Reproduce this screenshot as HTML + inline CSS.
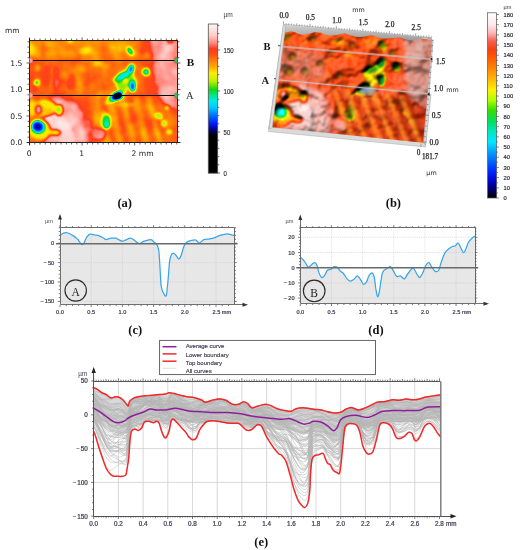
<!DOCTYPE html>
<html><head><meta charset="utf-8"><style>
html,body{margin:0;padding:0;background:#fff;width:520px;height:550px;overflow:hidden;position:relative}
svg{display:block}
</style></head><body>
<svg width="520" height="550" viewBox="0 0 520 550">
<path d="M60,235.4C60.58,235.02 62.15,233.5 63.5,233.1C64.85,232.7 66.57,232.62 68.1,233C69.63,233.38 71.17,234.42 72.7,235.4C74.23,236.38 76.15,237.82 77.3,238.9C78.45,239.98 78.82,240.95 79.6,241.9C80.38,242.85 81.22,244.53 82,244.6C82.78,244.67 83.53,243.52 84.3,242.3C85.07,241.08 85.65,238.65 86.6,237.3C87.55,235.95 88.65,234.58 90,234.2C91.35,233.82 93.15,234.72 94.7,235C96.25,235.28 97.77,235.37 99.3,235.9C100.83,236.43 102.75,237.58 103.9,238.2C105.05,238.82 105.05,239.6 106.2,239.6C107.35,239.6 109.27,238.43 110.8,238.2C112.33,237.97 114.03,237.93 115.4,238.2C116.77,238.47 117.83,239.3 119,239.8C120.17,240.3 121.23,241.2 122.4,241.2C123.57,241.2 124.65,240.3 126,239.8C127.35,239.3 129.07,238.08 130.5,238.2C131.93,238.32 133.15,239.62 134.6,240.5C136.05,241.38 137.65,243.38 139.2,243.5C140.75,243.62 141.97,241.85 143.9,241.2C145.83,240.55 149.08,239.42 150.8,239.6C152.52,239.78 153.13,241.35 154.2,242.3C155.27,243.25 156.42,243.75 157.2,245.3C157.98,246.85 158.43,247.87 158.9,251.6C159.37,255.33 159.62,261.93 160,267.7C160.38,273.47 160.62,281.97 161.2,286.2C161.78,290.43 162.85,291.48 163.5,293.1C164.15,294.72 164.6,295.7 165.1,295.9C165.6,296.1 166,297.07 166.5,294.3C167,291.53 167.57,284.88 168.1,279.3C168.63,273.72 169.12,264.97 169.7,260.8C170.28,256.63 170.9,255.53 171.6,254.3C172.3,253.07 173.13,253.17 173.9,253.4C174.67,253.63 175.35,254.77 176.2,255.7C177.05,256.63 178.15,259.12 179,259C179.85,258.88 180.53,257 181.3,255C182.07,253 182.72,249.12 183.6,247C184.48,244.88 185.33,243.38 186.6,242.3C187.87,241.22 189.67,240.88 191.2,240.5C192.73,240.12 194.45,239.58 195.8,240C197.15,240.42 197.95,243.07 199.3,243C200.65,242.93 202.17,240.28 203.9,239.6C205.63,238.92 207.77,239.28 209.7,238.9C211.63,238.52 213.78,237.88 215.5,237.3C217.22,236.72 218.08,235.98 220,235.4C221.92,234.82 225.07,233.88 227,233.8C228.93,233.72 230.27,234.63 231.6,234.9C232.93,235.17 234.43,235.32 235,235.4 L235,304.8 L60,304.8 Z" fill="#e7e7e7"/>
<line x1="91.2" y1="227.4" x2="91.2" y2="304.8" stroke="#c4c4c4" stroke-width="0.6" stroke-dasharray="1,1.2"/>
<line x1="122.4" y1="227.4" x2="122.4" y2="304.8" stroke="#c4c4c4" stroke-width="0.6" stroke-dasharray="1,1.2"/>
<line x1="153.6" y1="227.4" x2="153.6" y2="304.8" stroke="#c4c4c4" stroke-width="0.6" stroke-dasharray="1,1.2"/>
<line x1="184.8" y1="227.4" x2="184.8" y2="304.8" stroke="#c4c4c4" stroke-width="0.6" stroke-dasharray="1,1.2"/>
<line x1="216" y1="227.4" x2="216" y2="304.8" stroke="#c4c4c4" stroke-width="0.6" stroke-dasharray="1,1.2"/>
<line x1="60" y1="262.6" x2="234.6" y2="262.6" stroke="#c4c4c4" stroke-width="0.6" stroke-dasharray="1,1.2"/>
<line x1="60" y1="282" x2="234.6" y2="282" stroke="#c4c4c4" stroke-width="0.6" stroke-dasharray="1,1.2"/>
<line x1="60" y1="301.4" x2="234.6" y2="301.4" stroke="#c4c4c4" stroke-width="0.6" stroke-dasharray="1,1.2"/>
<path d="M60,235.4C60.58,235.02 62.15,233.5 63.5,233.1C64.85,232.7 66.57,232.62 68.1,233C69.63,233.38 71.17,234.42 72.7,235.4C74.23,236.38 76.15,237.82 77.3,238.9C78.45,239.98 78.82,240.95 79.6,241.9C80.38,242.85 81.22,244.53 82,244.6C82.78,244.67 83.53,243.52 84.3,242.3C85.07,241.08 85.65,238.65 86.6,237.3C87.55,235.95 88.65,234.58 90,234.2C91.35,233.82 93.15,234.72 94.7,235C96.25,235.28 97.77,235.37 99.3,235.9C100.83,236.43 102.75,237.58 103.9,238.2C105.05,238.82 105.05,239.6 106.2,239.6C107.35,239.6 109.27,238.43 110.8,238.2C112.33,237.97 114.03,237.93 115.4,238.2C116.77,238.47 117.83,239.3 119,239.8C120.17,240.3 121.23,241.2 122.4,241.2C123.57,241.2 124.65,240.3 126,239.8C127.35,239.3 129.07,238.08 130.5,238.2C131.93,238.32 133.15,239.62 134.6,240.5C136.05,241.38 137.65,243.38 139.2,243.5C140.75,243.62 141.97,241.85 143.9,241.2C145.83,240.55 149.08,239.42 150.8,239.6C152.52,239.78 153.13,241.35 154.2,242.3C155.27,243.25 156.42,243.75 157.2,245.3C157.98,246.85 158.43,247.87 158.9,251.6C159.37,255.33 159.62,261.93 160,267.7C160.38,273.47 160.62,281.97 161.2,286.2C161.78,290.43 162.85,291.48 163.5,293.1C164.15,294.72 164.6,295.7 165.1,295.9C165.6,296.1 166,297.07 166.5,294.3C167,291.53 167.57,284.88 168.1,279.3C168.63,273.72 169.12,264.97 169.7,260.8C170.28,256.63 170.9,255.53 171.6,254.3C172.3,253.07 173.13,253.17 173.9,253.4C174.67,253.63 175.35,254.77 176.2,255.7C177.05,256.63 178.15,259.12 179,259C179.85,258.88 180.53,257 181.3,255C182.07,253 182.72,249.12 183.6,247C184.48,244.88 185.33,243.38 186.6,242.3C187.87,241.22 189.67,240.88 191.2,240.5C192.73,240.12 194.45,239.58 195.8,240C197.15,240.42 197.95,243.07 199.3,243C200.65,242.93 202.17,240.28 203.9,239.6C205.63,238.92 207.77,239.28 209.7,238.9C211.63,238.52 213.78,237.88 215.5,237.3C217.22,236.72 218.08,235.98 220,235.4C221.92,234.82 225.07,233.88 227,233.8C228.93,233.72 230.27,234.63 231.6,234.9C232.93,235.17 234.43,235.32 235,235.4" fill="none" stroke="#35a6ea" stroke-width="1.25" stroke-linejoin="round"/>
<line x1="56" y1="243.7" x2="237.6" y2="243.7" stroke="#6a6a6a" stroke-width="1.4"/>
<line x1="60.5" y1="227.5" x2="234.5" y2="227.5" stroke="#6a6a6a" stroke-width="1"/>
<line x1="234.5" y1="227.5" x2="234.5" y2="304.5" stroke="#6a6a6a" stroke-width="1"/>
<line x1="60.5" y1="217" x2="60.5" y2="304.5" stroke="#707070" stroke-width="1"/>
<line x1="60.5" y1="304.5" x2="245" y2="304.5" stroke="#707070" stroke-width="1"/>
<path d="M60,214 l-2,5.5 l4,0 Z" fill="#333"/>
<path d="M248,304.8 l-5.5,-2 l0,4 Z" fill="#333"/>
<path d="M60,304.8v2.2M60,227.4v-2.2M66.24,304.8v1.3M66.24,227.4v-1.3M72.48,304.8v1.3M72.48,227.4v-1.3M78.72,304.8v1.3M78.72,227.4v-1.3M84.96,304.8v1.3M84.96,227.4v-1.3M91.2,304.8v2.2M91.2,227.4v-2.2M97.44,304.8v1.3M97.44,227.4v-1.3M103.68,304.8v1.3M103.68,227.4v-1.3M109.92,304.8v1.3M109.92,227.4v-1.3M116.16,304.8v1.3M116.16,227.4v-1.3M122.4,304.8v2.2M122.4,227.4v-2.2M128.64,304.8v1.3M128.64,227.4v-1.3M134.88,304.8v1.3M134.88,227.4v-1.3M141.12,304.8v1.3M141.12,227.4v-1.3M147.36,304.8v1.3M147.36,227.4v-1.3M153.6,304.8v2.2M153.6,227.4v-2.2M159.84,304.8v1.3M159.84,227.4v-1.3M166.08,304.8v1.3M166.08,227.4v-1.3M172.32,304.8v1.3M172.32,227.4v-1.3M178.56,304.8v1.3M178.56,227.4v-1.3M184.8,304.8v2.2M184.8,227.4v-2.2M191.04,304.8v1.3M191.04,227.4v-1.3M197.28,304.8v1.3M197.28,227.4v-1.3M203.52,304.8v1.3M203.52,227.4v-1.3M209.76,304.8v1.3M209.76,227.4v-1.3M216,304.8v2.2M216,227.4v-2.2M222.24,304.8v1.3M222.24,227.4v-1.3M228.48,304.8v1.3M228.48,227.4v-1.3M60,227.68h-1.3M234.6,227.68h1.3M60,231.56h-1.3M234.6,231.56h1.3M60,235.44h-1.3M234.6,235.44h1.3M60,239.32h-1.3M234.6,239.32h1.3M60,243.2h-2.2M234.6,243.2h2.2M60,247.08h-1.3M234.6,247.08h1.3M60,250.96h-1.3M234.6,250.96h1.3M60,254.84h-1.3M234.6,254.84h1.3M60,258.72h-1.3M234.6,258.72h1.3M60,262.6h-2.2M234.6,262.6h2.2M60,266.48h-1.3M234.6,266.48h1.3M60,270.36h-1.3M234.6,270.36h1.3M60,274.24h-1.3M234.6,274.24h1.3M60,278.12h-1.3M234.6,278.12h1.3M60,282h-2.2M234.6,282h2.2M60,285.88h-1.3M234.6,285.88h1.3M60,289.76h-1.3M234.6,289.76h1.3M60,293.64h-1.3M234.6,293.64h1.3M60,297.52h-1.3M234.6,297.52h1.3M60,301.4h-2.2M234.6,301.4h2.2" stroke="#555" stroke-width="0.8" fill="none"/>
<text x="54.2" y="245.2" style="font-family:'Liberation Sans','DejaVu Sans',sans-serif;font-size:5.6px;stroke:#3c3c50;stroke-width:0.22" fill="#3c3c50" text-anchor="end">0</text>
<text x="54.2" y="264.6" style="font-family:'Liberation Sans','DejaVu Sans',sans-serif;font-size:5.6px;stroke:#3c3c50;stroke-width:0.22" fill="#3c3c50" text-anchor="end">50</text>
<line x1="43.57" y1="262.5" x2="46.77" y2="262.5" stroke="#7a7a88" stroke-width="0.75"/>
<text x="54.2" y="284" style="font-family:'Liberation Sans','DejaVu Sans',sans-serif;font-size:5.6px;stroke:#3c3c50;stroke-width:0.22" fill="#3c3c50" text-anchor="end">100</text>
<line x1="40.46" y1="281.5" x2="43.66" y2="281.5" stroke="#7a7a88" stroke-width="0.75"/>
<text x="54.2" y="303.4" style="font-family:'Liberation Sans','DejaVu Sans',sans-serif;font-size:5.6px;stroke:#3c3c50;stroke-width:0.22" fill="#3c3c50" text-anchor="end">150</text>
<line x1="40.46" y1="301.5" x2="43.66" y2="301.5" stroke="#7a7a88" stroke-width="0.75"/>
<text x="53" y="222.5" style="font-family:'Liberation Sans','DejaVu Sans',sans-serif;font-size:5.6px;" fill="#3c3c50" text-anchor="end">µm</text>
<text x="60" y="314.2" style="font-family:'Liberation Sans','DejaVu Sans',sans-serif;font-size:5.6px;stroke:#3c3c50;stroke-width:0.22" fill="#3c3c50" text-anchor="middle">0.0</text>
<text x="91.2" y="314.2" style="font-family:'Liberation Sans','DejaVu Sans',sans-serif;font-size:5.6px;stroke:#3c3c50;stroke-width:0.22" fill="#3c3c50" text-anchor="middle">0.5</text>
<text x="122.4" y="314.2" style="font-family:'Liberation Sans','DejaVu Sans',sans-serif;font-size:5.6px;stroke:#3c3c50;stroke-width:0.22" fill="#3c3c50" text-anchor="middle">1.0</text>
<text x="153.6" y="314.2" style="font-family:'Liberation Sans','DejaVu Sans',sans-serif;font-size:5.6px;stroke:#3c3c50;stroke-width:0.22" fill="#3c3c50" text-anchor="middle">1.5</text>
<text x="184.8" y="314.2" style="font-family:'Liberation Sans','DejaVu Sans',sans-serif;font-size:5.6px;stroke:#3c3c50;stroke-width:0.22" fill="#3c3c50" text-anchor="middle">2.0</text>
<text x="212.5" y="314.2" style="font-family:'Liberation Sans','DejaVu Sans',sans-serif;font-size:5.6px;stroke:#3c3c50;stroke-width:0.22" fill="#3c3c50" text-anchor="start">2.5 mm</text>
<circle cx="75.7" cy="290.5" r="10.7" fill="none" stroke="#2a2a2a" stroke-width="1.15"/>
<text x="75.7" y="296.2" style="font-family:'Liberation Serif','DejaVu Serif',serif;font-size:11.5px;" fill="#222" text-anchor="middle">A</text>
<path d="M300.3,257.3C300.77,257.7 302.25,258.8 303.1,259.7C303.95,260.6 304.55,261.48 305.4,262.7C306.25,263.92 307.23,266.62 308.2,267C309.17,267.38 310.13,265.72 311.2,265C312.27,264.28 313.63,262.63 314.6,262.7C315.57,262.77 316.3,263.78 317,265.4C317.7,267.02 318.03,270.4 318.8,272.4C319.57,274.4 320.68,276.83 321.6,277.4C322.52,277.97 323.35,276.95 324.3,275.8C325.25,274.65 326.4,271.53 327.3,270.5C328.2,269.47 329,269.85 329.7,269.6C330.4,269.35 330.73,269.5 331.5,269C332.27,268.5 333.3,266.85 334.3,266.6C335.3,266.35 336.47,266.73 337.5,267.5C338.53,268.27 339.5,270.2 340.5,271.2C341.5,272.2 342.42,272.23 343.5,273.5C344.58,274.77 345.85,277.53 347,278.8C348.15,280.07 349.25,281.02 350.4,281.1C351.55,281.18 352.73,280.18 353.9,279.3C355.07,278.42 356.32,275.8 357.4,275.8C358.48,275.8 359.37,277.87 360.4,279.3C361.43,280.73 362.57,284.02 363.6,284.4C364.63,284.78 365.72,283.03 366.6,281.6C367.48,280.17 368.02,277.27 368.9,275.8C369.78,274.33 371.02,272.6 371.9,272.8C372.78,273 373.55,274.38 374.2,277C374.85,279.62 375.25,285.23 375.8,288.5C376.35,291.77 376.92,296.02 377.5,296.6C378.08,297.18 378.68,294.88 379.3,292C379.92,289.12 380.62,282.65 381.2,279.3C381.78,275.95 381.97,273.63 382.8,271.9C383.63,270.17 384.93,269.78 386.2,268.9C387.47,268.02 389.18,266.22 390.4,266.6C391.62,266.98 392.42,269.55 393.5,271.2C394.58,272.85 395.75,275.73 396.9,276.5C398.05,277.27 399.17,275.42 400.4,275.8C401.63,276.18 403.03,279.18 404.3,278.8C405.57,278.42 406.53,275.27 408,273.5C409.47,271.73 411.67,268.2 413.1,268.2C414.53,268.2 415.52,271.92 416.6,273.5C417.68,275.08 418.57,277.82 419.6,277.7C420.63,277.58 421.77,274.85 422.8,272.8C423.83,270.75 424.8,267.08 425.8,265.4C426.8,263.72 427.83,262.5 428.8,262.7C429.77,262.9 430.57,265.18 431.6,266.6C432.63,268.02 433.85,270.55 435,271.2C436.15,271.85 437.45,272.03 438.5,270.5C439.55,268.97 440.22,264.97 441.3,262C442.38,259.03 443.73,254.9 445,252.7C446.27,250.5 447.67,249.83 448.9,248.8C450.13,247.77 451.32,247 452.4,246.5C453.48,246 454.45,246.38 455.4,245.8C456.35,245.22 457.27,242.8 458.1,243C458.93,243.2 459.52,245.38 460.4,247C461.28,248.62 462.52,252.32 463.4,252.7C464.28,253.08 464.85,251.03 465.7,249.3C466.55,247.57 467.45,244.15 468.5,242.3C469.55,240.45 470.92,239.27 472,238.2C473.08,237.13 474.5,236.28 475,235.9 L475,303.8 L300.3,303.8 Z" fill="#e7e7e7"/>
<line x1="331.45" y1="227.4" x2="331.45" y2="303.8" stroke="#c4c4c4" stroke-width="0.6" stroke-dasharray="1,1.2"/>
<line x1="362.6" y1="227.4" x2="362.6" y2="303.8" stroke="#c4c4c4" stroke-width="0.6" stroke-dasharray="1,1.2"/>
<line x1="393.75" y1="227.4" x2="393.75" y2="303.8" stroke="#c4c4c4" stroke-width="0.6" stroke-dasharray="1,1.2"/>
<line x1="424.9" y1="227.4" x2="424.9" y2="303.8" stroke="#c4c4c4" stroke-width="0.6" stroke-dasharray="1,1.2"/>
<line x1="456.05" y1="227.4" x2="456.05" y2="303.8" stroke="#c4c4c4" stroke-width="0.6" stroke-dasharray="1,1.2"/>
<line x1="300.3" y1="237.3" x2="475.2" y2="237.3" stroke="#c4c4c4" stroke-width="0.6" stroke-dasharray="1,1.2"/>
<line x1="300.3" y1="252.5" x2="475.2" y2="252.5" stroke="#c4c4c4" stroke-width="0.6" stroke-dasharray="1,1.2"/>
<line x1="300.3" y1="282.9" x2="475.2" y2="282.9" stroke="#c4c4c4" stroke-width="0.6" stroke-dasharray="1,1.2"/>
<line x1="300.3" y1="298.1" x2="475.2" y2="298.1" stroke="#c4c4c4" stroke-width="0.6" stroke-dasharray="1,1.2"/>
<path d="M300.3,257.3C300.77,257.7 302.25,258.8 303.1,259.7C303.95,260.6 304.55,261.48 305.4,262.7C306.25,263.92 307.23,266.62 308.2,267C309.17,267.38 310.13,265.72 311.2,265C312.27,264.28 313.63,262.63 314.6,262.7C315.57,262.77 316.3,263.78 317,265.4C317.7,267.02 318.03,270.4 318.8,272.4C319.57,274.4 320.68,276.83 321.6,277.4C322.52,277.97 323.35,276.95 324.3,275.8C325.25,274.65 326.4,271.53 327.3,270.5C328.2,269.47 329,269.85 329.7,269.6C330.4,269.35 330.73,269.5 331.5,269C332.27,268.5 333.3,266.85 334.3,266.6C335.3,266.35 336.47,266.73 337.5,267.5C338.53,268.27 339.5,270.2 340.5,271.2C341.5,272.2 342.42,272.23 343.5,273.5C344.58,274.77 345.85,277.53 347,278.8C348.15,280.07 349.25,281.02 350.4,281.1C351.55,281.18 352.73,280.18 353.9,279.3C355.07,278.42 356.32,275.8 357.4,275.8C358.48,275.8 359.37,277.87 360.4,279.3C361.43,280.73 362.57,284.02 363.6,284.4C364.63,284.78 365.72,283.03 366.6,281.6C367.48,280.17 368.02,277.27 368.9,275.8C369.78,274.33 371.02,272.6 371.9,272.8C372.78,273 373.55,274.38 374.2,277C374.85,279.62 375.25,285.23 375.8,288.5C376.35,291.77 376.92,296.02 377.5,296.6C378.08,297.18 378.68,294.88 379.3,292C379.92,289.12 380.62,282.65 381.2,279.3C381.78,275.95 381.97,273.63 382.8,271.9C383.63,270.17 384.93,269.78 386.2,268.9C387.47,268.02 389.18,266.22 390.4,266.6C391.62,266.98 392.42,269.55 393.5,271.2C394.58,272.85 395.75,275.73 396.9,276.5C398.05,277.27 399.17,275.42 400.4,275.8C401.63,276.18 403.03,279.18 404.3,278.8C405.57,278.42 406.53,275.27 408,273.5C409.47,271.73 411.67,268.2 413.1,268.2C414.53,268.2 415.52,271.92 416.6,273.5C417.68,275.08 418.57,277.82 419.6,277.7C420.63,277.58 421.77,274.85 422.8,272.8C423.83,270.75 424.8,267.08 425.8,265.4C426.8,263.72 427.83,262.5 428.8,262.7C429.77,262.9 430.57,265.18 431.6,266.6C432.63,268.02 433.85,270.55 435,271.2C436.15,271.85 437.45,272.03 438.5,270.5C439.55,268.97 440.22,264.97 441.3,262C442.38,259.03 443.73,254.9 445,252.7C446.27,250.5 447.67,249.83 448.9,248.8C450.13,247.77 451.32,247 452.4,246.5C453.48,246 454.45,246.38 455.4,245.8C456.35,245.22 457.27,242.8 458.1,243C458.93,243.2 459.52,245.38 460.4,247C461.28,248.62 462.52,252.32 463.4,252.7C464.28,253.08 464.85,251.03 465.7,249.3C466.55,247.57 467.45,244.15 468.5,242.3C469.55,240.45 470.92,239.27 472,238.2C473.08,237.13 474.5,236.28 475,235.9" fill="none" stroke="#35a6ea" stroke-width="1.25" stroke-linejoin="round"/>
<line x1="296.3" y1="267.7" x2="478.2" y2="267.7" stroke="#6a6a6a" stroke-width="1.4"/>
<line x1="300.5" y1="227.5" x2="475.5" y2="227.5" stroke="#6a6a6a" stroke-width="1"/>
<line x1="475.5" y1="227.5" x2="475.5" y2="303.5" stroke="#6a6a6a" stroke-width="1"/>
<line x1="300.5" y1="217.6" x2="300.5" y2="303.5" stroke="#707070" stroke-width="1"/>
<line x1="300.5" y1="303.5" x2="486" y2="303.5" stroke="#707070" stroke-width="1"/>
<path d="M300.3,214.6 l-2,5.5 l4,0 Z" fill="#333"/>
<path d="M489,303.8 l-5.5,-2 l0,4 Z" fill="#333"/>
<path d="M300.3,303.8v2.2M300.3,227.4v-2.2M306.53,303.8v1.3M306.53,227.4v-1.3M312.76,303.8v1.3M312.76,227.4v-1.3M318.99,303.8v1.3M318.99,227.4v-1.3M325.22,303.8v1.3M325.22,227.4v-1.3M331.45,303.8v2.2M331.45,227.4v-2.2M337.68,303.8v1.3M337.68,227.4v-1.3M343.91,303.8v1.3M343.91,227.4v-1.3M350.14,303.8v1.3M350.14,227.4v-1.3M356.37,303.8v1.3M356.37,227.4v-1.3M362.6,303.8v2.2M362.6,227.4v-2.2M368.83,303.8v1.3M368.83,227.4v-1.3M375.06,303.8v1.3M375.06,227.4v-1.3M381.29,303.8v1.3M381.29,227.4v-1.3M387.52,303.8v1.3M387.52,227.4v-1.3M393.75,303.8v2.2M393.75,227.4v-2.2M399.98,303.8v1.3M399.98,227.4v-1.3M406.21,303.8v1.3M406.21,227.4v-1.3M412.44,303.8v1.3M412.44,227.4v-1.3M418.67,303.8v1.3M418.67,227.4v-1.3M424.9,303.8v2.2M424.9,227.4v-2.2M431.13,303.8v1.3M431.13,227.4v-1.3M437.36,303.8v1.3M437.36,227.4v-1.3M443.59,303.8v1.3M443.59,227.4v-1.3M449.82,303.8v1.3M449.82,227.4v-1.3M456.05,303.8v2.2M456.05,227.4v-2.2M462.28,303.8v1.3M462.28,227.4v-1.3M468.51,303.8v1.3M468.51,227.4v-1.3M474.74,303.8v1.3M474.74,227.4v-1.3M300.3,228.18h-1.3M475.2,228.18h1.3M300.3,231.22h-1.3M475.2,231.22h1.3M300.3,234.26h-1.3M475.2,234.26h1.3M300.3,237.3h-2.2M475.2,237.3h2.2M300.3,240.34h-1.3M475.2,240.34h1.3M300.3,243.38h-1.3M475.2,243.38h1.3M300.3,246.42h-1.3M475.2,246.42h1.3M300.3,249.46h-1.3M475.2,249.46h1.3M300.3,252.5h-2.2M475.2,252.5h2.2M300.3,255.54h-1.3M475.2,255.54h1.3M300.3,258.58h-1.3M475.2,258.58h1.3M300.3,261.62h-1.3M475.2,261.62h1.3M300.3,264.66h-1.3M475.2,264.66h1.3M300.3,267.7h-2.2M475.2,267.7h2.2M300.3,270.74h-1.3M475.2,270.74h1.3M300.3,273.78h-1.3M475.2,273.78h1.3M300.3,276.82h-1.3M475.2,276.82h1.3M300.3,279.86h-1.3M475.2,279.86h1.3M300.3,282.9h-2.2M475.2,282.9h2.2M300.3,285.94h-1.3M475.2,285.94h1.3M300.3,288.98h-1.3M475.2,288.98h1.3M300.3,292.02h-1.3M475.2,292.02h1.3M300.3,295.06h-1.3M475.2,295.06h1.3M300.3,298.1h-2.2M475.2,298.1h2.2M300.3,301.14h-1.3M475.2,301.14h1.3" stroke="#555" stroke-width="0.8" fill="none"/>
<text x="294.5" y="239.3" style="font-family:'Liberation Sans','DejaVu Sans',sans-serif;font-size:5.6px;stroke:#3c3c50;stroke-width:0.22" fill="#3c3c50" text-anchor="end">20</text>
<text x="294.5" y="254.5" style="font-family:'Liberation Sans','DejaVu Sans',sans-serif;font-size:5.6px;stroke:#3c3c50;stroke-width:0.22" fill="#3c3c50" text-anchor="end">10</text>
<text x="294.5" y="269.7" style="font-family:'Liberation Sans','DejaVu Sans',sans-serif;font-size:5.6px;stroke:#3c3c50;stroke-width:0.22" fill="#3c3c50" text-anchor="end">0</text>
<text x="294.5" y="284.9" style="font-family:'Liberation Sans','DejaVu Sans',sans-serif;font-size:5.6px;stroke:#3c3c50;stroke-width:0.22" fill="#3c3c50" text-anchor="end">10</text>
<line x1="283.87" y1="282.5" x2="287.07" y2="282.5" stroke="#7a7a88" stroke-width="0.75"/>
<text x="294.5" y="300.1" style="font-family:'Liberation Sans','DejaVu Sans',sans-serif;font-size:5.6px;stroke:#3c3c50;stroke-width:0.22" fill="#3c3c50" text-anchor="end">20</text>
<line x1="283.87" y1="298.5" x2="287.07" y2="298.5" stroke="#7a7a88" stroke-width="0.75"/>
<text x="293.3" y="223.1" style="font-family:'Liberation Sans','DejaVu Sans',sans-serif;font-size:5.6px;" fill="#3c3c50" text-anchor="end">µm</text>
<text x="300.3" y="314.2" style="font-family:'Liberation Sans','DejaVu Sans',sans-serif;font-size:5.6px;stroke:#3c3c50;stroke-width:0.22" fill="#3c3c50" text-anchor="middle">0.0</text>
<text x="331.45" y="314.2" style="font-family:'Liberation Sans','DejaVu Sans',sans-serif;font-size:5.6px;stroke:#3c3c50;stroke-width:0.22" fill="#3c3c50" text-anchor="middle">0.5</text>
<text x="362.6" y="314.2" style="font-family:'Liberation Sans','DejaVu Sans',sans-serif;font-size:5.6px;stroke:#3c3c50;stroke-width:0.22" fill="#3c3c50" text-anchor="middle">1.0</text>
<text x="393.75" y="314.2" style="font-family:'Liberation Sans','DejaVu Sans',sans-serif;font-size:5.6px;stroke:#3c3c50;stroke-width:0.22" fill="#3c3c50" text-anchor="middle">1.5</text>
<text x="424.9" y="314.2" style="font-family:'Liberation Sans','DejaVu Sans',sans-serif;font-size:5.6px;stroke:#3c3c50;stroke-width:0.22" fill="#3c3c50" text-anchor="middle">2.0</text>
<text x="452.55" y="314.2" style="font-family:'Liberation Sans','DejaVu Sans',sans-serif;font-size:5.6px;stroke:#3c3c50;stroke-width:0.22" fill="#3c3c50" text-anchor="start">2.5 mm</text>
<circle cx="314.2" cy="290.9" r="10.8" fill="none" stroke="#2a2a2a" stroke-width="1.15"/>
<text x="314.2" y="296.6" style="font-family:'Liberation Serif','DejaVu Serif',serif;font-size:11.5px;" fill="#222" text-anchor="middle">B</text>
<line x1="118.4" y1="381" x2="118.4" y2="516.2" stroke="#c8c8c8" stroke-width="0.7"/>
<line x1="143.1" y1="381" x2="143.1" y2="516.2" stroke="#c8c8c8" stroke-width="0.7"/>
<line x1="167.8" y1="381" x2="167.8" y2="516.2" stroke="#c8c8c8" stroke-width="0.7"/>
<line x1="192.5" y1="381" x2="192.5" y2="516.2" stroke="#c8c8c8" stroke-width="0.7"/>
<line x1="217.2" y1="381" x2="217.2" y2="516.2" stroke="#c8c8c8" stroke-width="0.7"/>
<line x1="241.9" y1="381" x2="241.9" y2="516.2" stroke="#c8c8c8" stroke-width="0.7"/>
<line x1="266.6" y1="381" x2="266.6" y2="516.2" stroke="#c8c8c8" stroke-width="0.7"/>
<line x1="291.3" y1="381" x2="291.3" y2="516.2" stroke="#c8c8c8" stroke-width="0.7"/>
<line x1="316" y1="381" x2="316" y2="516.2" stroke="#c8c8c8" stroke-width="0.7"/>
<line x1="340.7" y1="381" x2="340.7" y2="516.2" stroke="#c8c8c8" stroke-width="0.7"/>
<line x1="365.4" y1="381" x2="365.4" y2="516.2" stroke="#c8c8c8" stroke-width="0.7"/>
<line x1="390.1" y1="381" x2="390.1" y2="516.2" stroke="#c8c8c8" stroke-width="0.7"/>
<line x1="414.8" y1="381" x2="414.8" y2="516.2" stroke="#c8c8c8" stroke-width="0.7"/>
<line x1="93.7" y1="448.6" x2="440.8" y2="448.6" stroke="#c8c8c8" stroke-width="0.7"/>
<line x1="93.7" y1="482.4" x2="440.8" y2="482.4" stroke="#c8c8c8" stroke-width="0.7"/>
<path d="M93.7,387.8 96.0,388.7 98.4,390.2 100.7,391.9 103.0,393.2 105.3,394.2 107.7,395.6 110.0,397.2 112.3,397.6 114.7,397.0 117.0,397.1 119.3,397.4 121.6,399.0 124.0,401.1 126.3,404.1 128.6,404.7 131.0,400.2 133.3,398.4 135.6,397.6 138.0,396.9 140.3,396.5 142.6,396.2 144.9,395.8 147.3,395.6 149.6,395.4 151.9,395.2 154.3,395.0 156.6,394.8 158.9,394.5 161.2,394.4 163.6,394.2 165.9,393.9 168.2,393.1 170.6,393.0 172.9,393.3 175.2,393.8 177.5,394.5 179.9,395.1 182.2,395.7 184.5,396.2 186.9,396.8 189.2,397.0 191.5,397.3 193.9,397.5 196.2,398.3 198.5,399.0 200.8,399.7 203.2,401.0 205.5,402.3 207.8,401.6 210.2,400.9 212.5,400.2 214.8,399.8 217.1,399.3 219.5,399.0 221.8,399.5 224.1,399.9 226.5,400.6 228.8,402.1 231.1,403.5 233.4,404.4 235.8,404.4 238.1,404.4 240.4,403.3 242.8,402.1 245.1,402.4 247.4,403.4 249.7,405.7 252.1,407.8 254.4,407.1 256.7,406.5 259.1,405.8 261.4,405.2 263.7,404.5 266.1,404.7 268.4,405.0 270.7,405.7 273.0,406.8 275.4,407.9 277.7,408.8 280.0,409.4 282.4,410.0 284.7,410.6 287.0,410.8 289.3,411.0 291.7,411.0 294.0,409.7 296.3,408.8 298.7,408.4 301.0,408.1 303.3,407.9 305.6,408.1 308.0,408.3 310.3,408.6 312.6,409.0 315.0,409.4 317.3,409.6 319.6,409.8 322.0,410.2 324.3,410.8 326.6,411.4 328.9,411.9 331.3,412.3 333.6,412.7 335.9,412.8 338.3,412.5 340.6,412.2 342.9,411.0 345.2,409.6 347.6,408.7 349.9,408.1 352.2,407.8 354.6,408.7 356.9,409.5 359.2,409.6 361.5,409.0 363.9,408.4 366.2,407.4 368.5,406.3 370.9,405.2 373.2,404.1 375.5,403.1 377.8,402.1 380.2,401.9 382.5,401.7 384.8,401.5 387.2,401.0 389.5,400.5 391.8,400.0 394.2,399.9 396.5,400.1 398.8,400.3 401.1,399.9 403.5,399.5 405.8,399.2 408.1,399.3 410.5,399.5 412.8,399.8 415.1,399.5 417.4,399.2 419.8,398.9 422.1,398.2 424.4,397.5 426.8,396.9 429.1,396.6 431.4,396.2 433.7,395.8 436.1,395.5 438.4,395.1 440.7,394.8 440.7,417.6 438.4,417.7 436.1,417.8 433.7,417.8 431.4,417.9 429.1,418.0 426.8,418.2 424.4,419.1 422.1,420.0 419.8,420.9 417.4,421.0 415.1,421.1 412.8,421.2 410.5,421.3 408.1,421.4 405.8,421.4 403.5,421.4 401.1,421.4 398.8,421.4 396.5,421.4 394.2,421.4 391.8,421.5 389.5,421.7 387.2,421.8 384.8,422.0 382.5,422.2 380.2,423.3 377.8,424.3 375.5,425.4 373.2,426.3 370.9,427.0 368.5,427.7 366.2,428.2 363.9,427.7 361.5,427.3 359.2,426.8 356.9,426.1 354.6,424.6 352.2,424.0 349.9,423.8 347.6,424.6 345.2,427.8 342.9,429.3 340.6,430.9 338.3,435.9 335.9,439.5 333.6,441.2 331.3,439.7 328.9,437.8 326.6,436.1 324.3,434.8 322.0,433.4 319.6,432.7 317.3,432.5 315.0,432.3 312.6,432.6 310.3,433.5 308.0,434.2 305.6,434.6 303.3,434.8 301.0,433.9 298.7,433.0 296.3,432.0 294.0,431.1 291.7,430.1 289.3,429.5 287.0,429.7 284.7,429.8 282.4,430.0 280.0,429.9 277.7,429.7 275.4,429.5 273.0,429.2 270.7,429.0 268.4,428.8 266.1,428.5 263.7,428.3 261.4,426.0 259.1,425.2 256.7,425.2 254.4,427.2 252.1,426.9 249.7,426.5 247.4,426.0 245.1,425.5 242.8,425.0 240.4,424.6 238.1,423.3 235.8,423.3 233.4,423.3 231.1,423.3 228.8,423.2 226.5,422.8 224.1,422.4 221.8,422.0 219.5,421.6 217.1,421.2 214.8,420.9 212.5,420.8 210.2,421.1 207.8,421.4 205.5,422.8 203.2,422.7 200.8,422.5 198.5,422.4 196.2,422.3 193.9,422.3 191.5,422.2 189.2,421.7 186.9,421.3 184.5,420.8 182.2,420.3 179.9,419.9 177.5,419.5 175.2,419.1 172.9,419.4 170.6,420.0 168.2,420.4 165.9,420.7 163.6,420.7 161.2,420.7 158.9,420.7 156.6,420.7 154.3,420.4 151.9,420.1 149.6,420.1 147.3,421.1 144.9,421.9 142.6,423.2 140.3,424.0 138.0,424.8 135.6,425.6 133.3,426.6 131.0,427.6 128.6,428.7 126.3,430.5 124.0,432.0 121.6,432.7 119.3,433.4 117.0,433.1 114.7,432.6 112.3,431.6 110.0,430.0 107.7,428.3 105.3,426.7 103.0,425.0 100.7,423.4 98.4,421.9 96.0,420.5 93.7,419.1 Z" fill="#d9d9d9"/>
<g fill="none" stroke="#b4b4b4" stroke-width="0.5" stroke-linejoin="round">
<path d="M93.7,423.1 96.0,429.4 98.4,436.9 100.7,443.7 103.0,449.8 105.3,455.5 107.7,459.3 110.0,462.0 112.3,462.9 114.7,462.6 117.0,462.0 119.3,461.4 121.6,461.2 124.0,460.5 126.3,458.3 128.6,444.9 131.0,419.9 133.3,413.7 135.6,411.5 138.0,411.1 140.3,408.8 142.6,405.4 144.9,401.6 147.3,401.3 149.6,401.8 151.9,402.3 154.3,402.1 156.6,401.0 158.9,402.5 161.2,409.2 163.6,414.8 165.9,416.6 168.2,412.9 170.6,405.5 172.9,403.2 175.2,406.4 177.5,410.1 179.9,414.0 182.2,417.6 184.5,421.0 186.9,424.6 189.2,428.2 191.5,430.2 193.9,430.7 196.2,430.1 198.5,425.0 200.8,420.9 203.2,418.1 205.5,415.9 207.8,414.2 210.2,413.2 212.5,412.0 214.8,411.0 217.1,410.0 219.5,408.9 221.8,408.0 224.1,407.2 226.5,406.5 228.8,406.6 231.1,406.9 233.4,407.1 235.8,406.9 238.1,407.1 240.4,407.3 242.8,408.9 245.1,412.2 247.4,415.4 249.7,418.1 252.1,420.2 254.4,419.4 256.7,419.2 259.1,420.0 261.4,421.2 263.7,425.8 266.1,430.6 268.4,434.3 270.7,437.5 273.0,440.8 275.4,443.4 277.7,445.6 280.0,447.1 282.4,448.5 284.7,451.1 287.0,455.6 289.3,462.0 291.7,468.7 294.0,475.0 296.3,479.4 298.7,483.4 301.0,485.3 303.3,486.7 305.6,486.6 308.0,482.6 310.3,462.2 312.6,444.0 315.0,441.3 317.3,440.8 319.6,440.2 322.0,439.4 324.3,441.3 326.6,445.5 328.9,447.6 331.3,449.5 333.6,452.8 335.9,455.4 338.3,458.4 340.6,454.6 342.9,435.8 345.2,420.3 347.6,418.6 349.9,418.4 352.2,418.8 354.6,419.8 356.9,421.3 359.2,425.9 361.5,434.0 363.9,441.0 366.2,444.3 368.5,445.4 370.9,444.1 373.2,441.3 375.5,433.4 377.8,424.3 380.2,416.5 382.5,414.5 384.8,414.6 387.2,414.8 389.5,415.7 391.8,418.4 394.2,423.1 396.5,427.6 398.8,429.2 401.1,428.2 403.5,427.0 405.8,424.4 408.1,421.5 410.5,420.7 412.8,422.0 415.1,424.5 417.4,423.2 419.8,419.7 422.1,414.5 424.4,410.8 426.8,409.4 429.1,409.4 431.4,411.7 433.7,415.1 436.1,419.7 438.4,423.7 440.7,427.3"/>
<path d="M93.7,430.8 96.0,437.1 98.4,444.6 100.7,451.6 103.0,458.2 105.3,464.5 107.7,468.8 110.0,470.5 112.3,469.8 114.7,467.9 117.0,465.8 119.3,464.1 121.6,463.8 124.0,463.6 126.3,462.3 128.6,450.0 131.0,427.4 133.3,424.1 135.6,424.9 138.0,427.4 140.3,427.3 142.6,425.7 144.9,421.9 147.3,421.6 149.6,421.5 151.9,422.2 154.3,422.3 156.6,421.4 158.9,423.0 161.2,429.7 163.6,435.2 165.9,436.7 168.2,432.5 170.6,423.5 172.9,419.4 175.2,420.9 177.5,423.1 179.9,425.6 182.2,428.1 184.5,430.6 186.9,433.5 189.2,436.6 191.5,438.3 193.9,438.5 196.2,437.6 198.5,432.2 200.8,428.0 203.2,425.1 205.5,422.8 207.8,421.4 210.2,421.1 212.5,420.8 214.8,420.5 217.1,420.3 219.5,420.2 221.8,420.3 224.1,420.5 226.5,420.8 228.8,421.1 231.1,421.2 233.4,421.1 235.8,420.8 238.1,420.5 240.4,421.3 242.8,422.4 245.1,423.9 247.4,424.7 249.7,424.6 252.1,424.4 254.4,422.3 256.7,420.7 259.1,420.8 261.4,421.6 263.7,426.1 266.1,431.1 268.4,435.1 270.7,438.8 273.0,442.3 275.4,445.1 277.7,447.6 280.0,449.2 282.4,450.9 284.7,454.1 287.0,459.2 289.3,466.6 291.7,474.5 294.0,482.6 296.3,488.7 298.7,494.3 301.0,497.5 303.3,500.1 305.6,500.4 308.0,496.5 310.3,475.4 312.6,456.5 315.0,453.9 317.3,453.8 319.6,453.6 322.0,453.0 324.3,455.4 326.6,460.2 328.9,462.9 331.3,465.3 333.6,468.7 335.9,469.8 338.3,470.5 340.6,463.8 342.9,443.5 345.2,426.7 347.6,423.5 349.9,422.6 352.2,422.4 354.6,422.6 356.9,423.5 359.2,427.5 361.5,435.0 363.9,441.3 366.2,443.8 368.5,444.0 370.9,442.0 373.2,438.7 375.5,430.5 377.8,421.4 380.2,414.1 382.5,413.1 384.8,414.3 387.2,415.8 389.5,418.1 391.8,422.1 394.2,428.1 396.5,433.8 398.8,436.4 401.1,436.7 403.5,436.4 405.8,434.5 408.1,432.4 410.5,432.6 412.8,435.1 415.1,439.1 417.4,439.0 419.8,436.3 422.1,431.0 424.4,426.7 426.8,423.4 429.1,421.0 431.4,421.1 433.7,422.4 436.1,425.3 438.4,428.1 440.7,431.0"/>
<path d="M93.7,418.9 96.0,425.1 98.4,432.8 100.7,439.8 103.0,445.9 105.3,451.2 107.7,454.4 110.0,456.3 112.3,455.6 114.7,453.6 117.0,451.6 119.3,450.0 121.6,450.2 124.0,450.7 126.3,450.7 128.6,438.4 131.0,412.3 133.3,407.5 135.6,407.6 138.0,409.5 140.3,409.2 142.6,407.4 144.9,404.8 147.3,405.6 149.6,406.9 151.9,408.2 154.3,408.9 156.6,408.6 158.9,411.1 161.2,419.0 163.6,425.7 165.9,428.1 168.2,424.5 170.6,415.9 172.9,412.3 175.2,414.1 177.5,416.4 179.9,418.7 182.2,420.8 184.5,422.7 186.9,425.1 189.2,427.8 191.5,429.0 193.9,429.1 196.2,428.4 198.5,423.3 200.8,419.5 203.2,417.3 205.5,415.7 207.8,414.8 210.2,414.6 212.5,414.5 214.8,414.7 217.1,415.2 219.5,415.8 221.8,416.7 224.1,417.6 226.5,418.5 228.8,419.3 231.1,419.6 233.4,419.3 235.8,418.5 238.1,417.2 240.4,416.3 242.8,415.4 245.1,415.1 247.4,414.3 249.7,413.6 252.1,413.2 254.4,409.7 256.7,408.8 259.1,408.7 261.4,409.3 263.7,413.5 266.1,420.3 268.4,426.6 270.7,432.8 273.0,438.9 275.4,444.0 277.7,448.3 280.0,451.4 282.4,454.0 284.7,457.4 287.0,462.4 289.3,469.2 291.7,476.3 294.0,483.2 296.3,487.8 298.7,491.9 301.0,493.8 303.3,495.4 305.6,495.4 308.0,491.5 310.3,470.2 312.6,451.1 315.0,448.5 317.3,448.2 319.6,447.6 322.0,446.4 324.3,447.9 326.6,451.6 328.9,452.7 331.3,453.4 333.6,455.3 335.9,456.5 338.3,458.5 340.6,454.1 342.9,433.2 345.2,416.0 347.6,414.2 349.9,413.6 352.2,413.6 354.6,414.5 356.9,415.8 359.2,420.6 361.5,429.2 363.9,436.9 366.2,440.8 368.5,442.7 370.9,442.3 373.2,440.2 375.5,432.7 377.8,423.8 380.2,416.1 382.5,414.6 384.8,415.0 387.2,415.6 389.5,416.9 391.8,419.9 394.2,425.1 396.5,430.0 398.8,431.8 401.1,431.1 403.5,430.2 405.8,428.1 408.1,425.8 410.5,425.8 412.8,428.2 415.1,431.8 417.4,431.1 419.8,427.8 422.1,422.2 424.4,417.8 426.8,415.6 429.1,414.6 431.4,416.2 433.7,418.9 436.1,423.0 438.4,426.6 440.7,430.0"/>
<path d="M93.7,413.0 96.0,418.1 98.4,424.8 100.7,431.7 103.0,438.4 105.3,443.9 107.7,447.8 110.0,450.8 112.3,451.8 114.7,451.4 117.0,450.6 119.3,449.5 121.6,449.1 124.0,448.2 126.3,446.7 128.6,436.0 131.0,414.9 133.3,410.1 135.6,409.2 138.0,409.8 140.3,408.9 142.6,407.0 144.9,404.4 147.3,404.3 149.6,404.0 151.9,404.1 154.3,404.2 156.6,404.3 158.9,404.3 161.2,404.4 163.6,404.5 165.9,404.4 168.2,403.9 170.6,403.7 172.9,403.6 175.2,403.8 177.5,404.1 179.9,404.2 182.2,404.1 184.5,403.8 186.9,403.4 189.2,402.7 191.5,401.9 193.9,400.9 196.2,400.5 198.5,400.0 200.8,400.2 203.2,401.2 205.5,402.3 207.8,402.0 210.2,402.1 212.5,402.4 214.8,403.2 217.1,404.2 219.5,405.3 221.8,407.0 224.1,408.7 226.5,410.3 228.8,412.2 231.1,413.7 233.4,414.8 235.8,415.5 238.1,416.0 240.4,417.2 242.8,418.2 245.1,419.8 247.4,421.0 249.7,422.0 252.1,422.8 254.4,422.3 256.7,420.7 259.1,420.6 261.4,420.9 263.7,422.2 266.1,422.0 268.4,421.7 270.7,421.4 273.0,421.2 275.4,421.0 277.7,420.9 280.0,420.8 282.4,420.8 284.7,420.7 287.0,420.7 289.3,420.7 291.7,421.1 294.0,421.3 296.3,421.8 298.7,422.6 301.0,423.6 303.3,424.6 305.6,425.0 308.0,425.2 310.3,425.1 312.6,424.6 315.0,424.5 317.3,424.6 319.6,424.7 322.0,425.2 324.3,426.2 326.6,427.3 328.9,428.7 331.3,430.4 333.6,431.7 335.9,430.6 338.3,428.1 340.6,424.4 342.9,422.5 345.2,420.6 347.6,417.8 349.9,416.6 352.2,415.9 354.6,416.2 356.9,416.9 359.2,416.9 361.5,416.5 363.9,416.2 366.2,415.7 368.5,414.9 370.9,414.1 373.2,413.5 375.5,412.8 377.8,412.2 380.2,412.1 382.5,411.9 384.8,412.1 387.2,412.1 389.5,412.0 391.8,411.8 394.2,411.8 396.5,411.7 398.8,411.5 401.1,411.0 403.5,410.4 405.8,409.7 408.1,409.3 410.5,409.0 412.8,408.8 415.1,408.5 417.4,408.4 419.8,408.5 422.1,408.4 424.4,408.4 426.8,408.7 429.1,409.6 431.4,410.5 433.7,411.3 436.1,411.9 438.4,412.1 440.7,412.1"/>
<path d="M93.7,396.5 96.0,397.5 98.4,398.8 100.7,400.2 103.0,401.2 105.3,402.0 107.7,403.0 110.0,404.2 112.3,404.4 114.7,403.7 117.0,403.4 119.3,403.4 121.6,404.2 124.0,405.6 126.3,407.7 128.6,407.8 131.0,403.5 133.3,401.7 135.6,400.8 138.0,400.0 140.3,399.6 142.6,399.5 144.9,399.6 147.3,400.2 149.6,401.2 151.9,402.4 154.3,403.3 156.6,403.8 158.9,405.4 161.2,409.3 163.6,412.3 165.9,412.9 168.2,410.1 170.6,405.1 172.9,402.3 175.2,401.2 177.5,400.2 179.9,399.0 182.2,397.6 184.5,396.2 186.9,396.8 189.2,397.0 191.5,397.3 193.9,397.5 196.2,398.3 198.5,399.0 200.8,399.7 203.2,401.0 205.5,402.3 207.8,401.6 210.2,400.9 212.5,400.2 214.8,399.9 217.1,400.0 219.5,400.2 221.8,400.9 224.1,401.5 226.5,402.5 228.8,404.2 231.1,406.0 233.4,407.5 235.8,408.4 238.1,409.5 240.4,410.3 242.8,411.1 245.1,412.7 247.4,414.4 249.7,416.4 252.1,418.0 254.4,417.8 256.7,416.3 259.1,415.6 261.4,415.2 263.7,415.2 266.1,414.6 268.4,414.1 270.7,413.9 273.0,414.1 275.4,414.4 277.7,414.8 280.0,415.3 282.4,415.9 284.7,416.6 287.0,417.0 289.3,417.5 291.7,417.9 294.0,417.6 296.3,417.2 298.7,416.8 301.0,416.0 303.3,415.1 305.6,414.0 308.0,413.0 310.3,412.4 312.6,412.2 315.0,412.6 317.3,413.3 319.6,414.4 322.0,416.1 324.3,418.3 326.6,420.6 328.9,422.9 331.3,424.9 333.6,426.4 335.9,425.7 338.3,423.5 340.6,420.4 342.9,418.3 345.2,416.0 347.6,413.5 349.9,412.1 352.2,411.2 354.6,411.4 356.9,411.9 359.2,411.8 361.5,411.1 363.9,410.6 366.2,409.8 368.5,409.0 370.9,408.1 373.2,407.3 375.5,406.5 377.8,405.6 380.2,405.3 382.5,404.9 384.8,404.4 387.2,403.5 389.5,402.3 391.8,400.9 394.2,400.0 396.5,400.1 398.8,400.3 401.1,399.9 403.5,399.5 405.8,399.2 408.1,399.3 410.5,399.5 412.8,399.8 415.1,399.5 417.4,399.2 419.8,399.7 422.1,399.8 424.4,399.8 426.8,400.0 429.1,400.4 431.4,400.9 433.7,401.3 436.1,401.6 438.4,401.8 440.7,401.9"/>
<path d="M93.7,412.1 96.0,413.5 98.4,415.0 100.7,416.9 103.0,419.0 105.3,421.2 107.7,423.6 110.0,426.3 112.3,429.0 114.7,431.1 117.0,432.9 119.3,433.4 121.6,432.7 124.0,432.0 126.3,430.5 128.6,428.7 131.0,427.6 133.3,426.6 135.6,425.6 138.0,424.8 140.3,424.0 142.6,423.2 144.9,421.5 147.3,420.1 149.6,418.4 151.9,417.9 154.3,417.7 156.6,417.6 158.9,417.4 161.2,417.5 163.6,417.7 165.9,417.8 168.2,417.5 170.6,417.0 172.9,416.6 175.2,416.8 177.5,417.5 179.9,418.2 182.2,418.9 184.5,419.7 186.9,420.5 189.2,421.5 191.5,422.3 193.9,422.7 196.2,423.0 198.5,422.9 200.8,422.9 203.2,422.9 205.5,422.8 207.8,421.4 210.2,421.1 212.5,420.7 214.8,420.4 217.1,420.2 219.5,419.7 221.8,419.2 224.1,418.7 226.5,418.2 228.8,418.1 231.1,417.9 233.4,417.7 235.8,417.5 238.1,417.4 240.4,418.0 242.8,418.2 245.1,418.9 247.4,419.9 249.7,421.1 252.1,422.2 254.4,422.5 256.7,421.0 259.1,421.2 261.4,422.2 263.7,425.8 266.1,429.3 268.4,432.5 270.7,435.6 273.0,437.3 275.4,438.8 277.7,440.0 280.0,440.4 282.4,440.6 284.7,441.0 287.0,442.0 289.3,443.6 291.7,445.9 294.0,448.7 296.3,451.1 298.7,453.0 301.0,453.6 303.3,454.1 305.6,453.3 308.0,451.1 310.3,443.5 312.6,436.7 315.0,435.4 317.3,435.2 319.6,435.1 322.0,435.2 324.3,436.6 326.6,438.7 328.9,440.2 331.3,441.6 333.6,443.1 335.9,442.0 338.3,439.9 340.6,435.2 342.9,429.1 345.2,424.3 347.6,422.0 349.9,421.7 352.2,422.3 354.6,423.3 356.9,425.1 359.2,428.2 361.5,433.7 363.9,439.5 366.2,443.3 368.5,443.8 370.9,442.6 373.2,440.4 375.5,434.4 377.8,427.8 380.2,422.1 382.5,420.8 384.8,421.5 387.2,422.3 389.5,423.4 391.8,425.5 394.2,428.7 396.5,431.6 398.8,432.2 401.1,431.2 403.5,429.9 405.8,427.5 408.1,425.0 410.5,424.0 412.8,424.7 415.1,426.2 417.4,424.6 419.8,421.3 422.1,416.2 424.4,411.9 426.8,409.2 429.1,407.7 431.4,408.1 433.7,409.6 436.1,412.4 438.4,415.3 440.7,418.3"/>
<path d="M93.7,403.1 96.0,407.7 98.4,413.3 100.7,418.3 103.0,422.3 105.3,425.4 107.7,427.8 110.0,430.7 112.3,431.2 114.7,430.6 117.0,430.8 119.3,431.7 121.6,434.9 124.0,438.1 126.3,439.8 128.6,429.9 131.0,406.2 133.3,401.4 135.6,401.4 138.0,403.5 140.3,403.5 142.6,402.2 144.9,400.5 147.3,401.0 149.6,401.6 151.9,402.3 154.3,402.9 156.6,403.5 158.9,404.1 161.2,405.0 163.6,405.8 165.9,406.2 168.2,405.7 170.6,405.2 172.9,404.9 175.2,405.6 177.5,406.5 179.9,407.3 182.2,407.8 184.5,408.2 186.9,408.7 189.2,409.2 191.5,409.1 193.9,408.4 196.2,407.7 198.5,405.6 200.8,404.3 203.2,404.0 205.5,404.1 207.8,403.0 210.2,401.9 212.5,400.7 214.8,399.8 217.1,399.3 219.5,399.0 221.8,399.5 224.1,399.9 226.5,400.6 228.8,402.1 231.1,403.5 233.4,404.4 235.8,404.4 238.1,404.4 240.4,403.3 242.8,402.1 245.1,402.4 247.4,403.4 249.7,405.7 252.1,407.9 254.4,407.7 256.7,407.4 259.1,407.2 261.4,407.2 263.7,407.4 266.1,408.1 268.4,408.9 270.7,409.9 273.0,411.1 275.4,412.1 277.7,412.8 280.0,413.1 282.4,413.3 284.7,413.2 287.0,412.7 289.3,412.2 291.7,411.5 294.0,409.7 296.3,408.8 298.7,408.4 301.0,408.1 303.3,407.9 305.6,408.1 308.0,408.3 310.3,408.6 312.6,409.0 315.0,409.4 317.3,409.6 319.6,409.8 322.0,410.2 324.3,410.8 326.6,411.4 328.9,411.9 331.3,412.3 333.6,412.7 335.9,412.8 338.3,412.5 340.6,412.2 342.9,411.0 345.2,409.6 347.6,408.7 349.9,408.2 352.2,408.2 354.6,409.2 356.9,410.1 359.2,410.0 361.5,409.1 363.9,408.4 366.2,407.4 368.5,406.3 370.9,405.2 373.2,404.1 375.5,403.1 377.8,402.1 380.2,401.9 382.5,401.7 384.8,401.5 387.2,401.0 389.5,400.5 391.8,400.0 394.2,399.9 396.5,400.1 398.8,400.3 401.1,399.9 403.5,399.5 405.8,399.2 408.1,399.3 410.5,399.5 412.8,399.8 415.1,399.5 417.4,399.2 419.8,398.9 422.1,398.2 424.4,397.5 426.8,396.9 429.1,396.6 431.4,396.2 433.7,395.8 436.1,395.5 438.4,395.1 440.7,394.8"/>
<path d="M93.7,412.3 96.0,416.4 98.4,421.2 100.7,425.7 103.0,429.6 105.3,433.0 107.7,435.3 110.0,436.8 112.3,436.8 114.7,435.7 117.0,434.6 119.3,433.6 121.6,433.4 124.0,433.2 126.3,432.5 128.6,426.0 131.0,413.7 133.3,410.8 135.6,409.8 138.0,409.1 140.3,407.8 142.6,406.0 144.9,403.7 147.3,402.4 149.6,401.5 151.9,400.9 154.3,399.9 156.6,398.3 158.9,399.0 161.2,404.9 163.6,410.2 165.9,411.8 168.2,408.1 170.6,401.3 172.9,399.6 175.2,401.2 177.5,403.0 179.9,404.7 182.2,406.2 184.5,407.5 186.9,408.6 189.2,409.4 191.5,410.0 193.9,410.2 196.2,410.5 198.5,410.7 200.8,410.8 203.2,411.2 205.5,411.5 207.8,410.1 210.2,409.2 212.5,408.4 214.8,408.0 217.1,407.9 219.5,408.1 221.8,409.0 224.1,410.0 226.5,411.2 228.8,412.7 231.1,414.0 233.4,414.8 235.8,415.0 238.1,415.0 240.4,415.1 242.8,414.5 245.1,414.5 247.4,414.9 249.7,415.9 252.1,416.9 254.4,416.4 256.7,415.0 259.1,414.6 261.4,414.6 263.7,415.4 266.1,415.7 268.4,416.1 270.7,416.7 273.0,417.5 275.4,418.3 277.7,418.9 280.0,419.4 282.4,419.8 284.7,420.1 287.0,420.2 289.3,420.3 291.7,420.7 294.0,420.6 296.3,420.6 298.7,420.7 301.0,420.6 303.3,420.5 305.6,419.9 308.0,419.1 310.3,418.3 312.6,417.6 315.0,417.2 317.3,416.9 319.6,416.7 322.0,416.7 324.3,417.0 326.6,417.4 328.9,417.7 331.3,418.1 333.6,418.5 335.9,418.3 338.3,417.6 340.6,416.8 342.9,416.1 345.2,415.5 347.6,414.6 349.9,414.7 352.2,415.3 354.6,416.7 356.9,418.5 359.2,421.5 361.5,426.1 363.9,430.3 366.2,432.6 368.5,433.5 370.9,432.4 373.2,430.5 375.5,426.4 377.8,422.1 380.2,418.7 382.5,417.2 384.8,416.5 387.2,415.4 389.5,414.2 391.8,413.1 394.2,412.9 396.5,412.9 398.8,412.7 401.1,411.9 403.5,411.6 405.8,411.5 408.1,412.1 410.5,413.4 412.8,415.4 415.1,417.6 417.4,419.0 419.8,419.8 422.1,419.2 424.4,418.5 426.8,418.1 429.1,418.1 431.4,418.7 433.7,419.3 436.1,420.2 438.4,420.8 440.7,421.2"/>
<path d="M93.7,408.4 96.0,409.7 98.4,411.5 100.7,413.8 103.0,416.2 105.3,418.8 107.7,421.6 110.0,424.3 112.3,426.4 114.7,427.5 117.0,428.0 119.3,427.8 121.6,426.7 124.0,425.6 126.3,424.1 128.6,421.5 131.0,417.1 133.3,415.2 135.6,414.4 138.0,414.4 140.3,415.1 142.6,416.3 144.9,417.3 147.3,419.1 149.6,420.7 151.9,421.1 154.3,421.3 156.6,421.0 158.9,421.8 161.2,425.0 163.6,427.5 165.9,428.3 168.2,426.1 170.6,421.6 172.9,419.4 175.2,420.8 177.5,421.4 179.9,422.2 182.2,423.0 184.5,423.9 186.9,425.6 189.2,427.8 191.5,428.9 193.9,428.9 196.2,427.3 198.5,422.1 200.8,418.8 203.2,417.3 205.5,416.7 207.8,416.0 210.2,416.2 212.5,416.5 214.8,417.3 217.1,418.5 219.5,419.8 221.8,421.3 224.1,422.4 226.5,422.8 228.8,423.2 231.1,423.3 233.4,423.3 235.8,423.3 238.1,423.3 240.4,424.7 242.8,425.6 245.1,426.6 247.4,427.3 249.7,427.5 252.1,427.7 254.4,427.2 256.7,425.2 259.1,425.1 261.4,425.1 263.7,427.0 266.1,427.8 268.4,428.7 270.7,429.8 273.0,431.1 275.4,432.4 277.7,433.4 280.0,434.2 282.4,434.4 284.7,434.5 287.0,434.8 289.3,435.5 291.7,436.8 294.0,438.1 296.3,439.0 298.7,440.0 301.0,440.6 303.3,441.4 305.6,440.8 308.0,439.3 310.3,435.0 312.6,431.7 315.0,431.9 317.3,432.9 319.6,434.0 322.0,435.6 324.3,438.1 326.6,440.3 328.9,442.5 331.3,444.9 333.6,447.1 335.9,446.0 338.3,443.4 340.6,438.0 342.9,432.5 345.2,427.8 347.6,424.1 349.9,422.8 352.2,422.4 354.6,422.5 356.9,423.5 359.2,424.1 361.5,424.8 363.9,425.4 366.2,425.8 368.5,425.4 370.9,424.8 373.2,424.1 375.5,422.9 377.8,421.5 380.2,420.3 382.5,419.5 384.8,419.3 387.2,419.2 389.5,419.1 391.8,419.1 394.2,419.3 396.5,419.5 398.8,419.5 401.1,419.3 403.5,419.1 405.8,418.8 408.1,418.5 410.5,418.3 412.8,418.3 415.1,418.1 417.4,417.4 419.8,416.4 422.1,414.5 424.4,412.5 426.8,410.8 429.1,409.7 431.4,409.0 433.7,408.6 436.1,408.6 438.4,408.9 440.7,409.3"/>
<path d="M93.7,398.6 96.0,399.9 98.4,401.8 100.7,404.3 103.0,406.8 105.3,409.5 107.7,412.5 110.0,415.5 112.3,417.8 114.7,419.1 117.0,420.1 119.3,420.6 121.6,420.6 124.0,420.6 126.3,420.6 128.6,419.7 131.0,417.4 133.3,416.5 135.6,416.3 138.0,416.2 140.3,416.4 142.6,416.5 144.9,416.0 147.3,415.5 149.6,414.6 151.9,414.0 154.3,413.1 156.6,411.5 158.9,409.8 161.2,408.8 163.6,407.7 165.9,406.0 168.2,403.1 170.6,400.5 172.9,399.5 175.2,400.1 177.5,401.5 179.9,403.2 182.2,405.2 184.5,407.2 186.9,409.3 189.2,411.0 191.5,412.4 193.9,413.1 196.2,413.6 198.5,413.4 200.8,413.1 203.2,413.0 205.5,413.1 207.8,411.6 210.2,410.8 212.5,410.3 214.8,410.3 217.1,410.8 219.5,411.5 221.8,412.7 224.1,413.9 226.5,414.9 228.8,416.0 231.1,416.6 233.4,416.6 235.8,416.2 238.1,415.7 240.4,415.5 242.8,414.9 245.1,415.2 247.4,416.2 249.7,418.1 252.1,420.1 254.4,421.2 256.7,420.8 259.1,421.9 261.4,423.5 263.7,428.1 266.1,432.2 268.4,435.1 270.7,437.4 273.0,439.4 275.4,440.9 277.7,442.0 280.0,442.6 282.4,443.2 284.7,444.6 287.0,447.1 289.3,450.6 291.7,453.9 294.0,456.4 296.3,457.3 298.7,457.9 301.0,457.6 303.3,457.9 305.6,458.0 308.0,457.0 310.3,447.0 312.6,437.1 315.0,436.8 317.3,438.1 319.6,439.2 322.0,440.0 324.3,442.6 326.6,446.5 328.9,448.2 331.3,449.2 333.6,451.4 335.9,452.7 338.3,454.4 340.6,450.1 342.9,430.4 345.2,414.0 347.6,411.9 349.9,410.8 352.2,410.1 354.6,410.6 356.9,411.3 359.2,414.5 361.5,419.8 363.9,424.3 366.2,426.1 368.5,426.9 370.9,426.6 373.2,425.5 375.5,421.4 377.8,416.8 380.2,413.4 382.5,413.4 384.8,414.6 387.2,415.7 389.5,417.0 391.8,419.2 394.2,422.8 396.5,426.2 398.8,427.3 401.1,426.2 403.5,424.8 405.8,422.3 408.1,419.8 410.5,419.1 412.8,420.2 415.1,422.3 417.4,421.8 419.8,420.0 422.1,416.7 424.4,414.1 426.8,412.9 429.1,412.6 431.4,413.9 433.7,415.7 436.1,418.4 438.4,420.5 440.7,422.2"/>
<path d="M93.7,393.7 96.0,397.4 98.4,402.3 100.7,407.2 103.0,411.2 105.3,414.5 107.7,416.8 110.0,418.2 112.3,417.4 114.7,415.2 117.0,413.6 119.3,412.5 121.6,413.0 124.0,414.0 126.3,415.7 128.6,412.5 131.0,402.0 133.3,399.3 135.6,398.6 138.0,398.4 140.3,397.9 142.6,397.0 144.9,395.8 147.3,397.0 149.6,398.2 151.9,399.4 154.3,400.4 156.6,401.1 158.9,401.3 161.2,401.2 163.6,400.7 165.9,399.6 168.2,397.8 170.6,396.3 172.9,395.2 175.2,395.1 177.5,395.9 179.9,397.6 182.2,399.2 184.5,400.8 186.9,402.4 189.2,403.5 191.5,403.7 193.9,403.7 196.2,404.3 198.5,403.7 200.8,403.8 203.2,404.7 205.5,405.6 207.8,404.8 210.2,403.8 212.5,402.6 214.8,401.3 217.1,399.8 219.5,399.0 221.8,399.5 224.1,399.9 226.5,400.6 228.8,402.1 231.1,403.5 233.4,404.4 235.8,404.4 238.1,404.4 240.4,403.5 242.8,403.0 245.1,404.2 247.4,405.7 249.7,408.6 252.1,410.9 254.4,409.4 256.7,409.0 259.1,408.8 261.4,408.7 263.7,409.5 266.1,411.1 268.4,412.2 270.7,413.4 273.0,414.6 275.4,415.5 277.7,416.1 280.0,416.3 282.4,416.7 284.7,417.4 287.0,418.3 289.3,419.8 291.7,421.7 294.0,422.9 296.3,423.9 298.7,424.8 301.0,424.7 303.3,424.1 305.6,423.0 308.0,421.4 310.3,418.0 312.6,415.7 315.0,416.0 317.3,417.0 319.6,418.4 322.0,420.2 324.3,423.0 326.6,426.4 328.9,429.3 331.3,431.9 333.6,434.1 335.9,434.3 338.3,433.3 340.6,429.8 342.9,422.1 345.2,414.7 347.6,411.8 349.9,409.8 352.2,408.2 354.6,408.7 356.9,409.5 359.2,413.1 361.5,419.6 363.9,424.5 366.2,425.4 368.5,424.7 370.9,422.6 373.2,419.8 375.5,414.1 377.8,408.0 380.2,403.9 382.5,403.6 384.8,404.5 387.2,405.4 389.5,406.8 391.8,409.7 394.2,414.5 396.5,419.2 398.8,421.2 401.1,420.8 403.5,420.2 405.8,417.6 408.1,415.0 410.5,414.1 412.8,414.5 415.1,415.0 417.4,413.6 419.8,411.3 422.1,408.0 424.4,405.1 426.8,403.2 429.1,402.0 431.4,402.2 433.7,403.4 436.1,406.0 438.4,408.6 440.7,411.2"/>
<path d="M93.7,400.7 96.0,402.1 98.4,403.5 100.7,404.9 103.0,405.9 105.3,406.7 107.7,407.7 110.0,409.0 112.3,409.7 114.7,409.8 117.0,410.4 119.3,411.1 121.6,412.1 124.0,413.3 126.3,414.5 128.6,414.0 131.0,410.4 133.3,408.3 135.6,406.8 138.0,405.4 140.3,404.2 142.6,403.2 144.9,402.2 147.3,401.7 149.6,401.5 151.9,401.6 154.3,401.5 156.6,401.1 158.9,401.5 161.2,403.3 163.6,404.5 165.9,404.0 168.2,401.1 170.6,397.5 172.9,395.6 175.2,394.9 177.5,394.5 179.9,395.1 182.2,395.7 184.5,396.2 186.9,396.8 189.2,397.0 191.5,397.3 193.9,397.9 196.2,399.3 198.5,400.6 200.8,401.9 203.2,403.4 205.5,404.9 207.8,404.3 210.2,403.7 212.5,403.0 214.8,402.5 217.1,401.9 219.5,401.4 221.8,401.4 224.1,401.5 226.5,401.9 228.8,403.0 231.1,404.1 233.4,405.0 235.8,405.0 238.1,405.2 240.4,404.5 242.8,403.9 245.1,404.7 247.4,406.4 249.7,409.1 252.1,411.5 254.4,411.7 256.7,411.3 259.1,411.4 261.4,411.8 263.7,412.8 266.1,413.6 268.4,414.6 270.7,415.7 273.0,417.0 275.4,418.1 277.7,419.0 280.0,419.6 282.4,420.1 284.7,420.3 287.0,420.1 289.3,419.9 291.7,419.9 294.0,419.2 296.3,418.6 298.7,418.1 301.0,417.5 303.3,416.9 305.6,416.0 308.0,415.0 310.3,414.0 312.6,413.0 315.0,412.2 317.3,411.3 319.6,410.5 322.0,410.2 324.3,410.8 326.6,411.4 328.9,411.9 331.3,412.3 333.6,412.7 335.9,412.8 338.3,412.5 340.6,412.2 342.9,411.0 345.2,409.6 347.6,408.7 349.9,408.1 352.2,407.8 354.6,408.7 356.9,409.5 359.2,409.6 361.5,409.0 363.9,408.4 366.2,407.6 368.5,406.9 370.9,406.3 373.2,405.6 375.5,404.9 377.8,404.2 380.2,404.1 382.5,403.9 384.8,403.7 387.2,403.1 389.5,402.5 391.8,402.0 394.2,401.9 396.5,402.1 398.8,402.3 401.1,402.2 403.5,402.1 405.8,402.2 408.1,402.9 410.5,403.7 412.8,404.6 415.1,405.2 417.4,405.9 419.8,406.6 422.1,406.9 424.4,407.0 426.8,407.1 429.1,407.5 431.4,407.7 433.7,407.6 436.1,407.4 438.4,406.8 440.7,406.1"/>
<path d="M93.7,398.1 96.0,399.3 98.4,400.7 100.7,402.5 103.0,404.0 105.3,405.6 107.7,407.6 110.0,409.9 112.3,411.5 114.7,412.5 117.0,413.8 119.3,415.1 121.6,416.4 124.0,417.7 126.3,418.6 128.6,417.8 131.0,414.4 133.3,412.6 135.6,411.1 138.0,409.7 140.3,408.3 142.6,406.9 144.9,405.2 147.3,403.8 149.6,402.5 151.9,401.6 154.3,400.8 156.6,400.1 158.9,399.5 161.2,399.1 163.6,398.7 165.9,398.3 168.2,397.4 170.6,397.0 172.9,396.9 175.2,397.4 177.5,398.1 179.9,398.8 182.2,399.6 184.5,400.4 186.9,401.6 189.2,402.7 191.5,403.7 193.9,404.5 196.2,405.4 198.5,405.2 200.8,405.0 203.2,405.3 205.5,405.8 207.8,404.8 210.2,404.1 212.5,403.3 214.8,402.7 217.1,402.1 219.5,401.6 221.8,401.6 224.1,401.5 226.5,401.5 228.8,402.1 231.1,403.5 233.4,404.4 235.8,404.4 238.1,404.4 240.4,403.6 242.8,403.6 245.1,405.1 247.4,406.6 249.7,409.3 252.1,411.8 254.4,410.9 256.7,411.2 259.1,411.7 261.4,412.3 263.7,413.5 266.1,414.7 268.4,415.5 270.7,416.4 273.0,417.5 275.4,418.6 277.7,419.5 280.0,420.4 282.4,421.3 284.7,422.5 287.0,423.9 289.3,425.7 291.7,428.0 294.0,430.1 296.3,432.3 298.7,434.7 301.0,436.5 303.3,438.0 305.6,437.8 308.0,436.2 310.3,430.7 312.6,425.4 315.0,423.6 317.3,422.2 319.6,420.9 322.0,419.7 324.3,419.5 326.6,419.8 328.9,419.8 331.3,419.7 333.6,419.9 335.9,419.6 338.3,419.5 340.6,418.8 342.9,414.1 345.2,409.6 347.6,408.7 349.9,408.1 352.2,407.8 354.6,408.7 356.9,409.5 359.2,413.1 361.5,419.8 363.9,426.2 366.2,429.3 368.5,430.7 370.9,430.2 373.2,428.3 375.5,421.2 377.8,413.8 380.2,408.4 382.5,407.7 384.8,408.2 387.2,408.7 389.5,409.5 391.8,411.3 394.2,414.2 396.5,416.9 398.8,417.9 401.1,417.4 403.5,416.8 405.8,415.5 408.1,414.4 410.5,414.5 412.8,416.0 415.1,418.3 417.4,418.0 419.8,416.0 422.1,412.3 424.4,409.1 426.8,407.3 429.1,406.3 431.4,407.0 433.7,408.5 436.1,411.0 438.4,413.3 440.7,415.4"/>
<path d="M93.7,404.1 96.0,404.5 98.4,405.2 100.7,406.3 103.0,407.5 105.3,408.9 107.7,411.0 110.0,413.6 112.3,415.8 114.7,417.6 117.0,419.7 119.3,421.6 121.6,422.9 124.0,423.8 126.3,424.0 128.6,423.0 131.0,421.0 133.3,419.6 135.6,418.4 138.0,417.2 140.3,416.2 142.6,415.3 144.9,414.2 147.3,413.5 149.6,412.8 151.9,412.8 154.3,413.1 156.6,413.3 158.9,413.2 161.2,413.0 163.6,412.7 165.9,412.2 168.2,411.3 170.6,410.5 172.9,409.9 175.2,410.5 177.5,412.0 179.9,413.9 182.2,416.0 184.5,418.4 186.9,421.1 189.2,423.8 191.5,425.7 193.9,426.7 196.2,427.0 198.5,425.3 200.8,423.7 203.2,422.4 205.5,421.2 207.8,419.3 210.2,418.3 212.5,417.3 214.8,416.7 217.1,416.3 219.5,416.0 221.8,415.9 224.1,415.8 226.5,415.8 228.8,416.1 231.1,416.2 233.4,416.1 235.8,415.9 238.1,415.9 240.4,416.4 242.8,416.8 245.1,418.0 247.4,419.7 249.7,421.8 252.1,423.6 254.4,424.7 256.7,423.6 259.1,424.1 261.4,425.0 263.7,427.1 266.1,426.9 268.4,426.4 270.7,425.9 273.0,425.4 275.4,425.0 277.7,424.7 280.0,424.5 282.4,424.3 284.7,424.1 287.0,423.9 289.3,423.7 291.7,423.9 294.0,423.7 296.3,423.4 298.7,423.1 301.0,422.4 303.3,421.6 305.6,420.4 308.0,419.2 310.3,418.1 312.6,417.3 315.0,417.0 317.3,417.0 319.6,417.2 322.0,417.9 324.3,419.1 326.6,420.4 328.9,421.9 331.3,423.7 333.6,425.5 335.9,425.7 338.3,424.9 340.6,423.0 342.9,422.5 345.2,422.1 347.6,420.4 349.9,420.5 352.2,421.2 354.6,422.4 356.9,424.1 359.2,427.1 361.5,431.6 363.9,434.9 366.2,436.1 368.5,435.6 370.9,434.1 373.2,432.2 375.5,428.4 377.8,424.5 380.2,421.1 382.5,419.8 384.8,419.8 387.2,419.8 389.5,419.9 391.8,420.8 394.2,422.7 396.5,424.6 398.8,425.1 401.1,424.0 403.5,422.7 405.8,420.6 408.1,418.4 410.5,417.5 412.8,418.5 415.1,420.4 417.4,419.6 419.8,417.1 422.1,413.1 424.4,410.0 426.8,408.6 429.1,408.1 431.4,409.4 433.7,411.5 436.1,414.6 438.4,417.5 440.7,419.9"/>
<path d="M93.7,394.2 96.0,394.9 98.4,396.1 100.7,397.6 103.0,399.2 105.3,400.9 107.7,403.5 110.0,406.6 112.3,409.4 114.7,411.7 117.0,414.5 119.3,417.2 121.6,419.4 124.0,421.0 126.3,421.6 128.6,420.5 131.0,417.6 133.3,415.1 135.6,412.7 138.0,410.1 140.3,407.8 142.6,405.8 144.9,403.9 147.3,402.6 149.6,401.8 151.9,401.4 154.3,401.0 156.6,400.4 158.9,400.6 161.2,402.4 163.6,403.8 165.9,403.9 168.2,402.1 170.6,400.2 172.9,400.2 175.2,401.5 177.5,403.4 179.9,405.3 182.2,407.3 184.5,409.3 186.9,411.1 189.2,412.6 191.5,413.7 193.9,414.3 196.2,414.7 198.5,414.7 200.8,414.5 203.2,414.3 205.5,414.1 207.8,412.1 210.2,410.8 212.5,409.5 214.8,408.7 217.1,408.1 219.5,407.9 221.8,408.4 224.1,409.0 226.5,409.9 228.8,411.2 231.1,412.3 233.4,412.9 235.8,412.8 238.1,412.6 240.4,412.0 242.8,410.9 245.1,410.6 247.4,410.8 249.7,412.0 252.1,413.2 254.4,412.6 256.7,411.5 259.1,411.0 261.4,410.8 263.7,412.3 266.1,415.0 268.4,417.1 270.7,419.3 273.0,421.7 275.4,423.7 277.7,425.3 280.0,426.2 282.4,427.2 284.7,428.8 287.0,430.9 289.3,433.9 291.7,436.6 294.0,438.3 296.3,439.3 298.7,440.4 301.0,440.5 303.3,440.6 305.6,440.5 308.0,438.8 310.3,430.0 312.6,422.6 315.0,422.1 317.3,422.5 319.6,422.9 322.0,423.2 324.3,424.6 326.6,426.9 328.9,427.8 331.3,428.1 333.6,428.5 335.9,428.1 338.3,427.5 340.6,424.8 342.9,416.4 345.2,409.8 347.6,408.7 349.9,408.1 352.2,407.8 354.6,408.7 356.9,409.5 359.2,411.5 361.5,415.2 363.9,418.9 366.2,420.8 368.5,422.0 370.9,422.2 373.2,421.5 375.5,417.4 377.8,411.8 380.2,406.9 382.5,406.2 384.8,406.7 387.2,407.1 389.5,408.0 391.8,410.4 394.2,414.7 396.5,418.7 398.8,419.8 401.1,418.4 403.5,416.8 405.8,413.9 408.1,411.6 410.5,411.4 412.8,413.2 415.1,415.6 417.4,414.4 419.8,411.5 422.1,407.2 424.4,404.0 426.8,402.4 429.1,401.6 431.4,402.3 433.7,403.7 436.1,406.2 438.4,408.7 440.7,411.4"/>
<path d="M93.7,408.4 96.0,413.0 98.4,419.0 100.7,424.9 103.0,430.5 105.3,435.9 107.7,440.0 110.0,443.5 112.3,445.2 114.7,445.9 117.0,446.6 119.3,447.4 121.6,448.8 124.0,449.8 126.3,449.6 128.6,441.1 131.0,425.1 133.3,422.4 135.6,422.5 138.0,423.8 140.3,423.4 142.6,421.9 144.9,419.3 147.3,418.8 149.6,417.8 151.9,417.5 154.3,417.2 156.6,416.5 158.9,415.4 161.2,414.0 163.6,412.5 165.9,410.8 168.2,408.7 170.6,406.9 172.9,405.4 175.2,404.6 177.5,404.4 179.9,404.6 182.2,405.0 184.5,405.6 186.9,406.5 189.2,407.2 191.5,408.0 193.9,408.6 196.2,409.3 198.5,409.9 200.8,410.4 203.2,411.2 205.5,412.0 207.8,411.1 210.2,410.7 212.5,410.2 214.8,410.1 217.1,410.0 219.5,410.1 221.8,410.6 224.1,411.2 226.5,412.1 228.8,413.4 231.1,414.7 233.4,415.9 235.8,416.7 238.1,417.5 240.4,419.0 242.8,420.0 245.1,421.2 247.4,422.4 249.7,423.5 252.1,424.3 254.4,424.5 256.7,422.5 259.1,422.3 261.4,422.6 263.7,424.6 266.1,425.5 268.4,426.0 270.7,426.5 273.0,427.0 275.4,427.3 277.7,427.5 280.0,427.3 282.4,427.2 284.7,427.3 287.0,427.7 289.3,428.8 291.7,430.2 294.0,430.7 296.3,430.9 298.7,431.5 301.0,431.8 303.3,432.3 305.6,432.5 308.0,431.9 310.3,428.3 312.6,425.0 315.0,424.8 317.3,425.3 319.6,425.8 322.0,426.6 324.3,428.6 326.6,431.3 328.9,433.9 331.3,436.9 333.6,440.1 335.9,440.9 338.3,440.2 340.6,436.3 342.9,431.5 345.2,427.2 347.6,424.3 349.9,423.5 352.2,423.5 354.6,423.6 356.9,424.5 359.2,426.8 361.5,430.8 363.9,433.9 366.2,434.5 368.5,433.1 370.9,430.4 373.2,427.0 375.5,421.2 377.8,415.4 380.2,411.3 382.5,410.7 384.8,411.7 387.2,412.9 389.5,414.6 391.8,417.1 394.2,420.4 396.5,423.4 398.8,424.8 401.1,424.9 403.5,424.7 405.8,423.8 408.1,422.6 410.5,422.3 412.8,423.1 415.1,424.5 417.4,423.8 419.8,421.6 422.1,417.6 424.4,413.8 426.8,411.2 429.1,409.4 431.4,409.1 433.7,409.6 436.1,411.1 438.4,412.5 440.7,414.0"/>
<path d="M93.7,404.8 96.0,405.5 98.4,406.4 100.7,407.3 103.0,407.9 105.3,408.3 107.7,408.8 110.0,409.5 112.3,409.5 114.7,408.8 117.0,408.6 119.3,408.9 121.6,409.8 124.0,411.2 126.3,413.1 128.6,413.1 131.0,409.9 133.3,408.4 135.6,407.4 138.0,406.3 140.3,405.3 142.6,404.3 144.9,403.2 147.3,402.4 149.6,401.6 151.9,401.3 154.3,401.2 156.6,401.3 158.9,401.4 161.2,401.7 163.6,402.1 165.9,402.4 168.2,402.1 170.6,402.2 172.9,402.3 175.2,402.7 177.5,403.5 179.9,404.3 182.2,405.1 184.5,406.0 186.9,407.3 189.2,408.7 191.5,410.0 193.9,411.0 196.2,412.1 198.5,412.0 200.8,412.1 203.2,412.8 205.5,413.5 207.8,413.0 210.2,413.1 212.5,413.0 214.8,413.2 217.1,413.6 219.5,414.0 221.8,414.7 224.1,415.4 226.5,416.2 228.8,417.3 231.1,418.1 233.4,418.7 235.8,419.0 238.1,419.3 240.4,420.4 242.8,420.6 245.1,420.9 247.4,421.1 249.7,421.4 252.1,421.4 254.4,420.4 256.7,417.7 259.1,416.3 261.4,415.2 263.7,416.5 266.1,418.8 268.4,420.8 270.7,422.9 273.0,425.4 275.4,427.3 277.7,428.6 280.0,429.1 282.4,429.3 284.7,429.7 287.0,430.4 289.3,431.6 291.7,433.2 294.0,434.8 296.3,437.0 298.7,440.5 301.0,444.4 303.3,449.0 305.6,453.4 308.0,455.6 310.3,447.5 312.6,438.8 315.0,438.9 317.3,440.4 319.6,441.5 322.0,442.3 324.3,445.2 326.6,449.9 328.9,452.8 331.3,454.7 333.6,457.2 335.9,457.9 338.3,458.5 340.6,453.1 342.9,435.5 345.2,420.9 347.6,418.4 349.9,417.7 352.2,417.7 354.6,418.5 356.9,420.0 359.2,422.1 361.5,425.0 363.9,427.7 366.2,429.4 368.5,429.9 370.9,429.4 373.2,428.3 375.5,425.1 377.8,421.3 380.2,418.0 382.5,416.6 384.8,416.4 387.2,416.1 389.5,416.1 391.8,416.7 394.2,418.2 396.5,419.9 398.8,421.0 401.1,421.4 403.5,421.7 405.8,421.5 408.1,421.2 410.5,421.6 412.8,422.9 415.1,424.3 417.4,423.9 419.8,422.2 422.1,419.1 424.4,416.3 426.8,414.5 429.1,413.5 431.4,413.5 433.7,414.0 436.1,414.9 438.4,415.7 440.7,416.5"/>
<path d="M93.7,400.7 96.0,402.7 98.4,405.2 100.7,408.1 103.0,411.1 105.3,413.9 107.7,416.8 110.0,419.5 112.3,421.4 114.7,422.0 117.0,422.0 119.3,421.4 121.6,420.2 124.0,419.2 126.3,418.3 128.6,416.5 131.0,412.4 133.3,410.0 135.6,408.3 138.0,407.0 140.3,406.2 142.6,405.6 144.9,405.1 147.3,405.1 149.6,405.1 151.9,405.7 154.3,406.2 156.6,406.6 158.9,407.6 161.2,409.7 163.6,411.4 165.9,412.2 168.2,411.6 170.6,410.5 172.9,410.1 175.2,410.3 177.5,410.7 179.9,410.7 182.2,410.4 184.5,409.9 186.9,409.1 189.2,408.1 191.5,406.9 193.9,405.7 196.2,404.9 198.5,404.4 200.8,404.1 203.2,404.7 205.5,405.5 207.8,404.7 210.2,404.3 212.5,404.1 214.8,404.3 217.1,404.6 219.5,405.2 221.8,406.2 224.1,407.1 226.5,408.0 228.8,409.2 231.1,410.1 233.4,410.5 235.8,410.1 238.1,409.8 240.4,408.9 242.8,407.8 245.1,407.8 247.4,408.6 249.7,410.5 252.1,412.2 254.4,411.9 256.7,411.0 259.1,410.6 261.4,410.2 263.7,411.4 266.1,413.8 268.4,415.9 270.7,418.4 273.0,421.5 275.4,424.5 277.7,427.5 280.0,430.2 282.4,433.1 284.7,437.0 287.0,442.1 289.3,448.6 291.7,455.5 294.0,462.1 296.3,467.0 298.7,471.1 301.0,472.6 303.3,472.7 305.6,470.2 308.0,464.6 310.3,449.7 312.6,437.7 315.0,435.3 317.3,434.7 319.6,434.5 322.0,434.9 324.3,437.4 326.6,442.0 328.9,445.9 331.3,450.0 333.6,455.3 335.9,458.0 338.3,459.9 340.6,455.2 342.9,437.3 345.2,422.5 347.6,420.1 349.9,419.5 352.2,419.5 354.6,420.1 356.9,421.3 359.2,421.6 361.5,421.5 363.9,421.4 366.2,421.0 368.5,419.8 370.9,418.4 373.2,416.9 375.5,415.2 377.8,413.4 380.2,412.1 382.5,410.9 384.8,410.2 387.2,409.6 389.5,409.1 391.8,408.8 394.2,409.0 396.5,409.3 398.8,409.6 401.1,409.5 403.5,409.2 405.8,408.7 408.1,408.4 410.5,407.9 412.8,407.3 415.1,406.3 417.4,405.2 419.8,404.2 422.1,402.7 424.4,401.4 426.8,400.4 429.1,399.8 431.4,399.5 433.7,399.3 436.1,399.4 438.4,399.6 440.7,399.9"/>
<path d="M93.7,394.9 96.0,396.0 98.4,397.3 100.7,398.7 103.0,399.5 105.3,399.7 107.7,399.9 110.0,400.0 112.3,398.8 114.7,397.0 117.0,397.1 119.3,397.4 121.6,399.0 124.0,401.1 126.3,404.1 128.6,404.7 131.0,400.2 133.3,398.8 135.6,398.8 138.0,398.8 140.3,399.0 142.6,399.3 144.9,399.5 147.3,399.9 149.6,400.3 151.9,401.1 154.3,401.9 156.6,402.6 158.9,403.3 161.2,404.1 163.6,404.7 165.9,404.7 168.2,403.9 170.6,403.0 172.9,402.6 175.2,402.7 177.5,403.1 179.9,403.5 182.2,403.7 184.5,403.9 186.9,403.9 189.2,403.7 191.5,403.1 193.9,402.3 196.2,401.8 198.5,400.8 200.8,400.3 203.2,401.2 205.5,402.3 207.8,401.6 210.2,400.9 212.5,400.2 214.8,399.8 217.1,399.3 219.5,399.6 221.8,401.0 224.1,402.2 226.5,403.4 228.8,405.0 231.1,406.3 233.4,406.9 235.8,406.7 238.1,406.4 240.4,405.4 242.8,404.5 245.1,405.1 247.4,406.4 249.7,408.8 252.1,411.0 254.4,410.7 256.7,410.4 259.1,410.4 261.4,410.4 263.7,411.5 266.1,413.1 268.4,414.3 270.7,415.6 273.0,417.0 275.4,418.3 277.7,419.4 280.0,420.3 282.4,421.4 284.7,423.2 287.0,425.6 289.3,428.8 291.7,432.2 294.0,434.9 296.3,437.4 298.7,440.1 301.0,441.9 303.3,443.6 305.6,444.4 308.0,443.6 310.3,437.1 312.6,431.2 315.0,430.8 317.3,431.1 319.6,431.3 322.0,431.3 324.3,432.2 326.6,433.4 328.9,433.5 331.3,433.0 333.6,432.3 335.9,430.0 338.3,427.6 340.6,424.1 342.9,416.3 345.2,409.6 347.6,408.7 349.9,408.1 352.2,407.8 354.6,408.7 356.9,409.5 359.2,409.6 361.5,409.0 363.9,408.4 366.2,407.4 368.5,407.0 370.9,406.5 373.2,405.8 375.5,404.8 377.8,403.8 380.2,403.4 382.5,403.1 384.8,403.0 387.2,402.7 389.5,402.6 391.8,402.7 394.2,403.3 396.5,404.3 398.8,405.1 401.1,405.4 403.5,405.5 405.8,405.4 408.1,405.4 410.5,405.3 412.8,405.1 415.1,404.5 417.4,403.8 419.8,403.2 422.1,402.2 424.4,401.3 426.8,400.6 429.1,400.3 431.4,400.1 433.7,400.0 436.1,399.9 438.4,399.9 440.7,399.8"/>
<path d="M93.7,424.2 96.0,429.2 98.4,434.7 100.7,439.5 103.0,443.5 105.3,446.6 107.7,447.9 110.0,448.1 112.3,446.7 114.7,444.3 117.0,441.8 119.3,439.7 121.6,438.7 124.0,438.4 126.3,438.5 128.6,432.0 131.0,415.7 133.3,411.3 135.6,409.9 138.0,410.0 140.3,408.3 142.6,405.4 144.9,402.0 147.3,401.3 149.6,401.0 151.9,401.3 154.3,402.2 156.6,403.7 158.9,405.6 161.2,407.9 163.6,410.5 165.9,413.0 168.2,415.0 170.6,416.7 172.9,417.7 175.2,418.3 177.5,418.9 179.9,419.0 182.2,418.8 184.5,418.5 186.9,418.1 189.2,417.7 191.5,417.3 193.9,416.7 196.2,416.2 198.5,415.8 200.8,415.4 203.2,415.2 205.5,415.1 207.8,413.3 210.2,412.4 212.5,411.5 214.8,411.2 217.1,411.2 219.5,411.5 221.8,412.3 224.1,413.2 226.5,414.3 228.8,415.4 231.1,416.2 233.4,416.6 235.8,416.4 238.1,416.0 240.4,415.7 242.8,414.6 245.1,414.1 247.4,414.1 249.7,414.7 252.1,415.4 254.4,414.6 256.7,412.9 259.1,412.1 261.4,411.5 263.7,413.3 266.1,417.1 268.4,421.1 270.7,425.5 273.0,429.7 275.4,433.4 277.7,436.8 280.0,439.3 282.4,442.0 284.7,446.0 287.0,451.8 289.3,459.5 291.7,467.3 294.0,474.7 296.3,480.1 298.7,485.0 301.0,487.5 303.3,489.4 305.6,489.7 308.0,486.0 310.3,465.9 312.6,447.9 315.0,445.7 317.3,445.8 319.6,445.6 322.0,445.0 324.3,447.0 326.6,451.1 328.9,452.9 331.3,454.2 333.6,456.7 335.9,458.0 338.3,459.8 340.6,455.0 342.9,435.4 345.2,419.3 347.6,417.3 349.9,416.9 352.2,417.2 354.6,418.3 356.9,420.1 359.2,422.8 361.5,426.5 363.9,429.6 366.2,431.0 368.5,431.0 370.9,430.2 373.2,428.8 375.5,425.5 377.8,421.5 380.2,417.7 382.5,415.9 384.8,415.3 387.2,414.7 389.5,414.5 391.8,415.0 394.2,416.7 396.5,418.4 398.8,418.8 401.1,417.9 403.5,417.0 405.8,415.5 408.1,414.4 410.5,414.4 412.8,415.6 415.1,417.3 417.4,417.1 419.8,415.8 422.1,413.2 424.4,411.0 426.8,409.7 429.1,409.1 431.4,409.4 433.7,410.0 436.1,411.0 438.4,411.9 440.7,412.7"/>
<path d="M93.7,418.7 96.0,423.2 98.4,428.2 100.7,432.7 103.0,436.6 105.3,439.9 107.7,442.1 110.0,443.6 112.3,443.9 114.7,443.1 117.0,442.3 119.3,441.6 121.6,441.5 124.0,441.6 126.3,440.6 128.6,433.4 131.0,420.3 133.3,417.7 135.6,417.4 138.0,417.9 140.3,417.4 142.6,416.3 144.9,414.5 147.3,413.9 149.6,412.8 151.9,412.3 154.3,411.7 156.6,410.8 158.9,409.5 161.2,408.2 163.6,406.9 165.9,405.6 168.2,403.9 170.6,402.9 172.9,402.3 175.2,402.2 177.5,402.6 179.9,403.1 182.2,403.7 184.5,404.3 186.9,405.0 189.2,405.4 191.5,405.9 193.9,406.2 196.2,406.8 198.5,407.4 200.8,408.1 203.2,409.1 205.5,410.1 207.8,409.2 210.2,408.7 212.5,408.2 214.8,407.9 217.1,407.8 219.5,407.7 221.8,408.3 224.1,409.0 226.5,410.1 228.8,411.8 231.1,413.4 233.4,414.9 235.8,416.0 238.1,417.1 240.4,418.9 242.8,420.5 245.1,422.4 247.4,424.0 249.7,425.2 252.1,426.1 254.4,426.1 256.7,424.4 259.1,424.7 261.4,425.5 263.7,429.0 266.1,431.3 268.4,433.0 270.7,434.5 273.0,435.9 275.4,436.8 277.7,437.6 280.0,437.9 282.4,438.2 284.7,439.0 287.0,440.8 289.3,443.5 291.7,446.6 294.0,449.8 296.3,452.3 298.7,455.0 301.0,456.8 303.3,458.6 305.6,459.0 308.0,457.3 310.3,447.3 312.6,437.4 315.0,435.1 317.3,433.9 319.6,432.7 322.0,431.6 324.3,432.4 326.6,434.9 328.9,436.5 331.3,438.4 333.6,441.4 335.9,443.4 338.3,445.1 340.6,442.4 342.9,430.4 345.2,419.9 347.6,417.8 349.9,417.1 352.2,416.9 354.6,417.5 356.9,418.6 359.2,422.5 361.5,429.5 363.9,435.7 366.2,438.5 368.5,439.3 370.9,438.2 373.2,435.7 375.5,428.8 377.8,420.9 380.2,414.5 382.5,413.5 384.8,414.3 387.2,415.1 389.5,416.2 391.8,417.8 394.2,419.9 396.5,421.4 398.8,421.6 401.1,420.9 403.5,420.2 405.8,419.2 408.1,418.2 410.5,418.1 412.8,418.9 415.1,420.4 417.4,420.1 419.8,418.4 422.1,415.1 424.4,412.0 426.8,410.0 429.1,408.7 431.4,409.0 433.7,410.1 436.1,412.5 438.4,415.1 440.7,417.7"/>
<path d="M93.7,422.0 96.0,424.8 98.4,428.0 100.7,431.1 103.0,434.1 105.3,436.8 107.7,438.9 110.0,440.5 112.3,441.7 114.7,442.2 117.0,442.5 119.3,442.9 121.6,443.1 124.0,442.9 126.3,441.6 128.6,436.8 131.0,429.6 133.3,427.6 135.6,426.7 138.0,426.4 140.3,425.4 142.6,424.0 144.9,421.9 147.3,421.2 149.6,420.3 151.9,420.0 154.3,419.8 156.6,419.5 158.9,419.8 161.2,421.5 163.6,423.1 165.9,423.8 168.2,422.9 170.6,420.8 172.9,419.4 175.2,420.0 177.5,421.4 179.9,422.9 182.2,424.3 184.5,425.7 186.9,427.1 189.2,428.5 191.5,429.1 193.9,428.8 196.2,428.0 198.5,424.8 200.8,422.4 203.2,421.0 205.5,420.2 207.8,418.8 210.2,418.6 212.5,418.4 214.8,418.6 217.1,419.2 219.5,419.8 221.8,420.5 224.1,421.3 226.5,422.1 228.8,422.9 231.1,423.3 233.4,423.3 235.8,423.3 238.1,423.3 240.4,424.6 242.8,425.4 245.1,426.2 247.4,426.9 249.7,427.2 252.1,427.5 254.4,426.7 256.7,423.7 259.1,422.4 261.4,421.5 263.7,421.5 266.1,420.3 268.4,419.2 270.7,418.6 273.0,418.6 275.4,419.0 277.7,419.5 280.0,420.2 282.4,421.0 284.7,421.9 287.0,422.8 289.3,423.9 291.7,425.5 294.0,427.3 296.3,429.6 298.7,432.2 301.0,434.9 303.3,437.1 305.6,436.9 308.0,436.4 310.3,435.0 312.6,433.4 315.0,433.1 317.3,433.3 319.6,433.4 322.0,434.1 324.3,435.5 326.6,436.9 328.9,438.6 331.3,440.6 333.6,442.2 335.9,440.5 338.3,437.1 340.6,432.0 342.9,429.8 345.2,427.8 347.6,424.6 349.9,423.8 352.2,424.0 354.6,424.1 356.9,424.3 359.2,423.6 361.5,422.4 363.9,421.2 366.2,419.8 368.5,418.0 370.9,416.4 373.2,415.1 375.5,414.1 377.8,413.5 380.2,413.6 382.5,414.0 384.8,415.1 387.2,416.4 389.5,417.9 391.8,419.4 394.2,421.0 396.5,421.4 398.8,421.4 401.1,421.4 403.5,421.4 405.8,421.4 408.1,421.4 410.5,421.3 412.8,421.2 415.1,421.1 417.4,420.6 419.8,420.1 422.1,419.0 424.4,418.1 426.8,417.4 429.1,417.5 431.4,417.7 433.7,417.8 436.1,417.8 438.4,417.7 440.7,417.6"/>
<path d="M93.7,419.2 96.0,423.4 98.4,428.1 100.7,432.3 103.0,435.7 105.3,437.9 107.7,438.4 110.0,437.9 112.3,436.1 114.7,433.3 117.0,430.6 119.3,428.4 121.6,426.9 124.0,426.3 126.3,426.3 128.6,423.0 131.0,414.0 133.3,410.7 135.6,409.2 138.0,408.3 140.3,406.9 142.6,404.9 144.9,402.6 147.3,402.1 149.6,402.2 151.9,402.7 154.3,402.8 156.6,402.6 158.9,404.3 161.2,409.5 163.6,414.0 165.9,415.8 168.2,413.8 170.6,409.0 172.9,407.5 175.2,409.5 177.5,411.9 179.9,414.2 182.2,416.3 184.5,418.1 186.9,419.9 189.2,421.7 191.5,422.5 193.9,422.3 196.2,421.8 198.5,418.5 200.8,415.9 203.2,414.6 205.5,413.9 207.8,413.1 210.2,413.0 212.5,413.0 214.8,413.2 217.1,413.5 219.5,413.5 221.8,413.4 224.1,413.1 226.5,412.6 228.8,412.4 231.1,412.2 233.4,411.9 235.8,411.3 238.1,410.9 240.4,410.7 242.8,410.8 245.1,412.2 247.4,413.9 249.7,416.0 252.1,417.9 254.4,417.8 256.7,417.1 259.1,417.5 261.4,418.3 263.7,421.6 266.1,425.0 268.4,427.5 270.7,429.5 273.0,431.5 275.4,433.1 277.7,434.6 280.0,435.8 282.4,437.2 284.7,439.5 287.0,443.0 289.3,447.8 291.7,453.1 294.0,458.5 296.3,462.8 298.7,466.5 301.0,468.5 303.3,468.9 305.6,467.3 308.0,463.5 310.3,452.4 312.6,441.9 315.0,438.5 317.3,436.3 319.6,434.0 322.0,432.0 324.3,431.5 326.6,432.2 328.9,432.5 331.3,432.9 333.6,434.4 335.9,435.6 338.3,437.2 340.6,435.6 342.9,425.0 345.2,415.6 347.6,414.3 349.9,414.1 352.2,414.4 354.6,415.6 356.9,417.3 359.2,418.4 361.5,419.1 363.9,420.0 366.2,420.8 368.5,421.0 370.9,421.0 373.2,420.8 375.5,420.1 377.8,419.0 380.2,417.7 382.5,416.2 384.8,415.0 387.2,413.6 389.5,412.1 391.8,410.6 394.2,409.6 396.5,408.9 398.8,408.6 401.1,408.3 403.5,408.2 405.8,408.5 408.1,409.2 410.5,410.1 412.8,411.1 415.1,411.8 417.4,412.3 419.8,412.7 422.1,412.2 424.4,411.5 426.8,410.6 429.1,410.1 431.4,409.6 433.7,409.0 436.1,408.4 438.4,407.9 440.7,407.5"/>
<path d="M93.7,420.9 96.0,424.4 98.4,428.9 100.7,433.4 103.0,438.0 105.3,442.8 107.7,446.9 110.0,450.6 112.3,453.2 114.7,454.8 117.0,456.1 119.3,457.2 121.6,456.4 124.0,454.8 126.3,451.4 128.6,442.6 131.0,430.7 133.3,428.0 135.6,427.0 138.0,426.8 140.3,425.7 142.6,424.1 144.9,421.9 147.3,421.2 149.6,419.3 151.9,418.2 154.3,417.2 156.6,416.2 158.9,416.3 161.2,418.6 163.6,421.5 165.9,423.7 168.2,424.3 170.6,421.2 172.9,419.4 175.2,420.4 177.5,422.1 179.9,423.9 182.2,425.6 184.5,427.1 186.9,429.0 189.2,430.9 191.5,432.0 193.9,432.1 196.2,431.7 198.5,428.6 200.8,426.1 203.2,424.3 205.5,422.8 207.8,421.4 210.2,421.1 212.5,420.8 214.8,420.9 217.1,421.2 219.5,421.6 221.8,422.0 224.1,422.4 226.5,422.8 228.8,423.2 231.1,423.3 233.4,423.3 235.8,423.3 238.1,423.3 240.4,424.5 242.8,424.3 245.1,424.0 247.4,423.6 249.7,423.3 252.1,423.2 254.4,422.4 256.7,420.0 259.1,419.3 261.4,419.2 263.7,421.4 266.1,423.4 268.4,425.5 270.7,427.9 273.0,430.6 275.4,433.2 277.7,435.8 280.0,438.2 282.4,440.2 284.7,441.8 287.0,444.5 289.3,448.3 291.7,453.0 294.0,458.3 296.3,462.5 298.7,466.2 301.0,468.5 303.3,470.2 305.6,469.7 308.0,466.5 310.3,454.5 312.6,444.1 315.0,442.4 317.3,442.6 319.6,443.1 322.0,444.1 324.3,447.6 326.6,453.2 328.9,458.0 331.3,462.4 333.6,465.7 335.9,466.4 338.3,466.6 340.6,459.9 342.9,441.4 345.2,426.0 347.6,422.5 349.9,421.3 352.2,420.8 354.6,420.8 356.9,421.5 359.2,425.3 361.5,432.3 363.9,438.0 366.2,440.3 368.5,440.7 370.9,439.3 373.2,436.7 375.5,429.7 377.8,421.6 380.2,415.0 382.5,413.9 384.8,414.9 387.2,416.3 389.5,418.4 391.8,422.1 394.2,427.2 396.5,431.6 398.8,433.1 401.1,432.2 403.5,430.9 405.8,429.0 408.1,427.3 410.5,427.0 412.8,427.8 415.1,429.4 417.4,429.1 419.8,427.9 422.1,425.2 424.4,422.9 426.8,421.5 429.1,421.0 431.4,422.1 433.7,423.9 436.1,426.9 438.4,429.9 440.7,432.7"/>
<path d="M93.7,396.8 96.0,399.7 98.4,403.3 100.7,407.2 103.0,410.7 105.3,414.2 107.7,417.5 110.0,420.6 112.3,422.5 114.7,423.5 117.0,424.0 119.3,424.5 121.6,425.4 124.0,426.5 126.3,427.2 128.6,423.9 131.0,415.9 133.3,414.1 135.6,413.7 138.0,413.6 140.3,412.8 142.6,411.4 144.9,409.1 147.3,407.7 149.6,406.4 151.9,405.0 154.3,402.9 156.6,400.0 158.9,398.9 161.2,401.5 163.6,403.9 165.9,404.6 168.2,401.2 170.6,395.4 172.9,393.3 175.2,395.2 177.5,397.4 179.9,399.9 182.2,402.2 184.5,404.3 186.9,406.9 189.2,409.9 191.5,412.5 193.9,414.1 196.2,415.0 198.5,411.9 200.8,409.4 203.2,407.8 205.5,406.6 207.8,405.2 210.2,403.8 212.5,402.3 214.8,400.9 217.1,399.6 219.5,399.0 221.8,399.5 224.1,399.9 226.5,400.6 228.8,402.1 231.1,403.5 233.4,405.0 235.8,405.8 238.1,406.5 240.4,406.5 242.8,406.2 245.1,407.0 247.4,408.2 249.7,410.1 252.1,411.7 254.4,410.9 256.7,409.6 259.1,408.6 261.4,407.6 263.7,408.5 266.1,411.0 268.4,412.9 270.7,415.0 273.0,417.5 275.4,419.7 277.7,421.7 280.0,423.2 282.4,424.7 284.7,426.8 287.0,429.2 289.3,432.4 291.7,435.6 294.0,438.1 296.3,440.6 298.7,444.0 301.0,447.3 303.3,451.2 305.6,455.0 308.0,456.1 310.3,444.2 312.6,431.6 315.0,429.9 317.3,429.4 319.6,428.5 322.0,427.0 324.3,427.6 326.6,430.0 328.9,430.5 331.3,430.8 333.6,432.3 335.9,433.7 338.3,435.3 340.6,433.0 342.9,421.7 345.2,412.7 347.6,411.5 349.9,410.8 352.2,410.4 354.6,411.0 356.9,411.6 359.2,411.3 361.5,410.2 363.9,409.1 366.2,407.6 368.5,406.3 370.9,405.2 373.2,404.1 375.5,403.1 377.8,402.1 380.2,402.2 382.5,402.5 384.8,402.7 387.2,402.4 389.5,401.9 391.8,401.1 394.2,400.5 396.5,400.1 398.8,400.3 401.1,399.9 403.5,399.5 405.8,399.2 408.1,399.5 410.5,400.8 412.8,402.4 415.1,403.6 417.4,404.8 419.8,405.9 422.1,406.4 424.4,406.7 426.8,406.8 429.1,407.2 431.4,407.4 433.7,407.4 436.1,407.2 438.4,406.8 440.7,406.1"/>
<path d="M93.7,403.2 96.0,405.9 98.4,409.0 100.7,411.8 103.0,414.0 105.3,415.6 107.7,416.5 110.0,417.0 112.3,416.0 114.7,413.8 117.0,411.9 119.3,410.0 121.6,409.8 124.0,410.7 126.3,412.7 128.6,411.0 131.0,402.8 133.3,401.1 135.6,401.1 138.0,401.5 140.3,401.6 142.6,401.2 144.9,400.5 147.3,400.6 149.6,400.8 151.9,401.0 154.3,400.8 156.6,400.1 158.9,400.6 161.2,403.3 163.6,405.5 165.9,405.7 168.2,403.1 170.6,399.0 172.9,397.5 175.2,399.3 177.5,401.6 179.9,404.3 182.2,406.8 184.5,409.2 186.9,411.9 189.2,414.5 191.5,415.7 193.9,415.8 196.2,415.3 198.5,411.1 200.8,407.9 203.2,406.2 205.5,405.2 207.8,404.3 210.2,403.6 212.5,403.1 214.8,402.9 217.1,402.8 219.5,403.0 221.8,403.8 224.1,404.6 226.5,405.6 228.8,407.1 231.1,408.5 233.4,409.4 235.8,409.6 238.1,409.9 240.4,410.0 242.8,410.2 245.1,411.6 247.4,413.1 249.7,415.0 252.1,416.5 254.4,415.8 256.7,415.0 259.1,415.3 261.4,415.9 263.7,419.5 266.1,424.0 268.4,427.8 270.7,431.4 273.0,434.9 275.4,437.6 277.7,439.7 280.0,440.3 282.4,440.3 284.7,440.9 287.0,442.4 289.3,444.9 291.7,447.7 294.0,450.2 296.3,452.2 298.7,454.9 301.0,456.7 303.3,458.7 305.6,460.1 308.0,458.9 310.3,445.1 312.6,431.9 315.0,429.9 317.3,429.3 319.6,428.7 322.0,427.8 324.3,429.1 326.6,432.2 328.9,433.2 331.3,433.8 333.6,435.7 335.9,437.7 338.3,440.6 340.6,438.9 342.9,423.1 345.2,409.9 347.6,409.0 349.9,408.5 352.2,408.4 354.6,409.4 356.9,410.6 359.2,414.8 361.5,422.0 363.9,427.9 366.2,430.3 368.5,431.5 370.9,431.0 373.2,429.4 375.5,424.3 377.8,418.6 380.2,414.3 382.5,413.7 384.8,414.3 387.2,414.6 389.5,415.0 391.8,415.9 394.2,417.8 396.5,419.6 398.8,420.1 401.1,419.3 403.5,418.5 405.8,417.1 408.1,415.7 410.5,415.8 412.8,417.5 415.1,420.3 417.4,420.5 419.8,418.8 422.1,414.8 424.4,410.8 426.8,408.4 429.1,406.8 431.4,407.2 433.7,408.4 436.1,410.8 438.4,412.9 440.7,415.0"/>
<path d="M93.7,411.3 96.0,413.2 98.4,415.2 100.7,417.2 103.0,419.0 105.3,420.7 107.7,422.3 110.0,423.9 112.3,425.1 114.7,425.6 117.0,425.9 119.3,426.1 121.6,425.6 124.0,425.3 126.3,424.6 128.6,423.0 131.0,420.6 133.3,418.9 135.6,417.3 138.0,415.9 140.3,414.6 142.6,413.5 144.9,412.2 147.3,411.4 149.6,410.8 151.9,410.9 154.3,410.9 156.6,410.7 158.9,411.6 161.2,415.2 163.6,418.4 165.9,420.1 168.2,419.2 170.6,416.3 172.9,415.5 175.2,416.9 177.5,418.4 179.9,419.5 182.2,420.1 184.5,420.3 186.9,420.2 189.2,419.9 191.5,419.3 193.9,418.3 196.2,417.4 198.5,416.2 200.8,415.4 203.2,415.1 205.5,415.1 207.8,413.6 210.2,412.9 212.5,412.3 214.8,411.8 217.1,411.5 219.5,411.2 221.8,411.3 224.1,411.5 226.5,411.9 228.8,412.8 231.1,413.8 233.4,414.6 235.8,415.1 238.1,415.8 240.4,417.1 242.8,418.1 245.1,419.7 247.4,421.5 249.7,423.4 252.1,425.1 254.4,426.4 256.7,425.2 259.1,425.2 261.4,426.0 263.7,428.3 266.1,428.5 268.4,428.8 270.7,429.0 273.0,429.2 275.4,429.5 277.7,429.7 280.0,429.9 282.4,428.9 284.7,427.3 287.0,425.6 289.3,423.9 291.7,422.8 294.0,421.4 296.3,420.3 298.7,419.8 301.0,419.8 303.3,420.5 305.6,421.3 308.0,422.5 310.3,423.7 312.6,424.9 315.0,426.3 317.3,427.9 319.6,429.2 322.0,430.6 324.3,432.1 326.6,433.2 328.9,434.1 331.3,434.9 333.6,435.1 335.9,432.8 338.3,429.4 340.6,425.4 342.9,423.9 345.2,422.7 347.6,420.5 349.9,420.2 352.2,420.7 354.6,421.7 356.9,423.3 359.2,423.9 361.5,424.0 363.9,423.9 366.2,423.5 368.5,422.4 370.9,421.3 373.2,420.5 375.5,419.7 377.8,419.2 380.2,419.0 382.5,418.8 384.8,419.3 387.2,419.8 389.5,420.3 391.8,420.8 394.2,421.4 396.5,421.4 398.8,421.4 401.1,421.4 403.5,421.4 405.8,421.4 408.1,421.4 410.5,421.3 412.8,421.2 415.1,421.1 417.4,421.0 419.8,420.9 422.1,420.0 424.4,419.1 426.8,417.1 429.1,415.6 431.4,414.3 433.7,413.0 436.1,411.8 438.4,410.8 440.7,410.0"/>
<path d="M93.7,398.7 96.0,400.3 98.4,402.4 100.7,404.5 103.0,406.3 105.3,408.0 107.7,410.0 110.0,412.4 112.3,413.9 114.7,414.9 117.0,416.9 119.3,419.1 121.6,422.0 124.0,424.4 126.3,425.9 128.6,422.9 131.0,415.4 133.3,413.5 135.6,412.6 138.0,411.8 140.3,410.2 142.6,408.1 144.9,405.1 147.3,402.8 149.6,400.3 151.9,398.0 154.3,396.0 156.6,394.8 158.9,394.5 161.2,394.4 163.6,394.2 165.9,393.9 168.2,393.1 170.6,393.1 172.9,393.9 175.2,395.6 177.5,397.2 179.9,398.7 182.2,400.3 184.5,402.1 186.9,404.3 189.2,406.4 191.5,407.5 193.9,407.8 196.2,407.9 198.5,405.2 200.8,403.2 203.2,402.5 205.5,402.3 207.8,402.1 210.2,402.4 212.5,403.0 214.8,404.0 217.1,405.2 219.5,406.4 221.8,408.1 224.1,409.4 226.5,410.4 228.8,411.3 231.1,411.6 233.4,411.3 235.8,410.1 238.1,408.7 240.4,406.6 242.8,404.0 245.1,402.8 247.4,403.4 249.7,405.7 252.1,407.8 254.4,407.1 256.7,406.5 259.1,405.8 261.4,405.4 263.7,405.6 266.1,406.4 268.4,407.2 270.7,408.2 273.0,409.4 275.4,410.5 277.7,411.2 280.0,411.7 282.4,412.1 284.7,412.4 287.0,412.3 289.3,412.1 291.7,411.6 294.0,409.8 296.3,408.8 298.7,408.4 301.0,408.1 303.3,407.9 305.6,408.1 308.0,408.3 310.3,408.6 312.6,409.0 315.0,409.6 317.3,410.8 319.6,411.9 322.0,413.0 324.3,414.2 326.6,415.1 328.9,415.5 331.3,415.4 333.6,414.8 335.9,413.3 338.3,412.5 340.6,412.2 342.9,411.0 345.2,409.6 347.6,408.7 349.9,408.1 352.2,407.8 354.6,408.7 356.9,409.5 359.2,409.6 361.5,409.0 363.9,408.4 366.2,407.9 368.5,407.3 370.9,406.4 373.2,405.3 375.5,404.1 377.8,402.7 380.2,402.2 382.5,401.7 384.8,401.5 387.2,401.0 389.5,400.5 391.8,400.0 394.2,400.3 396.5,401.1 398.8,402.2 401.1,403.0 403.5,404.0 405.8,405.1 408.1,406.6 410.5,407.9 412.8,408.9 415.1,409.2 417.4,409.1 419.8,408.4 422.1,406.8 424.4,404.7 426.8,402.5 429.1,400.5 431.4,398.5 433.7,396.6 436.1,395.5 438.4,395.1 440.7,394.8"/>
<path d="M93.7,398.6 96.0,400.3 98.4,402.3 100.7,404.3 103.0,405.8 105.3,407.0 107.7,408.4 110.0,409.8 112.3,410.3 114.7,409.8 117.0,409.6 119.3,409.4 121.6,409.9 124.0,410.9 126.3,412.6 128.6,411.0 131.0,403.9 133.3,401.5 135.6,400.9 138.0,400.9 140.3,401.2 142.6,401.7 144.9,402.1 147.3,403.4 149.6,405.0 151.9,406.5 154.3,407.7 156.6,408.0 158.9,409.6 161.2,413.9 163.6,417.5 165.9,418.8 168.2,416.5 170.6,411.5 172.9,409.5 175.2,411.1 177.5,413.0 179.9,414.7 182.2,415.7 184.5,416.1 186.9,416.3 189.2,416.1 191.5,414.8 193.9,412.9 196.2,411.1 198.5,407.6 200.8,405.2 203.2,404.5 205.5,404.6 207.8,404.4 210.2,404.6 212.5,405.1 214.8,406.0 217.1,407.0 219.5,407.9 221.8,408.9 224.1,409.6 226.5,410.0 228.8,410.5 231.1,410.8 233.4,410.6 235.8,409.9 238.1,409.3 240.4,408.5 242.8,407.8 245.1,408.6 247.4,409.7 249.7,411.5 252.1,413.1 254.4,412.1 256.7,411.6 259.1,411.7 261.4,412.2 263.7,415.2 266.1,419.5 268.4,423.0 270.7,426.1 273.0,428.9 275.4,430.8 277.7,432.1 280.0,432.5 282.4,433.0 284.7,434.5 287.0,437.5 289.3,442.2 291.7,447.5 294.0,452.4 296.3,456.2 298.7,459.8 301.0,461.2 303.3,461.9 305.6,461.2 308.0,457.5 310.3,442.0 312.6,428.7 315.0,426.9 317.3,426.8 319.6,427.0 322.0,427.3 324.3,429.9 326.6,434.6 328.9,437.6 331.3,440.2 333.6,444.1 335.9,447.5 338.3,450.8 340.6,448.2 342.9,432.9 345.2,420.3 347.6,418.8 349.9,418.7 352.2,419.1 354.6,420.0 356.9,421.4 359.2,424.4 361.5,429.3 363.9,433.4 366.2,435.0 368.5,434.8 370.9,432.9 373.2,429.8 375.5,423.3 377.8,415.9 380.2,409.5 382.5,406.9 384.8,405.6 387.2,404.4 389.5,403.7 391.8,404.2 394.2,406.4 396.5,408.9 398.8,409.9 401.1,409.3 403.5,409.0 405.8,408.2 408.1,407.8 410.5,408.9 412.8,411.2 415.1,413.9 417.4,414.0 419.8,412.6 422.1,409.7 424.4,407.2 426.8,405.8 429.1,405.1 431.4,405.7 433.7,406.9 436.1,408.9 438.4,410.6 440.7,412.2"/>
<path d="M93.7,418.7 96.0,422.9 98.4,428.8 100.7,434.4 103.0,439.4 105.3,444.5 107.7,448.5 110.0,452.2 112.3,454.4 114.7,455.9 117.0,457.9 119.3,460.1 121.6,462.8 124.0,464.8 126.3,464.4 128.6,453.7 131.0,433.8 133.3,429.6 135.6,428.7 138.0,429.2 140.3,427.7 142.6,425.2 144.9,421.9 147.3,421.1 149.6,420.1 151.9,420.1 154.3,420.4 156.6,420.7 158.9,420.7 161.2,420.7 163.6,420.7 165.9,420.7 168.2,420.4 170.6,419.6 172.9,418.5 175.2,418.4 177.5,419.1 179.9,420.1 182.2,421.2 184.5,422.4 186.9,423.9 189.2,425.1 191.5,425.3 193.9,424.6 196.2,423.4 198.5,420.4 200.8,417.9 203.2,416.5 205.5,415.6 207.8,414.2 210.2,413.7 212.5,413.5 214.8,413.7 217.1,414.2 219.5,414.7 221.8,415.5 224.1,416.2 226.5,417.0 228.8,418.0 231.1,418.6 233.4,419.1 235.8,419.3 238.1,419.5 240.4,420.4 242.8,420.6 245.1,420.9 247.4,421.2 249.7,421.7 252.1,422.1 254.4,421.7 256.7,419.6 259.1,419.2 261.4,419.4 263.7,421.5 266.1,423.2 268.4,424.9 270.7,426.9 273.0,429.0 275.4,430.8 277.7,432.6 280.0,434.1 282.4,435.4 284.7,436.8 287.0,438.6 289.3,440.6 291.7,443.3 294.0,446.3 296.3,448.6 298.7,450.6 301.0,451.9 303.3,453.0 305.6,452.7 308.0,450.9 310.3,443.9 312.6,437.3 315.0,435.8 317.3,435.4 319.6,435.2 322.0,435.5 324.3,437.3 326.6,439.9 328.9,442.1 331.3,444.6 333.6,447.0 335.9,446.6 338.3,444.7 340.6,439.5 342.9,432.7 345.2,426.9 347.6,423.8 349.9,423.0 352.2,423.1 354.6,423.6 356.9,425.1 359.2,426.1 361.5,427.3 363.9,428.4 366.2,429.1 368.5,428.8 370.9,428.2 373.2,427.4 375.5,426.0 377.8,424.5 380.2,423.0 382.5,422.0 384.8,421.9 387.2,421.8 389.5,421.6 391.8,421.3 394.2,421.1 396.5,420.8 398.8,420.3 401.1,419.7 403.5,419.2 405.8,418.8 408.1,418.5 410.5,418.5 412.8,418.7 415.1,418.9 417.4,418.7 419.8,418.2 422.1,416.7 424.4,415.0 426.8,413.4 429.1,412.5 431.4,411.8 433.7,411.3 436.1,411.2 438.4,411.2 440.7,411.5"/>
<path d="M93.7,409.9 96.0,410.3 98.4,410.9 100.7,412.0 103.0,413.1 105.3,414.5 107.7,416.4 110.0,418.6 112.3,420.7 114.7,422.2 117.0,423.6 119.3,424.7 121.6,425.1 124.0,425.2 126.3,424.7 128.6,423.3 131.0,421.1 133.3,419.9 135.6,419.1 138.0,418.8 140.3,419.0 142.6,419.6 144.9,420.1 147.3,421.1 149.6,420.1 151.9,420.1 154.3,420.4 156.6,420.7 158.9,420.7 161.2,420.7 163.6,420.7 165.9,420.7 168.2,420.4 170.6,420.0 172.9,419.4 175.2,419.1 177.5,419.5 179.9,419.4 182.2,419.3 184.5,419.5 186.9,420.0 189.2,420.7 191.5,421.6 193.9,422.2 196.2,422.3 198.5,422.4 200.8,422.5 203.2,422.7 205.5,422.8 207.8,421.2 210.2,420.2 212.5,419.1 214.8,418.3 217.1,417.8 219.5,417.4 221.8,417.3 224.1,417.5 226.5,417.9 228.8,418.5 231.1,418.9 233.4,419.1 235.8,418.9 238.1,418.6 240.4,419.0 242.8,419.2 245.1,419.8 247.4,420.0 249.7,420.0 252.1,420.0 254.4,418.1 256.7,416.4 259.1,416.1 261.4,416.3 263.7,418.0 266.1,419.6 268.4,421.3 270.7,423.1 273.0,425.0 275.4,426.6 277.7,427.9 280.0,428.7 282.4,429.3 284.7,429.8 287.0,430.4 289.3,431.3 291.7,432.4 294.0,433.2 296.3,434.0 298.7,435.1 301.0,436.2 303.3,437.7 305.6,438.4 308.0,438.6 310.3,436.3 312.6,434.0 315.0,434.4 317.3,435.1 319.6,435.3 322.0,435.9 324.3,437.5 326.6,439.5 328.9,441.6 331.3,444.0 333.6,446.2 335.9,445.3 338.3,442.6 340.6,437.2 342.9,432.1 345.2,427.8 347.6,424.6 349.9,423.5 352.2,423.2 354.6,423.5 356.9,424.9 359.2,427.1 361.5,430.7 363.9,434.0 366.2,435.9 368.5,436.1 370.9,435.2 373.2,433.6 375.5,429.6 377.8,425.0 380.2,420.7 382.5,418.8 384.8,418.2 387.2,417.7 389.5,417.4 391.8,418.0 394.2,419.7 396.5,421.5 398.8,422.5 401.1,422.7 403.5,423.1 405.8,423.1 408.1,423.3 410.5,424.1 412.8,425.6 415.1,427.0 417.4,426.8 419.8,425.8 422.1,423.6 424.4,421.3 426.8,419.2 429.1,417.9 431.4,417.5 433.7,417.6 436.1,418.3 438.4,418.9 440.7,419.6"/>
<path d="M93.7,404.0 96.0,406.2 98.4,408.6 100.7,411.0 103.0,413.1 105.3,414.8 107.7,416.2 110.0,417.4 112.3,417.8 114.7,417.2 117.0,416.5 119.3,415.8 121.6,415.3 124.0,415.5 126.3,416.2 128.6,415.7 131.0,412.9 133.3,411.9 135.6,411.6 138.0,411.3 140.3,411.3 142.6,411.1 144.9,410.6 147.3,410.5 149.6,410.3 151.9,410.6 154.3,410.6 156.6,410.1 158.9,410.6 161.2,413.1 163.6,414.6 165.9,414.0 168.2,411.0 170.6,407.2 172.9,405.4 175.2,405.2 177.5,405.4 179.9,405.8 182.2,406.3 184.5,407.0 186.9,408.0 189.2,408.9 191.5,409.8 193.9,410.7 196.2,411.8 198.5,412.7 200.8,413.5 203.2,414.6 205.5,415.5 207.8,414.5 210.2,414.2 212.5,413.7 214.8,413.6 217.1,413.6 219.5,413.9 221.8,414.5 224.1,415.3 226.5,416.2 228.8,417.3 231.1,418.1 233.4,418.5 235.8,418.5 238.1,418.2 240.4,418.6 242.8,418.8 245.1,419.6 247.4,419.8 249.7,419.8 252.1,419.8 254.4,418.1 256.7,416.3 259.1,415.7 261.4,415.3 263.7,415.7 266.1,415.7 268.4,415.7 270.7,416.0 273.0,416.9 275.4,418.1 277.7,419.5 280.0,420.9 282.4,422.6 284.7,424.8 287.0,427.5 289.3,431.0 291.7,434.8 294.0,438.2 296.3,440.6 298.7,442.9 301.0,444.0 303.3,444.5 305.6,443.5 308.0,440.9 310.3,433.4 312.6,426.6 315.0,424.5 317.3,422.9 319.6,421.5 322.0,420.2 324.3,419.8 326.6,420.0 328.9,419.8 331.3,419.6 333.6,420.1 335.9,420.6 338.3,421.7 340.6,421.7 342.9,416.8 345.2,412.8 347.6,412.7 349.9,413.4 352.2,414.6 354.6,416.7 356.9,419.2 359.2,420.8 361.5,422.0 363.9,423.0 366.2,423.9 368.5,423.8 370.9,423.4 373.2,422.8 375.5,421.9 377.8,420.7 380.2,419.6 382.5,418.5 384.8,418.0 387.2,417.5 389.5,417.1 391.8,416.7 394.2,416.5 396.5,416.3 398.8,416.1 401.1,415.7 403.5,415.2 405.8,414.6 408.1,414.1 410.5,413.6 412.8,413.0 415.1,412.4 417.4,411.8 419.8,411.2 422.1,410.1 424.4,409.1 426.8,408.3 429.1,408.1 431.4,408.0 433.7,408.0 436.1,408.0 438.4,408.0 440.7,408.0"/>
<path d="M93.7,395.6 96.0,396.4 98.4,397.6 100.7,399.0 103.0,400.0 105.3,400.9 107.7,402.1 110.0,403.5 112.3,403.9 114.7,403.5 117.0,403.7 119.3,404.1 121.6,405.3 124.0,407.0 126.3,409.3 128.6,409.3 131.0,405.2 133.3,403.7 135.6,403.3 138.0,403.2 140.3,403.5 142.6,403.8 144.9,404.1 147.3,404.8 149.6,405.7 151.9,406.7 154.3,407.1 156.6,406.7 158.9,407.7 161.2,411.2 163.6,413.9 165.9,414.3 168.2,412.0 170.6,408.4 172.9,407.4 175.2,408.7 177.5,410.6 179.9,412.6 182.2,414.5 184.5,416.3 186.9,418.0 189.2,419.6 191.5,420.4 193.9,420.1 196.2,419.2 198.5,416.6 200.8,414.4 203.2,412.9 205.5,411.8 207.8,409.7 210.2,408.0 212.5,406.4 214.8,405.1 217.1,403.9 219.5,402.9 221.8,402.6 224.1,402.5 226.5,402.7 228.8,403.7 231.1,404.7 233.4,405.3 235.8,405.0 238.1,404.9 240.4,403.7 242.8,402.5 245.1,402.9 247.4,404.3 249.7,406.9 252.1,409.4 254.4,409.5 256.7,409.4 259.1,409.6 261.4,410.0 263.7,412.0 266.1,414.9 268.4,417.2 270.7,419.3 273.0,421.3 275.4,422.8 277.7,423.7 280.0,424.0 282.4,424.2 284.7,424.7 287.0,425.5 289.3,427.3 291.7,429.7 294.0,432.4 296.3,436.2 298.7,441.7 301.0,447.5 303.3,454.0 305.6,454.7 308.0,451.8 310.3,438.0 312.6,426.1 315.0,424.9 317.3,425.1 319.6,425.5 322.0,425.8 324.3,428.1 326.6,432.1 328.9,434.5 331.3,436.5 333.6,439.3 335.9,440.6 338.3,440.3 340.6,435.7 342.9,423.3 345.2,413.9 347.6,412.0 349.9,411.0 352.2,410.3 354.6,410.7 356.9,411.2 359.2,413.2 361.5,416.8 363.9,419.9 366.2,420.6 368.5,420.7 370.9,419.5 373.2,417.5 375.5,412.6 377.8,407.0 380.2,402.8 382.5,402.1 384.8,402.8 387.2,403.4 389.5,404.2 391.8,405.9 394.2,409.2 396.5,412.4 398.8,413.8 401.1,413.4 403.5,412.9 405.8,411.7 408.1,410.7 410.5,411.4 412.8,413.9 415.1,417.0 417.4,416.9 419.8,414.9 422.1,411.0 424.4,407.8 426.8,406.0 429.1,404.9 431.4,405.4 433.7,406.7 436.1,409.1 438.4,411.4 440.7,413.6"/>
<path d="M93.7,395.5 96.0,399.8 98.4,405.5 100.7,411.2 103.0,416.0 105.3,420.4 107.7,423.7 110.0,426.3 112.3,426.7 114.7,425.9 117.0,425.5 119.3,425.4 121.6,426.7 124.0,428.1 126.3,429.6 128.6,423.1 131.0,405.9 133.3,401.8 135.6,401.1 138.0,401.8 140.3,401.4 142.6,400.2 144.9,398.6 147.3,399.4 149.6,400.5 151.9,401.4 154.3,402.0 156.6,401.8 158.9,402.8 161.2,406.4 163.6,409.2 165.9,409.7 168.2,406.8 170.6,401.9 172.9,399.8 175.2,399.9 177.5,400.3 179.9,400.5 182.2,400.6 184.5,400.5 186.9,400.4 189.2,399.8 191.5,399.4 193.9,399.6 196.2,400.1 198.5,400.1 200.8,400.3 203.2,401.2 205.5,402.3 207.8,401.6 210.2,400.9 212.5,400.2 214.8,399.8 217.1,399.3 219.5,399.0 221.8,399.5 224.1,399.9 226.5,400.6 228.8,402.1 231.1,403.5 233.4,404.4 235.8,404.4 238.1,404.4 240.4,403.3 242.8,402.1 245.1,402.4 247.4,403.4 249.7,405.7 252.1,407.8 254.4,407.1 256.7,406.5 259.1,405.8 261.4,405.2 263.7,405.1 266.1,406.3 268.4,407.7 270.7,409.5 273.0,411.7 275.4,413.9 277.7,415.8 280.0,417.3 282.4,418.7 284.7,420.4 287.0,422.4 289.3,425.0 291.7,428.3 294.0,430.2 296.3,431.1 298.7,432.4 301.0,432.8 303.3,433.1 305.6,433.3 308.0,432.1 310.3,424.7 312.6,418.3 315.0,417.6 317.3,417.4 319.6,417.0 322.0,416.6 324.3,417.4 326.6,418.8 328.9,419.4 331.3,419.8 333.6,420.6 335.9,421.6 338.3,423.0 340.6,422.2 342.9,416.7 345.2,412.2 347.6,411.3 349.9,410.9 352.2,410.8 354.6,411.7 356.9,412.7 359.2,414.6 361.5,417.8 363.9,420.8 366.2,422.1 368.5,422.7 370.9,422.1 373.2,420.7 375.5,416.3 377.8,410.8 380.2,406.4 382.5,405.5 384.8,405.6 387.2,405.7 389.5,406.0 391.8,407.4 394.2,410.3 396.5,413.2 398.8,414.1 401.1,413.1 403.5,412.1 405.8,410.2 408.1,408.6 410.5,408.9 412.8,411.2 415.1,414.4 417.4,414.0 419.8,411.5 422.1,407.2 424.4,403.7 426.8,402.0 429.1,400.9 431.4,401.6 433.7,403.1 436.1,405.8 438.4,408.1 440.7,409.6"/>
<path d="M93.7,397.3 96.0,401.4 98.4,406.5 100.7,411.5 103.0,415.8 105.3,419.7 107.7,422.7 110.0,425.3 112.3,425.9 114.7,425.3 117.0,424.9 119.3,424.6 121.6,425.5 124.0,425.3 126.3,424.5 128.6,418.1 131.0,404.4 133.3,400.9 135.6,400.0 138.0,399.9 140.3,399.5 142.6,398.8 144.9,397.7 147.3,397.6 149.6,397.4 151.9,397.0 154.3,396.3 156.6,395.2 158.9,394.5 161.2,394.4 163.6,394.2 165.9,393.9 168.2,393.1 170.6,393.0 172.9,393.3 175.2,395.6 177.5,398.2 179.9,401.0 182.2,403.8 184.5,406.3 186.9,409.1 189.2,411.3 191.5,412.1 193.9,411.9 196.2,411.4 198.5,407.3 200.8,404.4 203.2,403.1 205.5,402.3 207.8,401.7 210.2,401.3 212.5,400.8 214.8,400.5 217.1,400.0 219.5,399.4 221.8,399.5 224.1,399.9 226.5,400.6 228.8,402.1 231.1,403.5 233.4,404.4 235.8,404.4 238.1,404.4 240.4,403.3 242.8,402.3 245.1,403.2 247.4,405.4 249.7,408.3 252.1,410.6 254.4,410.1 256.7,409.3 259.1,408.6 261.4,408.0 263.7,407.5 266.1,407.6 268.4,408.1 270.7,409.2 273.0,410.8 275.4,412.4 277.7,413.8 280.0,414.8 282.4,415.6 284.7,416.0 287.0,415.9 289.3,415.5 291.7,415.0 294.0,413.4 296.3,411.9 298.7,410.7 301.0,409.6 303.3,408.7 305.6,408.4 308.0,408.3 310.3,408.6 312.6,409.2 315.0,410.1 317.3,411.0 319.6,412.0 322.0,413.2 324.3,414.6 326.6,415.8 328.9,416.9 331.3,417.7 333.6,418.0 335.9,417.3 338.3,416.0 340.6,414.5 342.9,412.7 345.2,410.9 347.6,409.4 349.9,408.5 352.2,407.9 354.6,408.7 356.9,409.7 359.2,410.0 361.5,409.8 363.9,409.7 366.2,409.1 368.5,408.4 370.9,407.4 373.2,406.3 375.5,404.9 377.8,403.4 380.2,402.5 382.5,401.7 384.8,401.5 387.2,401.0 389.5,400.5 391.8,400.0 394.2,399.9 396.5,400.1 398.8,400.3 401.1,399.9 403.5,399.5 405.8,399.2 408.1,399.3 410.5,399.5 412.8,399.8 415.1,399.5 417.4,399.2 419.8,398.9 422.1,398.2 424.4,397.5 426.8,396.9 429.1,396.6 431.4,396.2 433.7,395.8 436.1,395.5 438.4,395.1 440.7,394.8"/>
<path d="M93.7,426.8 96.0,431.3 98.4,436.7 100.7,441.7 103.0,446.6 105.3,451.5 107.7,455.2 110.0,458.4 112.3,460.6 114.7,461.9 117.0,462.7 119.3,463.1 121.6,463.2 124.0,461.4 126.3,457.8 128.6,446.3 131.0,427.0 133.3,421.8 135.6,419.9 138.0,419.9 140.3,418.4 142.6,416.2 144.9,413.5 147.3,413.7 149.6,413.9 151.9,415.0 154.3,416.2 156.6,417.1 158.9,417.5 161.2,417.6 163.6,417.3 165.9,416.8 168.2,415.9 170.6,415.1 172.9,414.4 175.2,414.8 177.5,416.0 179.9,417.5 182.2,419.0 184.5,420.5 186.9,422.1 189.2,423.6 191.5,424.4 193.9,424.3 196.2,423.8 198.5,421.7 200.8,420.1 203.2,419.2 205.5,418.7 207.8,417.8 210.2,418.0 212.5,418.3 214.8,419.0 217.1,420.0 219.5,420.9 221.8,421.6 224.1,422.1 226.5,422.3 228.8,422.2 231.1,421.8 233.4,421.1 235.8,420.4 238.1,419.8 240.4,420.1 242.8,420.1 245.1,420.9 247.4,422.1 249.7,423.8 252.1,425.4 254.4,426.6 256.7,425.2 259.1,425.2 261.4,426.0 263.7,430.3 266.1,434.4 268.4,437.8 270.7,440.8 273.0,443.7 275.4,445.7 277.7,447.3 280.0,448.0 282.4,448.5 284.7,449.7 287.0,452.1 289.3,455.9 291.7,460.5 294.0,465.9 296.3,470.5 298.7,475.5 301.0,479.6 303.3,483.8 305.6,486.0 308.0,484.8 310.3,469.1 312.6,453.6 315.0,451.3 317.3,450.8 319.6,449.0 322.0,447.1 324.3,447.8 326.6,450.3 328.9,451.1 331.3,451.6 333.6,452.9 335.9,452.2 338.3,451.0 340.6,444.9 342.9,432.2 345.2,422.9 347.6,420.8 349.9,420.8 352.2,421.9 354.6,423.7 356.9,426.1 359.2,426.8 361.5,427.3 363.9,427.7 366.2,428.2 368.5,427.7 370.9,427.0 373.2,426.3 375.5,425.4 377.8,424.3 380.2,423.3 382.5,422.2 384.8,422.0 387.2,421.8 389.5,421.7 391.8,421.5 394.2,421.4 396.5,421.4 398.8,421.4 401.1,421.4 403.5,421.4 405.8,421.4 408.1,421.4 410.5,421.3 412.8,421.2 415.1,421.1 417.4,421.0 419.8,419.9 422.1,417.8 424.4,415.7 426.8,413.8 429.1,412.8 431.4,412.1 433.7,411.9 436.1,411.9 438.4,412.3 440.7,412.9"/>
<path d="M93.7,395.6 96.0,399.4 98.4,404.0 100.7,408.2 103.0,411.3 105.3,414.0 107.7,416.4 110.0,418.8 112.3,419.6 114.7,419.7 117.0,421.4 119.3,424.5 121.6,428.5 124.0,431.5 126.3,433.1 128.6,426.0 131.0,409.9 133.3,406.0 135.6,404.7 138.0,404.0 140.3,402.6 142.6,400.7 144.9,398.6 147.3,398.0 149.6,397.4 151.9,396.9 154.3,396.4 156.6,395.8 158.9,395.2 161.2,394.5 163.6,394.2 165.9,393.9 168.2,393.1 170.6,393.0 172.9,393.3 175.2,394.4 177.5,396.3 179.9,399.0 182.2,401.6 184.5,404.4 186.9,407.4 189.2,410.2 191.5,412.7 193.9,414.4 196.2,415.8 198.5,415.3 200.8,414.6 203.2,414.2 205.5,413.7 207.8,412.1 210.2,411.0 212.5,409.9 214.8,409.0 217.1,408.3 219.5,407.8 221.8,407.7 224.1,407.7 226.5,407.8 228.8,408.2 231.1,408.5 233.4,408.3 235.8,407.3 238.1,406.2 240.4,404.3 242.8,402.6 245.1,403.3 247.4,404.5 249.7,406.5 252.1,408.4 254.4,407.1 256.7,406.5 259.1,405.9 261.4,406.0 263.7,407.0 266.1,409.3 268.4,411.4 270.7,413.6 273.0,416.0 275.4,418.0 277.7,419.6 280.0,420.6 282.4,421.2 284.7,422.0 287.0,422.7 289.3,423.9 291.7,424.8 294.0,424.8 296.3,424.9 298.7,425.8 301.0,426.7 303.3,428.3 305.6,430.0 308.0,430.7 310.3,426.6 312.6,422.1 315.0,421.2 317.3,420.8 319.6,420.1 322.0,419.4 324.3,419.5 326.6,420.3 328.9,420.3 331.3,419.9 333.6,420.0 335.9,420.5 338.3,420.9 340.6,420.0 342.9,414.3 345.2,409.8 347.6,409.0 349.9,408.6 352.2,408.3 354.6,409.1 356.9,409.9 359.2,409.7 361.5,409.0 363.9,408.4 366.2,407.4 368.5,406.3 370.9,405.2 373.2,404.1 375.5,403.1 377.8,402.1 380.2,401.9 382.5,402.2 384.8,403.4 387.2,404.3 389.5,405.2 391.8,406.0 394.2,407.0 396.5,407.9 398.8,408.4 401.1,408.4 403.5,408.2 405.8,407.7 408.1,407.3 410.5,406.9 412.8,406.4 415.1,405.5 417.4,404.5 419.8,403.4 422.1,401.8 424.4,400.2 426.8,398.7 429.1,397.6 431.4,396.6 433.7,395.8 436.1,395.5 438.4,395.1 440.7,394.8"/>
<path d="M93.7,402.9 96.0,407.7 98.4,413.2 100.7,417.5 103.0,420.3 105.3,422.2 107.7,423.4 110.0,424.6 112.3,425.2 114.7,425.7 117.0,427.2 119.3,429.2 121.6,432.2 124.0,435.3 126.3,437.6 128.6,431.3 131.0,413.6 133.3,409.1 135.6,407.8 138.0,408.1 140.3,406.9 142.6,404.7 144.9,402.0 147.3,402.0 149.6,402.3 151.9,403.0 154.3,403.8 156.6,404.5 158.9,405.6 161.2,407.6 163.6,409.4 165.9,410.1 168.2,409.2 170.6,407.5 172.9,406.5 175.2,407.9 177.5,409.5 179.9,411.1 182.2,412.5 184.5,413.5 186.9,415.0 189.2,416.4 191.5,416.6 193.9,415.8 196.2,414.7 198.5,410.0 200.8,406.3 203.2,404.2 205.5,402.7 207.8,401.6 210.2,400.9 212.5,400.2 214.8,399.8 217.1,399.3 219.5,399.0 221.8,399.5 224.1,399.9 226.5,400.6 228.8,402.1 231.1,403.5 233.4,404.4 235.8,404.4 238.1,404.4 240.4,403.6 242.8,403.5 245.1,405.0 247.4,406.5 249.7,408.2 252.1,409.6 254.4,407.1 256.7,406.5 259.1,405.8 261.4,405.2 263.7,404.5 266.1,404.7 268.4,405.0 270.7,405.7 273.0,406.8 275.4,407.9 277.7,408.8 280.0,409.4 282.4,410.0 284.7,410.9 287.0,411.7 289.3,412.4 291.7,412.7 294.0,411.8 296.3,411.0 298.7,410.5 301.0,409.9 303.3,409.4 305.6,409.3 308.0,409.3 310.3,409.6 312.6,410.1 315.0,410.9 317.3,411.6 319.6,412.5 322.0,413.7 324.3,415.2 326.6,416.8 328.9,418.4 331.3,419.9 333.6,421.2 335.9,421.1 338.3,420.0 340.6,418.3 342.9,416.9 345.2,415.6 347.6,413.9 349.9,413.4 352.2,413.3 354.6,414.0 356.9,415.0 359.2,415.1 361.5,414.3 363.9,413.4 366.2,411.9 368.5,410.0 370.9,408.0 373.2,406.2 375.5,404.6 377.8,403.2 380.2,402.9 382.5,402.7 384.8,402.7 387.2,402.4 389.5,402.2 391.8,401.9 394.2,402.0 396.5,402.2 398.8,402.4 401.1,402.1 403.5,401.8 405.8,401.5 408.1,401.7 410.5,401.9 412.8,402.2 415.1,402.0 417.4,401.6 419.8,401.2 422.1,400.3 424.4,399.5 426.8,398.8 429.1,398.5 431.4,398.3 433.7,398.1 436.1,398.1 438.4,398.2 440.7,398.2"/>
<path d="M93.7,415.5 96.0,420.7 98.4,426.7 100.7,432.2 103.0,437.1 105.3,441.5 107.7,444.5 110.0,446.7 112.3,447.0 114.7,446.1 117.0,445.0 119.3,444.4 121.6,444.6 124.0,444.6 126.3,444.4 128.6,434.4 131.0,413.3 133.3,409.1 135.6,408.6 138.0,409.5 140.3,408.5 142.6,406.1 144.9,402.8 147.3,401.7 149.6,400.5 151.9,399.5 154.3,398.6 156.6,398.1 158.9,397.8 161.2,398.1 163.6,398.8 165.9,399.7 168.2,400.3 170.6,401.5 172.9,402.8 175.2,404.1 177.5,405.5 179.9,406.7 182.2,407.5 184.5,408.1 186.9,408.7 189.2,409.0 191.5,409.3 193.9,409.3 196.2,409.7 198.5,409.8 200.8,410.0 203.2,410.7 205.5,411.2 207.8,409.9 210.2,409.1 212.5,408.1 214.8,407.4 217.1,406.9 219.5,406.6 221.8,407.2 224.1,408.1 226.5,409.5 228.8,411.4 231.1,413.1 233.4,414.3 235.8,414.9 238.1,415.2 240.4,415.5 242.8,414.9 245.1,414.6 247.4,414.5 249.7,415.1 252.1,415.7 254.4,414.9 256.7,413.4 259.1,413.0 261.4,413.2 263.7,415.5 266.1,418.8 268.4,422.0 270.7,425.4 273.0,428.8 275.4,431.8 277.7,434.2 280.0,435.8 282.4,437.2 284.7,439.2 287.0,442.1 289.3,446.1 291.7,450.5 294.0,454.6 296.3,457.9 298.7,461.3 301.0,463.5 303.3,465.5 305.6,466.3 308.0,464.2 310.3,449.3 312.6,435.4 315.0,432.9 317.3,431.9 319.6,430.8 322.0,429.5 324.3,430.3 326.6,432.6 328.9,433.6 331.3,434.7 333.6,437.2 335.9,439.7 338.3,443.0 340.6,442.1 342.9,429.4 345.2,417.8 347.6,416.8 349.9,417.1 352.2,418.1 354.6,419.8 356.9,422.2 359.2,424.3 361.5,426.7 363.9,428.8 366.2,430.3 368.5,430.4 370.9,429.7 373.2,428.4 375.5,425.8 377.8,422.9 380.2,420.1 382.5,418.0 384.8,416.7 387.2,415.5 389.5,414.4 391.8,413.5 394.2,413.4 396.5,413.4 398.8,413.3 401.1,412.8 403.5,412.3 405.8,411.7 408.1,411.3 410.5,411.3 412.8,411.5 415.1,411.5 417.4,411.0 419.8,410.2 422.1,408.5 424.4,407.2 426.8,406.2 429.1,405.7 431.4,405.7 433.7,405.8 436.1,406.1 438.4,406.4 440.7,406.6"/>
<path d="M93.7,415.1 96.0,416.6 98.4,418.2 100.7,419.7 103.0,420.8 105.3,421.5 107.7,421.7 110.0,421.7 112.3,420.5 114.7,418.5 117.0,417.1 119.3,416.2 121.6,416.5 124.0,417.6 126.3,419.3 128.6,418.0 131.0,412.5 133.3,412.2 135.6,413.1 138.0,414.5 140.3,415.5 142.6,416.2 144.9,416.1 147.3,416.8 149.6,417.3 151.9,418.5 154.3,419.7 156.6,420.5 158.9,421.5 161.2,423.6 163.6,425.1 165.9,425.4 168.2,423.9 170.6,420.4 172.9,417.6 175.2,416.4 177.5,415.7 179.9,415.2 182.2,415.0 184.5,415.0 186.9,415.4 189.2,416.0 191.5,416.7 193.9,417.1 196.2,417.8 198.5,418.0 200.8,418.5 203.2,419.3 205.5,420.1 207.8,419.4 210.2,419.7 212.5,419.9 214.8,420.5 217.1,421.2 219.5,421.6 221.8,422.0 224.1,422.4 226.5,422.8 228.8,423.2 231.1,423.3 233.4,423.1 235.8,422.6 238.1,422.1 240.4,422.8 242.8,423.3 245.1,424.1 247.4,424.2 249.7,423.9 252.1,423.5 254.4,421.4 256.7,419.0 259.1,418.2 261.4,417.9 263.7,420.5 266.1,424.0 268.4,427.2 270.7,430.7 273.0,434.5 275.4,438.0 277.7,441.4 280.0,444.2 282.4,446.8 284.7,450.3 287.0,455.1 289.3,461.0 291.7,467.2 294.0,473.7 296.3,478.6 298.7,483.0 301.0,485.3 303.3,486.0 305.6,482.3 308.0,475.6 310.3,458.3 312.6,444.1 315.0,441.1 317.3,440.0 319.6,439.2 322.0,438.8 324.3,440.5 326.6,443.6 328.9,445.9 331.3,448.4 333.6,451.6 335.9,453.1 338.3,454.5 340.6,450.6 342.9,436.7 345.2,424.7 347.6,422.3 349.9,422.1 352.2,422.6 354.6,423.5 356.9,425.0 359.2,425.5 361.5,425.5 363.9,425.2 366.2,424.7 368.5,423.2 370.9,421.6 373.2,420.2 375.5,418.7 377.8,417.4 380.2,416.5 382.5,415.7 384.8,415.5 387.2,415.1 389.5,414.8 391.8,414.4 394.2,414.2 396.5,414.3 398.8,414.5 401.1,414.7 403.5,415.2 405.8,415.9 408.1,416.8 410.5,417.7 412.8,418.6 415.1,419.2 417.4,419.7 419.8,419.9 422.1,419.2 424.4,418.4 426.8,417.4 429.1,417.1 431.4,416.8 433.7,416.5 436.1,416.2 438.4,415.7 440.7,415.3"/>
<path d="M93.7,392.7 96.0,394.4 98.4,396.6 100.7,399.1 103.0,401.4 105.3,403.3 107.7,405.2 110.0,406.9 112.3,407.2 114.7,406.1 117.0,404.8 119.3,403.4 121.6,402.7 124.0,402.8 126.3,404.2 128.6,404.7 131.0,400.2 133.3,398.4 135.6,397.6 138.0,396.9 140.3,396.5 142.6,396.5 144.9,397.8 147.3,399.4 149.6,401.2 151.9,403.1 154.3,404.9 156.6,406.2 158.9,408.0 161.2,411.0 163.6,413.3 165.9,414.0 168.2,412.4 170.6,409.4 172.9,407.4 175.2,407.2 177.5,407.0 179.9,406.6 182.2,406.0 184.5,405.3 186.9,404.9 189.2,404.7 191.5,404.5 193.9,405.0 196.2,405.6 198.5,403.9 200.8,402.6 203.2,402.3 205.5,402.3 207.8,401.6 210.2,400.9 212.5,400.2 214.8,399.8 217.1,399.3 219.5,399.0 221.8,399.5 224.1,399.9 226.5,400.6 228.8,402.1 231.1,403.5 233.4,404.4 235.8,404.7 238.1,405.4 240.4,405.3 242.8,405.7 245.1,407.3 247.4,408.8 249.7,410.5 252.1,411.8 254.4,410.0 256.7,409.2 259.1,408.7 261.4,408.2 263.7,407.7 266.1,407.5 268.4,407.3 270.7,407.3 273.0,407.7 275.4,408.2 277.7,408.8 280.0,409.4 282.4,410.0 284.7,410.9 287.0,411.5 289.3,412.2 291.7,412.8 294.0,412.3 296.3,411.9 298.7,411.8 301.0,411.3 303.3,410.6 305.6,409.8 308.0,408.6 310.3,408.6 312.6,409.0 315.0,409.4 317.3,409.6 319.6,409.8 322.0,410.2 324.3,410.8 326.6,411.4 328.9,411.9 331.3,412.3 333.6,412.7 335.9,413.9 338.3,415.3 340.6,415.6 342.9,415.2 345.2,414.3 347.6,412.9 349.9,412.0 352.2,411.4 354.6,411.6 356.9,412.0 359.2,411.6 361.5,410.6 363.9,409.7 366.2,408.5 368.5,407.4 370.9,406.3 373.2,405.2 375.5,404.2 377.8,403.0 380.2,402.5 382.5,402.0 384.8,401.5 387.2,401.0 389.5,400.5 391.8,400.0 394.2,399.9 396.5,400.1 398.8,400.3 401.1,399.9 403.5,399.5 405.8,399.2 408.1,399.3 410.5,399.5 412.8,399.8 415.1,399.5 417.4,399.2 419.8,398.9 422.1,398.2 424.4,397.5 426.8,396.9 429.1,396.6 431.4,396.2 433.7,396.0 436.1,396.0 438.4,395.9 440.7,395.9"/>
<path d="M93.7,401.2 96.0,404.3 98.4,408.3 100.7,412.6 103.0,416.5 105.3,420.1 107.7,423.2 110.0,425.6 112.3,426.2 114.7,425.5 117.0,424.7 119.3,423.8 121.6,423.7 124.0,423.8 126.3,424.2 128.6,419.2 131.0,406.7 133.3,403.2 135.6,402.0 138.0,401.9 140.3,401.5 142.6,400.9 144.9,400.3 147.3,401.3 149.6,402.6 151.9,403.8 154.3,404.5 156.6,404.4 158.9,405.8 161.2,410.0 163.6,413.4 165.9,414.4 168.2,412.1 170.6,407.4 172.9,405.8 175.2,406.7 177.5,408.1 179.9,409.5 182.2,410.8 184.5,412.0 186.9,413.0 189.2,413.8 191.5,414.3 193.9,414.4 196.2,414.4 198.5,414.4 200.8,414.3 203.2,414.4 205.5,414.6 207.8,412.9 210.2,411.9 212.5,410.8 214.8,409.9 217.1,409.2 219.5,408.4 221.8,408.1 224.1,408.0 226.5,408.0 228.8,408.7 231.1,409.5 233.4,410.1 235.8,410.1 238.1,410.3 240.4,410.4 242.8,410.7 245.1,412.1 247.4,413.7 249.7,415.6 252.1,417.2 254.4,416.7 256.7,415.6 259.1,415.4 261.4,415.4 263.7,416.0 266.1,415.8 268.4,415.6 270.7,415.5 273.0,415.6 275.4,415.8 277.7,415.8 280.0,415.6 282.4,415.5 284.7,415.4 287.0,415.0 289.3,414.7 291.7,414.5 294.0,413.4 296.3,412.5 298.7,412.2 301.0,411.7 303.3,411.4 305.6,411.0 308.0,410.5 310.3,409.9 312.6,409.3 315.0,409.4 317.3,409.6 319.6,409.8 322.0,410.2 324.3,410.8 326.6,411.4 328.9,411.9 331.3,412.3 333.6,412.7 335.9,413.9 338.3,414.5 340.6,414.6 342.9,414.0 345.2,413.3 347.6,412.4 349.9,412.1 352.2,412.4 354.6,413.6 356.9,415.1 359.2,417.3 361.5,420.3 363.9,423.2 366.2,424.6 368.5,425.1 370.9,424.5 373.2,423.3 375.5,420.1 377.8,416.1 380.2,413.0 382.5,411.8 384.8,411.4 387.2,411.1 389.5,411.0 391.8,411.5 394.2,412.9 396.5,414.5 398.8,415.3 401.1,415.2 403.5,414.9 405.8,413.9 408.1,412.9 410.5,412.5 412.8,412.9 415.1,413.3 417.4,412.4 419.8,410.7 422.1,407.8 424.4,405.4 426.8,403.8 429.1,402.9 431.4,402.5 433.7,402.3 436.1,402.3 438.4,402.4 440.7,402.5"/>
<path d="M93.7,410.2 96.0,413.6 98.4,417.3 100.7,421.1 103.0,424.8 105.3,428.2 107.7,431.3 110.0,433.9 112.3,436.1 114.7,437.1 117.0,437.4 119.3,437.0 121.6,435.4 124.0,433.7 126.3,431.2 128.6,426.8 131.0,420.0 133.3,416.2 135.6,413.2 138.0,410.8 140.3,408.4 142.6,406.2 144.9,404.3 147.3,403.5 149.6,403.2 151.9,403.5 154.3,404.1 156.6,404.5 158.9,405.5 161.2,407.3 163.6,408.7 165.9,408.9 168.2,407.3 170.6,405.0 172.9,403.7 175.2,404.2 177.5,405.2 179.9,406.4 182.2,407.7 184.5,409.0 186.9,410.5 189.2,411.9 191.5,412.6 193.9,412.7 196.2,412.8 198.5,411.1 200.8,410.2 203.2,410.2 205.5,410.6 207.8,410.0 210.2,409.8 212.5,409.6 214.8,409.5 217.1,409.4 219.5,409.3 221.8,409.4 224.1,409.6 226.5,409.9 228.8,410.7 231.1,411.5 233.4,412.0 235.8,412.0 238.1,412.1 240.4,412.2 242.8,412.4 245.1,413.5 247.4,414.9 249.7,416.8 252.1,418.4 254.4,418.3 256.7,417.1 259.1,416.8 261.4,416.6 263.7,417.5 266.1,418.0 268.4,418.4 270.7,419.2 273.0,420.2 275.4,421.2 277.7,422.1 280.0,422.9 282.4,423.8 284.7,425.1 287.0,426.3 289.3,427.7 291.7,428.7 294.0,428.7 296.3,428.1 298.7,427.8 301.0,427.1 303.3,426.9 305.6,426.8 308.0,426.7 310.3,424.1 312.6,422.0 315.0,422.8 317.3,424.2 319.6,425.6 322.0,426.9 324.3,429.1 326.6,431.5 328.9,433.3 331.3,434.8 333.6,436.1 335.9,435.8 338.3,434.7 340.6,431.0 342.9,423.1 345.2,416.3 347.6,414.0 349.9,412.8 352.2,412.1 354.6,412.5 356.9,413.2 359.2,413.4 361.5,413.2 363.9,413.4 366.2,413.7 368.5,414.0 370.9,414.4 373.2,414.9 375.5,415.2 377.8,415.1 380.2,414.9 382.5,414.2 384.8,413.7 387.2,412.7 389.5,411.3 391.8,409.8 394.2,408.6 396.5,407.7 398.8,406.9 401.1,406.1 403.5,405.5 405.8,405.2 408.1,405.5 410.5,405.9 412.8,406.5 415.1,406.8 417.4,407.1 419.8,407.5 422.1,407.4 424.4,407.3 426.8,407.2 429.1,407.6 431.4,408.0 433.7,408.4 436.1,408.6 438.4,408.7 440.7,408.7"/>
<path d="M93.7,421.0 96.0,425.8 98.4,431.4 100.7,436.0 103.0,439.7 105.3,442.8 107.7,444.5 110.0,446.0 112.3,446.4 114.7,446.7 117.0,447.4 119.3,448.2 121.6,448.5 124.0,448.0 126.3,445.8 128.6,439.2 131.0,428.9 133.3,425.2 135.6,422.7 138.0,421.1 140.3,418.4 142.6,414.9 144.9,410.8 147.3,409.4 149.6,408.6 151.9,408.9 154.3,409.7 156.6,410.9 158.9,412.1 161.2,413.3 163.6,414.3 165.9,415.2 168.2,415.5 170.6,415.9 172.9,416.0 175.2,416.5 177.5,417.6 179.9,418.6 182.2,419.5 184.5,420.3 186.9,420.9 189.2,421.2 191.5,421.2 193.9,420.6 196.2,420.0 198.5,419.3 200.8,418.8 203.2,418.5 205.5,418.4 207.8,416.6 210.2,415.8 212.5,415.0 214.8,414.5 217.1,414.1 219.5,413.6 221.8,413.3 224.1,413.1 226.5,413.0 228.8,413.3 231.1,413.7 233.4,413.9 235.8,413.8 238.1,414.0 240.4,414.4 242.8,414.5 245.1,415.4 247.4,416.6 249.7,418.3 252.1,419.6 254.4,419.7 256.7,418.2 259.1,418.0 261.4,418.1 263.7,419.1 266.1,419.1 268.4,419.2 270.7,419.4 273.0,419.9 275.4,420.4 277.7,420.8 280.0,421.1 282.4,421.4 284.7,421.6 287.0,421.7 289.3,422.0 291.7,422.9 294.0,423.7 296.3,425.0 298.7,426.7 301.0,428.4 303.3,430.3 305.6,431.0 308.0,431.2 310.3,430.6 312.6,429.2 315.0,428.2 317.3,427.1 319.6,425.9 322.0,424.9 324.3,424.5 326.6,424.1 328.9,424.1 331.3,424.2 333.6,424.2 335.9,422.9 338.3,420.9 340.6,418.5 342.9,416.8 345.2,415.1 347.6,413.3 349.9,412.6 352.2,412.5 354.6,413.5 356.9,414.9 359.2,417.5 361.5,421.4 363.9,425.0 366.2,427.2 368.5,428.2 370.9,428.3 373.2,427.6 375.5,424.8 377.8,421.5 380.2,418.5 382.5,417.1 384.8,416.4 387.2,415.4 389.5,414.2 391.8,413.6 394.2,413.9 396.5,414.8 398.8,415.2 401.1,414.9 403.5,415.1 405.8,415.2 408.1,415.7 410.5,417.2 412.8,419.5 415.1,422.1 417.4,422.9 419.8,422.6 422.1,420.9 424.4,419.5 426.8,418.5 429.1,418.3 431.4,418.6 433.7,419.0 436.1,419.6 438.4,419.9 440.7,420.2"/>
<path d="M93.7,416.3 96.0,421.3 98.4,427.6 100.7,433.5 103.0,438.8 105.3,443.7 107.7,447.2 110.0,449.8 112.3,450.7 114.7,450.6 117.0,450.7 119.3,451.2 121.6,452.6 124.0,453.8 126.3,453.7 128.6,443.8 131.0,424.6 133.3,421.7 135.6,422.2 138.0,424.0 140.3,423.7 142.6,422.0 144.9,419.2 147.3,418.8 149.6,417.9 151.9,417.6 154.3,417.1 156.6,415.9 158.9,415.2 161.2,415.8 163.6,416.0 165.9,415.1 168.2,412.4 170.6,408.8 172.9,406.9 175.2,406.6 177.5,407.0 179.9,407.8 182.2,408.7 184.5,410.0 186.9,411.5 189.2,413.1 191.5,414.6 193.9,415.8 196.2,417.0 198.5,417.9 200.8,418.6 203.2,419.1 205.5,419.5 207.8,417.9 210.2,417.3 212.5,416.6 214.8,416.3 217.1,416.2 219.5,416.2 221.8,416.5 224.1,417.0 226.5,417.5 228.8,418.3 231.1,418.8 233.4,419.0 235.8,418.9 238.1,418.8 240.4,419.2 242.8,418.8 245.1,418.5 247.4,418.4 249.7,418.6 252.1,418.9 254.4,417.8 256.7,415.6 259.1,414.6 261.4,414.0 263.7,414.2 266.1,414.5 268.4,415.1 270.7,416.1 273.0,417.7 275.4,419.3 277.7,420.9 280.0,422.3 282.4,423.6 284.7,424.7 287.0,425.6 289.3,426.4 291.7,427.6 294.0,428.7 296.3,429.6 298.7,430.6 301.0,431.3 303.3,432.1 305.6,432.1 308.0,431.9 310.3,431.1 312.6,430.2 315.0,430.4 317.3,431.1 319.6,431.9 322.0,433.1 324.3,435.0 326.6,436.6 328.9,438.4 331.3,440.4 333.6,441.9 335.9,440.3 338.3,436.5 340.6,431.0 342.9,428.5 345.2,426.1 347.6,422.8 349.9,421.7 352.2,421.6 354.6,422.0 356.9,423.3 359.2,423.7 361.5,423.8 363.9,424.0 366.2,424.1 368.5,423.5 370.9,422.8 373.2,422.2 375.5,421.4 377.8,420.6 380.2,419.9 382.5,419.1 384.8,419.0 387.2,418.7 389.5,418.4 391.8,418.1 394.2,417.9 396.5,418.0 398.8,418.2 401.1,418.5 403.5,418.9 405.8,419.6 408.1,420.3 410.5,421.1 412.8,421.2 415.1,421.1 417.4,421.0 419.8,420.9 422.1,420.0 424.4,419.1 426.8,418.2 429.1,418.0 431.4,417.9 433.7,417.8 436.1,417.8 438.4,417.7 440.7,416.9"/>
<path d="M93.7,408.5 96.0,408.9 98.4,409.7 100.7,411.1 103.0,412.8 105.3,414.9 107.7,417.6 110.0,420.8 112.3,423.9 114.7,426.6 117.0,429.2 119.3,431.4 121.6,432.3 124.0,432.0 126.3,430.5 128.6,428.7 131.0,427.6 133.3,426.6 135.6,425.6 138.0,424.8 140.3,424.0 142.6,423.2 144.9,421.5 147.3,419.7 149.6,417.6 151.9,416.4 154.3,415.3 156.6,414.2 158.9,413.0 161.2,412.1 163.6,411.4 165.9,410.8 168.2,409.8 170.6,409.3 172.9,409.2 175.2,409.8 177.5,411.0 179.9,412.2 182.2,413.5 184.5,414.9 186.9,416.2 189.2,417.4 191.5,418.5 193.9,419.3 196.2,419.9 198.5,420.5 200.8,420.8 203.2,421.2 205.5,421.4 207.8,419.8 210.2,419.2 212.5,418.6 214.8,418.4 217.1,418.5 219.5,418.9 221.8,419.5 224.1,420.4 226.5,421.5 228.8,422.6 231.1,423.3 233.4,423.3 235.8,423.3 238.1,423.3 240.4,424.3 242.8,423.8 245.1,423.1 247.4,422.4 249.7,422.2 252.1,422.4 254.4,422.2 256.7,420.6 259.1,421.1 261.4,422.6 263.7,426.9 266.1,430.6 268.4,432.7 270.7,434.2 273.0,435.7 275.4,436.9 277.7,438.0 280.0,438.9 282.4,439.7 284.7,440.7 287.0,442.6 289.3,445.2 291.7,448.6 294.0,452.3 296.3,454.9 298.7,456.8 301.0,457.8 303.3,458.7 305.6,458.1 308.0,456.1 310.3,448.2 312.6,441.0 315.0,439.8 317.3,439.8 319.6,439.9 322.0,440.2 324.3,442.0 326.6,444.7 328.9,446.8 331.3,449.0 333.6,451.3 335.9,450.7 338.3,448.8 340.6,443.1 342.9,434.6 345.2,427.2 347.6,423.8 349.9,422.7 352.2,422.6 354.6,422.9 356.9,424.0 359.2,427.3 361.5,433.2 363.9,437.8 366.2,439.4 368.5,439.1 370.9,437.3 373.2,435.0 375.5,430.0 377.8,424.9 380.2,420.8 382.5,420.3 384.8,421.5 387.2,422.8 389.5,423.6 391.8,425.3 394.2,428.3 396.5,431.4 398.8,432.6 401.1,432.4 403.5,432.0 405.8,430.8 408.1,429.3 410.5,429.4 412.8,431.0 415.1,433.6 417.4,433.1 419.8,430.9 422.1,427.0 424.4,423.8 426.8,421.9 429.1,421.1 431.4,421.8 433.7,423.1 436.1,425.3 438.4,427.1 440.7,428.6"/>
<path d="M93.7,400.6 96.0,401.8 98.4,403.7 100.7,406.1 103.0,408.6 105.3,411.3 107.7,414.4 110.0,417.7 112.3,420.4 114.7,422.2 117.0,423.7 119.3,424.7 121.6,424.7 124.0,424.6 126.3,424.0 128.6,422.6 131.0,420.3 133.3,419.0 135.6,418.0 138.0,417.2 140.3,416.6 142.6,415.9 144.9,414.7 147.3,414.1 149.6,413.7 151.9,413.6 154.3,413.2 156.6,411.9 158.9,412.7 161.2,417.4 163.6,421.3 165.9,422.1 168.2,418.4 170.6,411.3 172.9,407.8 175.2,407.4 177.5,407.3 179.9,407.2 182.2,407.1 184.5,407.2 186.9,407.4 189.2,407.8 191.5,408.1 193.9,408.3 196.2,408.9 198.5,409.0 200.8,409.4 203.2,410.3 205.5,411.3 207.8,410.7 210.2,410.4 212.5,409.9 214.8,409.5 217.1,409.1 219.5,408.6 221.8,408.4 224.1,408.2 226.5,408.3 228.8,408.9 231.1,409.6 233.4,410.0 235.8,410.0 238.1,410.0 240.4,409.9 242.8,410.2 245.1,411.7 247.4,413.1 249.7,414.8 252.1,416.3 254.4,415.4 256.7,414.8 259.1,415.0 261.4,415.5 263.7,416.9 266.1,417.5 268.4,418.2 270.7,418.9 273.0,419.7 275.4,420.4 277.7,420.9 280.0,421.2 282.4,421.3 284.7,421.1 287.0,420.6 289.3,419.9 291.7,419.5 294.0,418.2 296.3,417.0 298.7,416.0 301.0,415.1 303.3,414.6 305.6,414.4 308.0,414.6 310.3,415.2 312.6,416.0 315.0,417.3 317.3,418.7 319.6,420.1 322.0,421.8 324.3,423.8 326.6,425.6 328.9,427.5 331.3,429.4 333.6,431.0 335.9,430.2 338.3,428.0 340.6,424.8 342.9,423.5 345.2,422.3 347.6,419.9 349.9,419.4 352.2,419.7 354.6,420.6 356.9,422.2 359.2,423.2 361.5,424.0 363.9,424.9 366.2,425.6 368.5,425.6 370.9,425.3 373.2,424.9 375.5,424.2 377.8,423.1 380.2,421.9 382.5,420.7 384.8,420.0 387.2,419.2 389.5,418.2 391.8,417.2 394.2,416.3 396.5,415.5 398.8,414.7 401.1,413.6 403.5,412.5 405.8,411.4 408.1,410.6 410.5,409.9 412.8,409.4 415.1,408.7 417.4,408.0 419.8,407.3 422.1,406.2 424.4,405.3 426.8,404.6 429.1,404.4 431.4,404.4 433.7,404.5 436.1,404.8 438.4,405.2 440.7,405.5"/>
<path d="M93.7,390.6 96.0,391.2 98.4,392.4 100.7,393.9 103.0,395.0 105.3,396.0 107.7,397.4 110.0,398.9 112.3,399.1 114.7,398.3 117.0,397.8 119.3,397.5 121.6,399.0 124.0,401.1 126.3,404.1 128.6,404.7 131.0,400.2 133.3,398.4 135.6,397.6 138.0,396.9 140.3,396.8 142.6,397.3 144.9,397.7 147.3,398.3 149.6,399.2 151.9,399.7 154.3,399.5 156.6,398.5 158.9,399.3 161.2,403.3 163.6,406.4 165.9,406.9 168.2,404.0 170.6,399.4 172.9,398.2 175.2,399.2 177.5,400.4 179.9,401.6 182.2,402.7 184.5,403.7 186.9,404.7 189.2,405.4 191.5,406.0 193.9,406.2 196.2,406.6 198.5,406.8 200.8,406.7 203.2,406.9 205.5,407.0 207.8,405.2 210.2,403.6 212.5,402.1 214.8,400.9 217.1,400.0 219.5,399.7 221.8,400.4 224.1,401.6 226.5,403.3 228.8,405.8 231.1,408.3 233.4,410.2 235.8,411.2 238.1,412.1 240.4,412.8 242.8,413.6 245.1,415.0 247.4,415.7 249.7,416.0 252.1,416.1 254.4,413.4 256.7,411.6 259.1,410.5 261.4,409.6 263.7,410.1 266.1,411.7 268.4,413.2 270.7,414.9 273.0,416.9 275.4,418.6 277.7,420.1 280.0,421.1 282.4,422.3 284.7,424.1 287.0,426.6 289.3,430.2 291.7,433.9 294.0,436.4 296.3,437.9 298.7,439.4 301.0,439.7 303.3,439.6 305.6,439.1 308.0,437.2 310.3,428.2 312.6,420.3 315.0,419.4 317.3,419.3 319.6,419.1 322.0,418.9 324.3,420.0 326.6,423.3 328.9,426.2 331.3,429.3 333.6,433.2 335.9,436.2 338.3,438.3 340.6,436.3 342.9,427.4 345.2,419.8 347.6,417.9 349.9,417.4 352.2,417.3 354.6,417.9 356.9,419.0 359.2,419.1 361.5,418.6 363.9,417.9 366.2,416.6 368.5,414.5 370.9,412.0 373.2,409.3 375.5,406.4 377.8,403.5 380.2,401.9 382.5,401.7 384.8,401.5 387.2,401.0 389.5,400.5 391.8,400.0 394.2,399.9 396.5,400.1 398.8,400.3 401.1,400.3 403.5,400.7 405.8,401.0 408.1,401.7 410.5,402.3 412.8,402.9 415.1,403.0 417.4,403.0 419.8,403.1 422.1,402.8 424.4,402.6 426.8,402.6 429.1,402.9 431.4,403.3 433.7,403.7 436.1,403.9 438.4,404.0 440.7,403.9"/>
<path d="M93.7,403.4 96.0,403.6 98.4,404.2 100.7,405.2 103.0,406.2 105.3,407.5 107.7,409.3 110.0,411.6 112.3,413.4 114.7,414.4 117.0,415.5 119.3,416.4 121.6,416.8 124.0,417.2 126.3,417.4 128.6,416.2 131.0,412.5 133.3,410.4 135.6,408.9 138.0,407.7 140.3,406.8 142.6,406.0 144.9,405.0 147.3,404.3 149.6,403.6 151.9,403.3 154.3,403.1 156.6,403.1 158.9,403.6 161.2,405.2 163.6,407.1 165.9,408.7 168.2,409.4 170.6,409.8 172.9,410.6 175.2,411.8 177.5,412.9 179.9,413.6 182.2,413.8 184.5,413.7 186.9,413.3 189.2,412.5 191.5,411.6 193.9,410.7 196.2,410.2 198.5,410.1 200.8,410.4 203.2,411.3 205.5,412.5 207.8,412.0 210.2,412.1 212.5,412.1 214.8,412.3 217.1,412.5 219.5,412.6 221.8,412.8 224.1,413.1 226.5,413.4 228.8,414.2 231.1,415.0 233.4,415.6 235.8,415.9 238.1,416.3 240.4,417.2 242.8,417.7 245.1,418.6 247.4,419.5 249.7,420.4 252.1,421.1 254.4,420.5 256.7,418.6 259.1,418.0 261.4,417.8 263.7,418.7 266.1,418.7 268.4,419.0 270.7,419.7 273.0,420.8 275.4,422.1 277.7,423.4 280.0,424.8 282.4,426.1 284.7,427.2 287.0,428.0 289.3,428.7 291.7,429.9 294.0,431.1 296.3,432.0 298.7,433.0 301.0,433.6 303.3,433.8 305.6,432.8 308.0,431.5 310.3,430.0 312.6,428.4 315.0,427.4 317.3,426.8 319.6,426.2 322.0,426.0 324.3,426.1 326.6,426.2 328.9,426.5 331.3,427.0 333.6,427.5 335.9,426.7 338.3,425.1 340.6,422.9 342.9,422.4 345.2,422.0 347.6,420.5 349.9,420.7 352.2,421.7 354.6,423.1 356.9,425.1 359.2,428.7 361.5,434.6 363.9,440.1 366.2,443.1 368.5,443.7 370.9,442.4 373.2,439.9 375.5,433.4 377.8,425.9 380.2,419.1 382.5,416.6 384.8,415.9 387.2,415.2 389.5,415.0 391.8,416.2 394.2,419.3 396.5,422.4 398.8,423.0 401.1,421.7 403.5,420.6 405.8,419.0 408.1,417.9 410.5,419.2 412.8,422.8 415.1,427.6 417.4,428.7 419.8,427.5 422.1,423.9 424.4,420.8 426.8,419.1 429.1,418.2 431.4,419.1 433.7,420.6 436.1,423.1 438.4,424.9 440.7,426.5"/>
<path d="M93.7,411.4 96.0,414.0 98.4,416.4 100.7,418.4 103.0,419.9 105.3,420.7 107.7,421.0 110.0,420.8 112.3,419.7 114.7,417.4 117.0,414.9 119.3,412.4 121.6,410.6 124.0,409.8 126.3,410.1 128.6,409.2 131.0,404.5 133.3,402.5 135.6,401.6 138.0,401.1 140.3,401.2 142.6,401.5 144.9,401.9 147.3,402.6 149.6,403.4 151.9,404.3 154.3,404.8 156.6,404.9 158.9,406.0 161.2,409.4 163.6,412.4 165.9,413.5 168.2,411.7 170.6,407.7 172.9,406.2 175.2,406.7 177.5,407.5 179.9,408.2 182.2,408.9 184.5,409.5 186.9,410.2 189.2,410.6 191.5,410.9 193.9,410.9 196.2,411.0 198.5,410.7 200.8,410.4 203.2,410.4 205.5,410.7 207.8,409.3 210.2,408.5 212.5,407.8 214.8,407.6 217.1,407.6 219.5,407.8 221.8,408.5 224.1,409.3 226.5,410.2 228.8,411.5 231.1,412.8 233.4,413.8 235.8,414.4 238.1,415.2 240.4,416.5 242.8,417.6 245.1,419.2 247.4,420.9 249.7,422.7 252.1,424.0 254.4,424.4 256.7,422.4 259.1,421.9 261.4,421.7 263.7,423.1 266.1,423.8 268.4,424.2 270.7,424.9 273.0,426.1 275.4,427.5 277.7,428.9 280.0,430.0 282.4,431.4 284.7,433.7 287.0,437.3 289.3,442.0 291.7,446.9 294.0,451.3 296.3,454.9 298.7,458.8 301.0,461.4 303.3,464.0 305.6,465.4 308.0,463.9 310.3,451.3 312.6,439.6 315.0,438.1 317.3,438.0 319.6,437.6 322.0,437.1 324.3,438.6 326.6,441.8 328.9,443.8 331.3,446.0 333.6,449.3 335.9,451.1 338.3,452.3 340.6,448.2 342.9,435.4 345.2,424.6 347.6,421.9 349.9,421.0 352.2,420.8 354.6,420.9 356.9,421.6 359.2,421.7 361.5,421.7 363.9,421.7 366.2,421.3 368.5,420.2 370.9,418.9 373.2,417.5 375.5,415.7 377.8,413.8 380.2,412.4 382.5,411.6 384.8,411.4 387.2,411.1 389.5,411.0 391.8,411.0 394.2,411.5 396.5,412.1 398.8,412.5 401.1,412.5 403.5,412.4 405.8,412.1 408.1,411.9 410.5,411.7 412.8,411.6 415.1,411.3 417.4,410.4 419.8,409.3 422.1,407.4 424.4,405.7 426.8,404.2 429.1,403.3 431.4,402.8 433.7,402.5 436.1,402.5 438.4,402.6 440.7,402.9"/>
<path d="M93.7,410.9 96.0,412.5 98.4,414.3 100.7,416.5 103.0,418.7 105.3,420.8 107.7,423.0 110.0,425.1 112.3,427.0 114.7,427.9 117.0,428.5 119.3,428.7 121.6,428.0 124.0,427.3 126.3,426.1 128.6,424.3 131.0,422.1 133.3,420.6 135.6,419.6 138.0,418.9 140.3,418.7 142.6,418.7 144.9,418.4 147.3,418.7 149.6,418.8 151.9,419.7 154.3,420.5 156.6,420.7 158.9,420.5 161.2,420.6 163.6,420.1 165.9,418.7 168.2,416.2 170.6,413.2 172.9,411.1 175.2,411.6 177.5,413.1 179.9,415.2 182.2,417.7 184.5,420.3 186.9,423.5 189.2,426.5 191.5,428.2 193.9,428.5 196.2,427.9 198.5,424.6 200.8,422.3 203.2,420.9 205.5,419.8 207.8,418.1 210.2,417.3 212.5,416.3 214.8,415.5 217.1,414.7 219.5,413.9 221.8,413.2 224.1,412.5 226.5,411.9 228.8,411.8 231.1,411.8 233.4,411.7 235.8,411.4 238.1,411.3 240.4,411.2 242.8,411.3 245.1,412.7 247.4,414.9 249.7,417.7 252.1,420.3 254.4,421.9 256.7,421.7 259.1,423.0 261.4,425.0 263.7,430.1 266.1,433.2 268.4,435.0 270.7,436.5 273.0,438.1 275.4,439.7 277.7,441.7 280.0,443.8 282.4,446.3 284.7,449.9 287.0,455.2 289.3,462.3 291.7,470.0 294.0,477.7 296.3,483.2 298.7,487.7 301.0,490.1 303.3,492.4 305.6,492.8 308.0,489.9 310.3,471.2 312.6,453.5 315.0,450.3 317.3,449.5 319.6,448.6 322.0,447.8 324.3,449.9 326.6,454.2 328.9,457.0 331.3,459.8 333.6,463.8 335.9,465.5 338.3,466.4 340.6,460.3 342.9,442.5 345.2,427.8 347.6,424.5 349.9,423.3 352.2,422.9 354.6,422.8 356.9,423.5 359.2,423.3 361.5,422.8 363.9,422.2 366.2,421.6 368.5,420.5 370.9,419.3 373.2,418.3 375.5,417.3 377.8,416.3 380.2,415.7 382.5,415.2 384.8,415.1 387.2,415.0 389.5,414.8 391.8,414.6 394.2,414.7 396.5,414.8 398.8,415.0 401.1,415.0 403.5,414.9 405.8,414.9 408.1,414.9 410.5,414.8 412.8,414.7 415.1,414.4 417.4,414.0 419.8,413.5 422.1,412.4 424.4,411.4 426.8,410.4 429.1,410.1 431.4,410.0 433.7,410.0 436.1,410.1 438.4,410.2 440.7,410.5"/>
<path d="M93.7,387.8 96.0,388.7 98.4,390.2 100.7,391.9 103.0,393.2 105.3,394.2 107.7,395.6 110.0,397.2 112.3,397.6 114.7,397.0 117.0,397.1 119.3,397.4 121.6,399.0 124.0,401.1 126.3,404.1 128.6,404.7 131.0,400.2 133.3,398.4 135.6,397.6 138.0,396.9 140.3,396.5 142.6,396.2 144.9,395.8 147.3,396.0 149.6,396.8 151.9,397.1 154.3,396.8 156.6,395.4 158.9,396.7 161.2,402.9 163.6,408.0 165.9,409.2 168.2,404.7 170.6,396.4 172.9,393.3 175.2,393.8 177.5,394.5 179.9,395.1 182.2,395.7 184.5,396.2 186.9,396.8 189.2,397.0 191.5,397.3 193.9,397.9 196.2,399.5 198.5,401.0 200.8,402.4 203.2,404.2 205.5,405.9 207.8,405.4 210.2,405.0 212.5,404.5 214.8,404.1 217.1,403.7 219.5,403.4 221.8,403.8 224.1,404.3 226.5,405.1 228.8,406.6 231.1,408.2 233.4,409.3 235.8,409.8 238.1,410.1 240.4,410.0 242.8,409.5 245.1,409.8 247.4,410.5 249.7,411.9 252.1,413.2 254.4,412.5 256.7,411.5 259.1,411.1 261.4,411.2 263.7,412.0 266.1,413.1 268.4,414.4 270.7,415.8 273.0,417.4 275.4,418.8 277.7,419.9 280.0,420.6 282.4,421.0 284.7,421.2 287.0,421.2 289.3,421.3 291.7,421.4 294.0,420.7 296.3,419.9 298.7,419.4 301.0,418.7 303.3,418.1 305.6,417.5 308.0,416.7 310.3,415.0 312.6,413.7 315.0,413.3 317.3,412.8 319.6,412.3 322.0,412.1 324.3,412.1 326.6,412.4 328.9,412.9 331.3,413.4 333.6,414.0 335.9,414.2 338.3,414.2 340.6,413.9 342.9,411.8 345.2,409.6 347.6,408.7 349.9,408.1 352.2,407.8 354.6,408.7 356.9,409.5 359.2,412.4 361.5,417.6 363.9,422.2 366.2,424.0 368.5,424.7 370.9,423.8 373.2,421.8 375.5,415.9 377.8,409.0 380.2,403.3 382.5,402.7 384.8,404.0 387.2,405.1 389.5,406.5 391.8,409.1 394.2,413.2 396.5,416.9 398.8,417.8 401.1,416.1 403.5,414.2 405.8,411.2 408.1,408.4 410.5,408.1 412.8,409.6 415.1,411.5 417.4,410.5 419.8,408.1 422.1,404.6 424.4,401.9 426.8,400.5 429.1,399.7 431.4,400.2 433.7,401.4 436.1,403.7 438.4,406.1 440.7,408.3"/>
<path d="M93.7,399.2 96.0,402.5 98.4,406.4 100.7,410.0 103.0,412.6 105.3,414.4 107.7,415.2 110.0,415.5 112.3,413.8 114.7,411.0 117.0,409.6 119.3,409.4 121.6,410.6 124.0,412.2 126.3,414.4 128.6,411.6 131.0,401.7 133.3,399.1 135.6,398.4 138.0,398.0 140.3,397.5 142.6,396.8 144.9,395.8 147.3,395.6 149.6,395.6 151.9,395.5 154.3,395.3 156.6,395.8 158.9,397.1 161.2,399.4 163.6,401.1 165.9,401.6 168.2,400.1 170.6,397.9 172.9,397.1 175.2,398.5 177.5,400.3 179.9,402.4 182.2,404.4 184.5,406.5 186.9,409.0 189.2,411.6 191.5,413.1 193.9,413.3 196.2,412.9 198.5,409.1 200.8,406.1 203.2,404.5 205.5,403.5 207.8,402.5 210.2,401.6 212.5,400.8 214.8,400.3 217.1,399.9 219.5,399.8 221.8,400.3 224.1,400.7 226.5,401.3 228.8,402.4 231.1,403.5 233.4,404.4 235.8,404.4 238.1,404.4 240.4,403.3 242.8,402.1 245.1,402.4 247.4,403.4 249.7,405.7 252.1,407.8 254.4,407.1 256.7,407.0 259.1,407.9 261.4,409.2 263.7,412.3 266.1,416.7 268.4,420.8 270.7,425.0 273.0,429.0 275.4,432.0 277.7,434.2 280.0,435.4 282.4,436.3 284.7,437.6 287.0,439.5 289.3,442.3 291.7,445.2 294.0,447.1 296.3,447.6 298.7,448.1 301.0,447.2 303.3,446.2 305.6,446.1 308.0,444.1 310.3,432.8 312.6,423.0 315.0,421.8 317.3,421.6 319.6,421.0 322.0,419.8 324.3,420.6 326.6,422.6 328.9,423.6 331.3,424.5 333.6,426.0 335.9,426.9 338.3,427.6 340.6,426.2 342.9,419.1 345.2,412.6 347.6,411.0 349.9,409.9 352.2,409.1 354.6,409.4 356.9,409.7 359.2,411.9 361.5,415.9 363.9,419.2 366.2,420.0 368.5,419.7 370.9,418.3 373.2,416.2 375.5,412.3 377.8,407.8 380.2,404.6 382.5,404.1 384.8,404.4 387.2,404.3 389.5,404.4 391.8,405.2 394.2,407.4 396.5,409.5 398.8,410.1 401.1,409.1 403.5,408.1 405.8,406.6 408.1,405.8 410.5,406.6 412.8,408.8 415.1,411.7 417.4,411.7 419.8,409.7 422.1,406.1 424.4,403.7 426.8,402.9 429.1,402.8 431.4,404.0 433.7,405.5 436.1,407.4 438.4,408.8 440.7,409.9"/>
<path d="M93.7,403.3 96.0,408.1 98.4,413.8 100.7,419.2 103.0,423.7 105.3,427.5 107.7,430.0 110.0,431.5 112.3,430.8 114.7,428.4 117.0,425.6 119.3,422.8 121.6,421.2 124.0,420.4 126.3,422.1 128.6,417.6 131.0,403.3 133.3,400.0 135.6,399.4 138.0,399.6 140.3,398.9 142.6,397.5 144.9,395.8 147.3,395.8 149.6,396.1 151.9,396.2 154.3,395.8 156.6,395.0 158.9,395.5 161.2,398.4 163.6,401.0 165.9,401.8 168.2,399.5 170.6,395.0 172.9,393.3 175.2,394.0 177.5,395.9 179.9,398.0 182.2,400.0 184.5,401.6 186.9,403.1 189.2,403.8 191.5,403.9 193.9,403.2 196.2,402.5 198.5,401.1 200.8,400.3 203.2,401.3 205.5,402.3 207.8,401.6 210.2,400.9 212.5,400.2 214.8,399.8 217.1,399.3 219.5,399.0 221.8,399.5 224.1,399.9 226.5,400.6 228.8,402.8 231.1,404.8 233.4,406.0 235.8,406.0 238.1,405.8 240.4,404.8 242.8,404.5 245.1,405.6 247.4,407.0 249.7,408.7 252.1,409.9 254.4,407.1 256.7,406.5 259.1,405.8 261.4,405.2 263.7,405.2 266.1,406.5 268.4,407.6 270.7,409.0 273.0,410.5 275.4,411.8 277.7,412.7 280.0,413.3 282.4,413.9 284.7,414.8 287.0,415.9 289.3,417.4 291.7,419.1 294.0,419.9 296.3,420.8 298.7,423.4 301.0,425.7 303.3,428.2 305.6,430.3 308.0,431.2 310.3,427.9 312.6,424.5 315.0,424.6 317.3,425.0 319.6,425.2 322.0,425.4 324.3,426.4 326.6,427.9 328.9,428.7 331.3,429.2 333.6,429.7 335.9,428.9 338.3,427.9 340.6,425.1 342.9,418.0 345.2,411.9 347.6,410.1 349.9,409.0 352.2,408.4 354.6,409.1 356.9,410.0 359.2,410.3 361.5,410.1 363.9,410.0 366.2,409.6 368.5,409.0 370.9,408.2 373.2,407.3 375.5,406.3 377.8,405.2 380.2,404.8 382.5,404.5 384.8,404.4 387.2,404.1 389.5,403.8 391.8,403.5 394.2,403.7 396.5,404.0 398.8,404.2 401.1,404.0 403.5,403.7 405.8,403.5 408.1,403.7 410.5,404.0 412.8,404.3 415.1,404.3 417.4,404.1 419.8,403.8 422.1,402.8 424.4,401.8 426.8,400.6 429.1,399.8 431.4,398.9 433.7,398.1 436.1,397.4 438.4,396.9 440.7,396.5"/>
<path d="M93.7,426.9 96.0,431.2 98.4,436.1 100.7,440.6 103.0,444.8 105.3,448.8 107.7,451.9 110.0,454.6 112.3,456.6 114.7,458.0 117.0,459.1 119.3,460.3 121.6,461.2 124.0,461.8 126.3,460.6 128.6,450.0 131.0,428.9 133.3,422.2 135.6,419.2 138.0,418.6 140.3,416.6 142.6,413.9 144.9,411.0 147.3,411.7 149.6,412.8 151.9,414.7 154.3,416.9 156.6,419.0 158.9,421.1 161.2,422.2 163.6,423.2 165.9,423.4 168.2,422.4 170.6,420.6 172.9,419.4 175.2,419.8 177.5,420.9 179.9,422.0 182.2,422.8 184.5,422.8 186.9,422.7 189.2,422.8 191.5,422.6 193.9,422.2 196.2,422.1 198.5,421.8 200.8,422.0 203.2,422.6 205.5,422.8 207.8,421.4 210.2,421.1 212.5,420.8 214.8,420.9 217.1,420.9 219.5,420.4 221.8,420.1 224.1,420.1 226.5,420.6 228.8,421.6 231.1,422.6 233.4,423.3 235.8,423.3 238.1,423.3 240.4,424.6 242.8,425.0 245.1,425.5 247.4,426.0 249.7,426.5 252.1,426.9 254.4,427.2 256.7,425.2 259.1,425.2 261.4,426.0 263.7,429.9 266.1,433.0 268.4,435.5 270.7,438.1 273.0,440.8 275.4,443.4 277.7,445.9 280.0,447.6 282.4,448.4 284.7,450.2 287.0,453.8 289.3,459.2 291.7,465.2 294.0,471.1 296.3,475.4 298.7,479.1 301.0,480.7 303.3,481.7 305.6,480.7 308.0,476.5 310.3,460.4 312.6,446.6 315.0,444.7 317.3,444.9 319.6,445.2 322.0,444.6 324.3,446.0 326.6,448.6 328.9,450.3 331.3,452.3 333.6,454.6 335.9,454.3 338.3,453.2 340.6,447.8 342.9,437.2 345.2,427.8 347.6,424.0 349.9,422.6 352.2,422.2 354.6,422.4 356.9,423.5 359.2,427.2 361.5,434.6 363.9,441.9 366.2,446.5 368.5,448.9 370.9,449.3 373.2,447.4 375.5,440.2 377.8,432.0 380.2,424.7 382.5,422.8 384.8,423.1 387.2,423.5 389.5,424.5 391.8,427.1 394.2,431.6 396.5,436.0 398.8,437.4 401.1,436.6 403.5,435.7 405.8,433.9 408.1,431.9 410.5,432.1 412.8,434.5 415.1,438.3 417.4,438.2 419.8,435.6 422.1,430.5 424.4,426.3 426.8,423.9 429.1,422.8 431.4,423.3 433.7,424.5 436.1,427.0 438.4,429.2 440.7,431.2"/>
<path d="M93.7,408.4 96.0,412.1 98.4,417.0 100.7,421.7 103.0,426.1 105.3,430.2 107.7,433.4 110.0,436.2 112.3,437.3 114.7,437.4 117.0,437.4 119.3,437.4 121.6,437.9 124.0,438.3 126.3,438.1 128.6,430.9 131.0,415.9 133.3,412.5 135.6,411.9 138.0,412.5 140.3,412.1 142.6,411.1 144.9,409.7 147.3,410.0 149.6,410.2 151.9,411.1 154.3,412.0 156.6,412.8 158.9,413.1 161.2,413.2 163.6,413.0 165.9,412.3 168.2,411.0 170.6,409.8 172.9,408.5 175.2,407.7 177.5,407.5 179.9,407.6 182.2,407.9 184.5,408.6 186.9,409.4 189.2,410.3 191.5,411.2 193.9,411.8 196.2,412.5 198.5,413.0 200.8,413.3 203.2,413.8 205.5,414.3 207.8,413.0 210.2,412.4 212.5,411.8 214.8,411.7 217.1,411.8 219.5,412.0 221.8,412.6 224.1,413.2 226.5,414.0 228.8,415.1 231.1,416.0 233.4,416.6 235.8,416.8 238.1,417.1 240.4,417.9 242.8,418.2 245.1,418.8 247.4,419.7 249.7,420.7 252.1,421.6 254.4,421.7 256.7,419.9 259.1,419.7 261.4,420.0 263.7,421.3 266.1,421.4 268.4,421.6 270.7,422.0 273.0,422.4 275.4,422.8 277.7,423.1 280.0,423.3 282.4,423.4 284.7,423.3 287.0,423.0 289.3,422.7 291.7,422.9 294.0,422.8 296.3,422.8 298.7,423.0 301.0,423.3 303.3,423.7 305.6,423.7 308.0,423.7 310.3,423.6 312.6,423.4 315.0,423.7 317.3,424.3 319.6,424.9 322.0,426.0 324.3,427.6 326.6,429.2 328.9,431.1 331.3,433.0 333.6,434.4 335.9,433.1 338.3,430.1 340.6,425.9 342.9,423.9 345.2,421.9 347.6,419.1 349.9,418.0 352.2,417.8 354.6,418.4 356.9,419.8 359.2,423.7 361.5,430.8 363.9,437.2 366.2,440.3 368.5,441.0 370.9,439.5 373.2,436.4 375.5,428.5 377.8,419.3 380.2,411.3 382.5,408.4 384.8,407.1 387.2,405.9 389.5,405.3 391.8,406.2 394.2,409.0 396.5,412.0 398.8,413.1 401.1,412.4 403.5,412.0 405.8,410.8 408.1,409.9 410.5,410.6 412.8,413.0 415.1,416.1 417.4,416.1 419.8,414.2 422.1,410.8 424.4,408.2 426.8,407.2 429.1,407.2 431.4,408.8 433.7,411.1 436.1,414.3 438.4,417.2 440.7,419.9"/>
<path d="M93.7,399.6 96.0,399.7 98.4,399.9 100.7,399.9 103.0,399.5 105.3,398.7 107.7,398.3 110.0,398.4 112.3,397.6 114.7,397.0 117.0,397.1 119.3,398.2 121.6,401.4 124.0,405.4 126.3,409.9 128.6,412.0 131.0,410.8 133.3,411.3 135.6,411.9 138.0,411.9 140.3,411.4 142.6,410.2 144.9,408.3 147.3,406.6 149.6,405.2 151.9,404.1 154.3,402.6 156.6,400.8 158.9,401.4 161.2,406.3 163.6,411.3 165.9,413.8 168.2,411.9 170.6,406.4 172.9,405.0 175.2,407.9 177.5,411.0 179.9,413.9 182.2,416.3 184.5,418.1 186.9,419.9 189.2,421.3 191.5,421.3 193.9,420.3 196.2,418.6 198.5,414.2 200.8,410.6 203.2,408.4 205.5,406.7 207.8,404.9 210.2,403.3 212.5,401.7 214.8,400.4 217.1,399.3 219.5,399.0 221.8,399.5 224.1,400.1 226.5,401.8 228.8,404.5 231.1,407.4 233.4,410.0 235.8,411.8 238.1,413.7 240.4,415.5 242.8,416.8 245.1,418.3 247.4,419.4 249.7,420.3 252.1,420.8 254.4,420.0 256.7,417.6 259.1,416.3 261.4,415.4 263.7,415.2 266.1,414.6 268.4,414.4 270.7,414.7 273.0,415.5 275.4,416.4 277.7,417.3 280.0,418.0 282.4,418.7 284.7,419.2 287.0,419.4 289.3,419.6 291.7,419.9 294.0,419.7 296.3,419.6 298.7,419.8 301.0,419.9 303.3,419.9 305.6,419.6 308.0,419.1 310.3,418.4 312.6,417.6 315.0,417.1 317.3,416.8 319.6,416.6 322.0,417.0 324.3,417.9 326.6,419.2 328.9,420.8 331.3,422.7 333.6,424.7 335.9,425.1 338.3,424.2 340.6,422.1 342.9,420.9 345.2,419.6 347.6,417.3 349.9,416.2 352.2,415.5 354.6,415.3 356.9,415.4 359.2,416.2 361.5,417.7 363.9,418.7 366.2,417.8 368.5,416.3 370.9,414.6 373.2,412.6 375.5,408.9 377.8,405.3 380.2,403.7 382.5,404.3 384.8,405.6 387.2,406.9 389.5,408.3 391.8,410.6 394.2,414.2 396.5,417.9 398.8,419.8 401.1,419.6 403.5,419.1 405.8,417.4 408.1,415.7 410.5,415.9 412.8,418.3 415.1,422.0 417.4,422.1 419.8,419.7 422.1,415.1 424.4,411.4 426.8,409.7 429.1,408.9 431.4,410.0 433.7,412.0 436.1,415.0 438.4,417.5 440.7,419.9"/>
<path d="M93.7,407.9 96.0,408.7 98.4,409.9 100.7,411.4 103.0,413.1 105.3,414.9 107.7,417.0 110.0,419.3 112.3,421.3 114.7,422.7 117.0,424.1 119.3,425.3 121.6,425.9 124.0,426.5 126.3,426.3 128.6,425.3 131.0,424.0 133.3,422.9 135.6,421.8 138.0,420.6 140.3,419.3 142.6,418.0 144.9,416.2 147.3,415.3 149.6,414.8 151.9,414.9 154.3,414.8 156.6,414.1 158.9,415.2 161.2,419.8 163.6,423.1 165.9,423.6 168.2,420.1 170.6,413.7 172.9,410.4 175.2,410.1 177.5,410.4 179.9,410.9 182.2,411.8 184.5,412.9 186.9,414.6 189.2,416.5 191.5,418.0 193.9,419.1 196.2,419.9 198.5,419.1 200.8,418.6 203.2,418.5 205.5,418.6 207.8,417.7 210.2,417.8 212.5,418.0 214.8,418.8 217.1,420.0 219.5,421.5 221.8,422.0 224.1,422.4 226.5,422.8 228.8,423.2 231.1,423.3 233.4,423.3 235.8,423.3 238.1,423.3 240.4,424.8 242.8,426.0 245.1,427.3 247.4,428.1 249.7,428.2 252.1,428.2 254.4,427.2 256.7,425.2 259.1,425.2 261.4,426.0 263.7,429.6 266.1,432.2 268.4,434.0 270.7,435.6 273.0,437.2 275.4,438.6 277.7,439.9 280.0,440.9 282.4,441.8 284.7,443.1 287.0,445.5 289.3,449.1 291.7,453.7 294.0,458.6 296.3,462.5 298.7,466.6 301.0,469.3 303.3,470.3 305.6,469.3 308.0,465.7 310.3,450.3 312.6,436.9 315.0,435.5 317.3,436.0 319.6,436.6 322.0,437.4 324.3,440.7 326.6,445.8 328.9,449.6 331.3,453.4 333.6,457.9 335.9,459.9 338.3,460.7 340.6,455.0 342.9,440.2 345.2,427.8 347.6,424.5 349.9,423.6 352.2,423.6 354.6,424.0 356.9,425.4 359.2,426.0 361.5,426.4 363.9,426.8 366.2,427.2 368.5,426.5 370.9,425.6 373.2,424.6 375.5,423.4 377.8,422.1 380.2,421.0 382.5,420.0 384.8,419.7 387.2,419.5 389.5,419.2 391.8,418.8 394.2,418.6 396.5,418.3 398.8,417.9 401.1,417.6 403.5,417.3 405.8,417.2 408.1,417.3 410.5,417.5 412.8,417.8 415.1,418.0 417.4,418.1 419.8,418.1 422.1,417.3 424.4,416.3 426.8,415.4 429.1,415.0 431.4,414.8 433.7,414.6 436.1,414.5 438.4,414.3 440.7,414.2"/>
<path d="M93.7,398.1 96.0,399.7 98.4,401.4 100.7,403.2 103.0,404.6 105.3,405.7 107.7,406.7 110.0,407.8 112.3,407.8 114.7,407.1 117.0,406.7 119.3,406.7 121.6,407.7 124.0,409.3 126.3,411.6 128.6,412.0 131.0,409.2 133.3,408.4 135.6,408.1 138.0,407.5 140.3,406.8 142.6,405.7 144.9,404.1 147.3,402.5 149.6,400.8 151.9,399.1 154.3,397.3 156.6,395.3 158.9,395.0 161.2,396.4 163.6,397.5 165.9,397.6 168.2,395.9 170.6,395.0 172.9,395.6 175.2,398.2 177.5,400.7 179.9,403.1 182.2,404.8 184.5,406.2 186.9,407.5 189.2,408.5 191.5,408.7 193.9,408.4 196.2,408.3 198.5,406.3 200.8,405.5 203.2,406.2 205.5,407.4 207.8,407.8 210.2,408.4 212.5,408.8 214.8,409.2 217.1,409.3 219.5,409.2 221.8,409.1 224.1,409.0 226.5,408.9 228.8,409.4 231.1,410.0 233.4,410.4 235.8,410.5 238.1,410.7 240.4,410.8 242.8,410.8 245.1,411.9 247.4,413.1 249.7,414.8 252.1,416.1 254.4,415.3 256.7,413.9 259.1,413.2 261.4,412.7 263.7,413.5 266.1,414.7 268.4,415.6 270.7,416.8 273.0,418.2 275.4,419.6 277.7,421.0 280.0,422.1 282.4,423.2 284.7,424.8 287.0,427.0 289.3,430.2 291.7,433.5 294.0,436.2 296.3,438.7 298.7,441.5 301.0,443.6 303.3,445.7 305.6,446.9 308.0,446.3 310.3,438.7 312.6,431.6 315.0,431.0 317.3,431.2 319.6,431.2 322.0,431.3 324.3,432.4 326.6,434.4 328.9,435.7 331.3,437.2 333.6,439.2 335.9,439.6 338.3,439.5 340.6,436.2 342.9,427.9 345.2,420.5 347.6,417.9 349.9,416.9 352.2,416.3 354.6,416.3 356.9,416.8 359.2,419.0 361.5,423.1 363.9,426.6 366.2,427.7 368.5,427.6 370.9,426.4 373.2,424.4 375.5,419.1 377.8,412.4 380.2,406.9 382.5,405.2 384.8,404.7 387.2,404.1 389.5,404.0 391.8,405.3 394.2,408.5 396.5,412.0 398.8,414.0 401.1,414.4 403.5,415.0 405.8,415.1 408.1,415.5 410.5,417.4 412.8,420.5 415.1,424.2 417.4,425.0 419.8,423.8 422.1,420.3 424.4,417.1 426.8,414.9 429.1,413.4 431.4,412.8 433.7,412.5 436.1,412.5 438.4,412.3 440.7,412.2"/>
<path d="M93.7,412.5 96.0,418.5 98.4,425.8 100.7,432.6 103.0,438.6 105.3,444.0 107.7,447.7 110.0,450.5 112.3,451.2 114.7,451.0 117.0,451.4 119.3,452.6 121.6,454.6 124.0,455.4 126.3,454.7 128.6,444.0 131.0,424.5 133.3,421.4 135.6,421.2 138.0,422.0 140.3,420.4 142.6,417.4 144.9,413.3 147.3,411.7 149.6,410.1 151.9,409.0 154.3,407.6 156.6,405.8 158.9,405.2 161.2,407.2 163.6,408.9 165.9,409.1 168.2,406.5 170.6,402.2 172.9,401.0 175.2,403.2 177.5,406.0 179.9,409.2 182.2,412.3 184.5,415.5 186.9,418.9 189.2,422.4 191.5,424.8 193.9,426.2 196.2,426.7 198.5,424.3 200.8,422.4 203.2,421.1 205.5,420.0 207.8,418.4 210.2,417.8 212.5,417.2 214.8,416.9 217.1,416.8 219.5,416.9 221.8,417.1 224.1,417.4 226.5,417.8 228.8,418.3 231.1,418.7 233.4,418.7 235.8,418.6 238.1,418.5 240.4,419.0 242.8,418.8 245.1,419.0 247.4,419.3 249.7,419.9 252.1,420.3 254.4,419.6 256.7,417.3 259.1,416.3 261.4,415.5 263.7,416.1 266.1,416.8 268.4,417.5 270.7,418.7 273.0,420.3 275.4,421.8 277.7,423.2 280.0,424.3 282.4,425.4 284.7,426.7 287.0,428.2 289.3,430.3 291.7,432.6 294.0,434.5 296.3,436.1 298.7,437.8 301.0,438.8 303.3,439.6 305.6,439.5 308.0,438.0 310.3,431.9 312.6,426.1 315.0,424.8 317.3,424.0 319.6,423.3 322.0,422.8 324.3,423.3 326.6,424.6 328.9,425.3 331.3,426.0 333.6,427.1 335.9,427.3 338.3,427.3 340.6,425.3 342.9,419.0 345.2,413.6 347.6,412.1 349.9,411.4 352.2,411.1 354.6,412.0 356.9,413.2 359.2,415.7 361.5,419.1 363.9,421.7 366.2,422.6 368.5,422.7 370.9,422.2 373.2,421.6 375.5,419.7 377.8,417.4 380.2,415.3 382.5,414.4 384.8,414.1 387.2,413.6 389.5,413.1 391.8,413.4 394.2,415.1 396.5,417.1 398.8,417.0 401.1,415.4 403.5,414.0 405.8,412.3 408.1,411.2 410.5,411.9 412.8,414.2 415.1,417.3 417.4,418.1 419.8,417.4 422.1,415.0 424.4,413.1 426.8,412.1 429.1,411.6 431.4,412.4 433.7,413.5 436.1,415.2 438.4,416.6 440.7,417.8"/>
<path d="M93.7,392.2 96.0,394.0 98.4,397.3 100.7,400.8 103.0,403.6 105.3,406.1 107.7,408.4 110.0,410.5 112.3,410.8 114.7,410.2 117.0,409.6 119.3,409.2 121.6,410.1 124.0,411.4 126.3,414.2 128.6,412.6 131.0,404.7 133.3,403.1 135.6,402.7 138.0,402.4 140.3,401.7 142.6,400.5 144.9,399.1 147.3,398.4 149.6,397.9 151.9,397.6 154.3,397.4 156.6,397.2 158.9,397.7 161.2,399.4 163.6,400.9 165.9,401.8 168.2,401.5 170.6,401.1 172.9,401.3 175.2,402.1 177.5,402.9 179.9,403.5 182.2,403.6 184.5,403.6 186.9,403.5 189.2,403.0 191.5,402.4 193.9,401.8 196.2,401.5 198.5,400.9 200.8,400.4 203.2,401.3 205.5,402.3 207.8,401.6 210.2,400.9 212.5,400.2 214.8,399.8 217.1,399.3 219.5,399.0 221.8,399.5 224.1,399.9 226.5,401.4 228.8,404.1 231.1,406.6 233.4,408.7 235.8,409.9 238.1,411.1 240.4,411.9 242.8,412.3 245.1,413.1 247.4,414.0 249.7,415.1 252.1,415.8 254.4,414.8 256.7,412.8 259.1,411.5 261.4,410.5 263.7,410.1 266.1,410.0 268.4,410.2 270.7,410.9 273.0,412.1 275.4,413.2 277.7,414.0 280.0,414.4 282.4,414.8 284.7,415.0 287.0,415.0 289.3,415.1 291.7,415.0 294.0,413.9 296.3,413.1 298.7,413.2 301.0,413.6 303.3,414.5 305.6,415.8 308.0,416.8 310.3,416.9 312.6,416.6 315.0,416.8 317.3,416.6 319.6,416.0 322.0,415.2 324.3,414.6 326.6,413.8 328.9,413.0 331.3,413.4 333.6,413.9 335.9,414.0 338.3,414.0 340.6,413.7 342.9,411.6 345.2,409.6 347.6,408.7 349.9,408.1 352.2,407.8 354.6,408.7 356.9,410.0 359.2,412.2 361.5,415.6 363.9,418.9 366.2,420.2 368.5,420.5 370.9,419.5 373.2,417.5 375.5,413.1 377.8,408.2 380.2,404.7 382.5,403.7 384.8,403.3 387.2,402.5 389.5,401.6 391.8,401.3 394.2,402.0 396.5,402.8 398.8,403.2 401.1,402.7 403.5,402.4 405.8,402.0 408.1,402.0 410.5,402.7 412.8,404.2 415.1,406.0 417.4,406.4 419.8,405.6 422.1,403.4 424.4,401.3 426.8,400.1 429.1,399.3 431.4,399.6 433.7,400.4 436.1,401.9 438.4,403.3 440.7,404.5"/>
<path d="M93.7,407.5 96.0,414.1 98.4,421.8 100.7,428.8 103.0,434.8 105.3,439.8 107.7,442.5 110.0,443.3 112.3,441.7 114.7,438.8 117.0,436.0 119.3,433.6 121.6,433.0 124.0,432.8 126.3,432.8 128.6,424.2 131.0,404.7 133.3,400.5 135.6,399.8 138.0,399.9 140.3,398.9 142.6,397.4 144.9,395.8 147.3,396.5 149.6,397.9 151.9,399.3 154.3,400.3 156.6,400.5 158.9,403.0 161.2,411.1 163.6,417.8 165.9,420.1 168.2,416.3 170.6,407.8 172.9,404.4 175.2,405.3 177.5,406.4 179.9,407.3 182.2,408.0 184.5,408.5 186.9,408.9 189.2,409.2 191.5,408.9 193.9,408.2 196.2,407.7 198.5,405.8 200.8,404.5 203.2,404.2 205.5,404.3 207.8,403.2 210.2,402.3 212.5,401.5 214.8,401.0 217.1,400.6 219.5,400.6 221.8,401.3 224.1,402.2 226.5,403.5 228.8,405.3 231.1,407.0 233.4,408.1 235.8,408.4 238.1,408.5 240.4,408.3 242.8,408.4 245.1,409.7 247.4,411.0 249.7,412.4 252.1,413.5 254.4,411.7 256.7,410.9 259.1,410.6 261.4,410.5 263.7,410.9 266.1,411.3 268.4,411.7 270.7,412.3 273.0,413.1 275.4,413.7 277.7,414.2 280.0,414.4 282.4,414.6 284.7,414.6 287.0,414.3 289.3,414.0 291.7,413.5 294.0,411.8 296.3,410.0 298.7,408.6 301.0,408.1 303.3,407.9 305.6,408.1 308.0,408.3 310.3,408.6 312.6,409.0 315.0,409.4 317.3,409.6 319.6,409.8 322.0,410.2 324.3,410.8 326.6,411.9 328.9,413.4 331.3,414.5 333.6,415.2 335.9,414.9 338.3,413.9 340.6,412.8 342.9,411.0 345.2,409.6 347.6,408.7 349.9,408.1 352.2,407.8 354.6,408.7 356.9,409.5 359.2,411.2 361.5,413.9 363.9,416.1 366.2,416.5 368.5,416.1 370.9,414.9 373.2,413.1 375.5,409.4 377.8,405.4 380.2,402.5 382.5,402.0 384.8,402.0 387.2,401.8 389.5,401.9 391.8,402.6 394.2,404.8 396.5,407.0 398.8,407.9 401.1,407.8 403.5,408.1 405.8,407.7 408.1,407.5 410.5,408.1 412.8,409.5 415.1,410.9 417.4,410.1 419.8,407.9 422.1,404.7 424.4,402.0 426.8,400.6 429.1,399.9 431.4,400.4 433.7,401.5 436.1,403.4 438.4,405.1 440.7,406.6"/>
<path d="M93.7,417.9 96.0,421.8 98.4,426.8 100.7,431.4 103.0,435.7 105.3,440.2 107.7,443.8 110.0,447.2 112.3,447.4 114.7,446.7 117.0,446.9 119.3,448.1 121.6,451.4 124.0,454.4 126.3,456.0 128.6,445.2 131.0,422.6 133.3,419.3 135.6,419.8 138.0,421.7 140.3,420.9 142.6,418.5 144.9,415.0 147.3,414.7 149.6,414.6 151.9,415.1 154.3,415.4 156.6,415.1 158.9,416.2 161.2,420.3 163.6,423.6 165.9,424.8 168.2,422.5 170.6,417.6 172.9,415.4 175.2,416.5 177.5,418.3 179.9,420.2 182.2,422.1 184.5,424.1 186.9,426.3 189.2,428.7 191.5,430.1 193.9,430.5 196.2,430.1 198.5,427.0 200.8,424.4 203.2,422.2 205.5,420.2 207.8,417.6 210.2,415.9 212.5,414.2 214.8,412.8 217.1,411.6 219.5,410.6 221.8,410.2 224.1,410.1 226.5,410.4 228.8,411.2 231.1,412.1 233.4,412.7 235.8,413.0 238.1,413.2 240.4,413.7 242.8,414.2 245.1,415.6 247.4,416.8 249.7,418.1 252.1,419.1 254.4,418.2 256.7,416.8 259.1,416.5 261.4,416.6 263.7,419.9 266.1,424.4 268.4,428.0 270.7,431.6 273.0,435.4 275.4,438.6 277.7,441.5 280.0,443.7 282.4,445.9 284.7,449.5 287.0,455.0 289.3,462.6 291.7,468.3 294.0,471.7 296.3,473.1 298.7,474.5 301.0,474.6 303.3,474.9 305.6,474.1 308.0,471.2 310.3,457.8 312.6,446.0 315.0,444.7 317.3,445.2 319.6,445.5 322.0,445.8 324.3,448.3 326.6,452.7 328.9,455.6 331.3,458.4 333.6,462.6 335.9,465.2 338.3,467.0 340.6,460.9 342.9,440.8 345.2,424.1 347.6,421.2 349.9,420.3 352.2,420.2 354.6,420.7 356.9,421.9 359.2,424.7 361.5,429.4 363.9,433.6 366.2,435.7 368.5,436.2 370.9,435.4 373.2,433.9 375.5,429.4 377.8,424.1 380.2,420.1 382.5,419.4 384.8,420.1 387.2,420.8 389.5,421.4 391.8,422.4 394.2,423.8 396.5,424.6 398.8,424.0 401.1,422.5 403.5,421.1 405.8,419.5 408.1,418.4 410.5,418.4 412.8,419.8 415.1,422.2 417.4,423.0 419.8,422.5 422.1,420.0 424.4,417.6 426.8,416.2 429.1,415.6 431.4,416.2 433.7,417.2 436.1,418.7 438.4,419.8 440.7,420.6"/>
<path d="M93.7,417.4 96.0,418.4 98.4,419.2 100.7,419.8 103.0,420.2 105.3,420.4 107.7,420.5 110.0,420.6 112.3,420.5 114.7,419.6 117.0,418.8 119.3,418.2 121.6,417.8 124.0,417.8 126.3,418.2 128.6,417.3 131.0,414.5 133.3,413.2 135.6,412.5 138.0,411.9 140.3,411.7 142.6,411.7 144.9,411.6 147.3,412.0 149.6,412.5 151.9,414.1 154.3,416.0 156.6,418.1 158.9,419.9 161.2,420.7 163.6,420.7 165.9,420.7 168.2,420.4 170.6,420.0 172.9,419.4 175.2,419.1 177.5,419.5 179.9,419.9 182.2,420.3 184.5,420.8 186.9,421.2 189.2,420.1 191.5,419.0 193.9,417.7 196.2,416.9 198.5,416.5 200.8,416.5 203.2,417.0 205.5,417.8 207.8,416.8 210.2,416.8 212.5,416.8 214.8,417.0 217.1,417.3 219.5,417.6 221.8,418.1 224.1,418.5 226.5,419.2 228.8,420.0 231.1,420.6 233.4,421.0 235.8,421.3 238.1,421.6 240.4,422.7 242.8,422.9 245.1,423.1 247.4,423.3 249.7,423.5 252.1,423.8 254.4,423.7 256.7,421.7 259.1,421.5 261.4,422.0 263.7,425.0 266.1,427.4 268.4,429.5 270.7,431.6 273.0,433.6 275.4,435.3 277.7,436.7 280.0,437.6 282.4,438.4 284.7,439.4 287.0,440.9 289.3,443.0 291.7,445.5 294.0,447.7 296.3,449.1 298.7,450.2 301.0,450.6 303.3,451.0 305.6,450.4 308.0,448.8 310.3,442.0 312.6,435.7 315.0,434.9 317.3,435.0 319.6,435.1 322.0,435.3 324.3,436.9 326.6,439.2 328.9,440.9 331.3,442.7 333.6,444.8 335.9,445.0 338.3,444.6 340.6,440.5 342.9,430.9 345.2,422.5 347.6,419.9 349.9,419.0 352.2,418.8 354.6,419.1 356.9,420.2 359.2,420.5 361.5,420.7 363.9,421.2 366.2,422.1 368.5,422.8 370.9,423.8 373.2,425.1 375.5,425.4 377.8,424.3 380.2,423.3 382.5,422.2 384.8,422.0 387.2,421.8 389.5,421.7 391.8,421.5 394.2,421.4 396.5,421.4 398.8,421.4 401.1,421.4 403.5,421.2 405.8,420.3 408.1,419.3 410.5,418.4 412.8,417.6 415.1,416.8 417.4,415.9 419.8,415.0 422.1,413.5 424.4,412.0 426.8,410.6 429.1,409.8 431.4,409.3 433.7,408.9 436.1,408.7 438.4,408.8 440.7,409.1"/>
<path d="M93.7,403.0 96.0,408.9 98.4,416.2 100.7,423.0 103.0,428.8 105.3,433.9 107.7,437.3 110.0,439.6 112.3,439.3 114.7,437.5 117.0,435.7 119.3,434.1 121.6,434.5 124.0,435.2 126.3,436.1 128.6,427.0 131.0,405.7 133.3,401.2 135.6,400.6 138.0,401.3 140.3,400.3 142.6,398.3 144.9,395.8 147.3,395.9 149.6,396.3 151.9,396.5 154.3,396.1 156.6,395.2 158.9,395.9 161.2,399.9 163.6,403.2 165.9,403.8 168.2,400.6 170.6,395.2 172.9,393.3 175.2,394.6 177.5,396.2 179.9,397.8 182.2,399.3 184.5,402.2 186.9,405.4 189.2,408.2 191.5,410.0 193.9,410.8 196.2,410.9 198.5,408.7 200.8,406.6 203.2,404.9 205.5,403.4 207.8,401.6 210.2,400.9 212.5,400.2 214.8,399.8 217.1,399.3 219.5,399.0 221.8,399.5 224.1,399.9 226.5,400.6 228.8,402.1 231.1,403.5 233.4,405.5 235.8,407.2 238.1,408.8 240.4,409.7 242.8,410.3 245.1,411.5 247.4,412.7 249.7,414.2 252.1,415.2 254.4,414.2 256.7,412.3 259.1,411.0 261.4,409.9 263.7,410.8 266.1,413.1 268.4,414.9 270.7,417.0 273.0,419.3 275.4,421.1 277.7,422.6 280.0,423.5 282.4,424.5 284.7,426.3 287.0,429.0 289.3,433.2 291.7,438.2 294.0,442.4 296.3,445.8 298.7,449.3 301.0,451.1 303.3,452.5 305.6,453.2 308.0,451.0 310.3,437.6 312.6,425.7 315.0,424.2 317.3,423.9 319.6,423.5 322.0,422.9 324.3,424.1 326.6,426.7 328.9,427.8 331.3,429.4 333.6,432.0 335.9,434.2 338.3,436.4 340.6,434.7 342.9,422.5 345.2,412.0 347.6,410.7 349.9,409.9 352.2,409.5 354.6,410.2 356.9,411.0 359.2,411.3 361.5,411.2 363.9,411.0 366.2,410.3 368.5,409.4 370.9,408.3 373.2,407.2 375.5,405.9 377.8,404.5 380.2,403.9 382.5,403.4 384.8,403.0 387.2,402.3 389.5,401.5 391.8,400.9 394.2,400.7 396.5,401.0 398.8,401.3 401.1,400.9 403.5,400.5 405.8,400.0 408.1,400.0 410.5,400.3 412.8,400.7 415.1,400.7 417.4,400.4 419.8,399.9 422.1,398.9 424.4,398.0 426.8,397.3 429.1,396.9 431.4,396.6 433.7,396.3 436.1,396.2 438.4,396.0 440.7,396.0"/>
<path d="M93.7,410.2 96.0,411.4 98.4,412.4 100.7,413.4 103.0,414.1 105.3,414.6 107.7,415.1 110.0,415.7 112.3,415.8 114.7,415.3 117.0,415.0 119.3,415.1 121.6,415.5 124.0,416.4 126.3,417.6 128.6,417.4 131.0,415.2 133.3,414.5 135.6,414.1 138.0,413.7 140.3,413.3 142.6,412.8 144.9,411.7 147.3,410.8 149.6,409.7 151.9,409.1 154.3,408.7 156.6,408.4 158.9,408.0 161.2,407.9 163.6,408.1 165.9,408.4 168.2,408.5 170.6,409.1 172.9,409.7 175.2,410.7 177.5,412.1 179.9,413.5 182.2,414.8 184.5,416.2 186.9,417.4 189.2,418.4 191.5,419.3 193.9,419.6 196.2,419.8 198.5,419.7 200.8,419.4 203.2,419.0 205.5,418.6 207.8,416.5 210.2,415.3 212.5,414.0 214.8,413.1 217.1,412.4 219.5,411.9 221.8,411.8 224.1,411.7 226.5,411.9 228.8,412.5 231.1,413.0 233.4,413.3 235.8,413.2 238.1,413.1 240.4,413.2 242.8,413.0 245.1,413.7 247.4,414.9 249.7,416.7 252.1,418.4 254.4,418.8 256.7,417.7 259.1,417.8 261.4,418.3 263.7,419.6 266.1,419.7 268.4,419.7 270.7,419.7 273.0,419.8 275.4,419.8 277.7,419.8 280.0,419.7 282.4,419.6 284.7,419.5 287.0,419.3 289.3,419.3 291.7,419.7 294.0,419.8 296.3,420.3 298.7,421.3 301.0,422.5 303.3,423.9 305.6,424.9 308.0,425.6 310.3,426.0 312.6,426.1 315.0,426.6 317.3,427.2 319.6,427.6 322.0,428.4 324.3,429.7 326.6,430.9 328.9,432.4 331.3,434.2 333.6,435.7 335.9,434.6 338.3,432.0 340.6,428.0 342.9,426.7 345.2,425.5 347.6,422.8 349.9,422.1 352.2,422.3 354.6,422.9 356.9,424.3 359.2,426.1 361.5,429.2 363.9,432.7 366.2,435.7 368.5,437.5 370.9,438.4 373.2,438.3 375.5,434.3 377.8,429.0 380.2,424.0 382.5,422.4 384.8,422.3 387.2,422.3 389.5,422.6 391.8,423.9 394.2,426.4 396.5,428.8 398.8,429.6 401.1,429.2 403.5,428.9 405.8,428.1 408.1,427.2 410.5,427.7 412.8,429.1 415.1,431.0 417.4,430.7 419.8,429.0 422.1,425.8 424.4,423.0 426.8,421.0 429.1,419.7 431.4,419.7 433.7,420.2 436.1,421.4 438.4,422.4 440.7,423.3"/>
<path d="M93.7,391.2 96.0,393.6 98.4,396.8 100.7,400.1 103.0,402.8 105.3,405.2 107.7,407.4 110.0,409.5 112.3,409.8 114.7,409.2 117.0,409.1 119.3,409.4 121.6,411.2 124.0,413.3 126.3,416.5 128.6,414.2 131.0,404.5 133.3,402.7 135.6,402.9 138.0,403.4 140.3,403.2 142.6,402.4 144.9,401.0 147.3,400.6 149.6,400.3 151.9,399.9 154.3,399.3 156.6,398.3 158.9,398.3 161.2,400.1 163.6,401.3 165.9,400.9 168.2,398.0 170.6,394.3 172.9,393.3 175.2,393.8 177.5,394.5 179.9,395.1 182.2,396.8 184.5,399.3 186.9,402.2 189.2,405.0 191.5,407.7 193.9,409.8 196.2,411.6 198.5,412.5 200.8,412.8 203.2,412.9 205.5,412.6 207.8,410.4 210.2,408.6 212.5,406.8 214.8,405.1 217.1,403.4 219.5,401.9 221.8,401.0 224.1,400.2 226.5,400.6 228.8,402.1 231.1,403.5 233.4,404.4 235.8,404.4 238.1,404.4 240.4,403.7 242.8,404.3 245.1,406.4 247.4,408.6 249.7,411.1 252.1,412.9 254.4,411.9 256.7,411.0 259.1,410.4 261.4,410.1 263.7,410.2 266.1,410.7 268.4,411.5 270.7,412.8 273.0,414.5 275.4,416.0 277.7,417.3 280.0,418.1 282.4,418.7 284.7,419.0 287.0,418.8 289.3,418.4 291.7,418.1 294.0,416.9 296.3,415.7 298.7,414.7 301.0,413.6 303.3,412.7 305.6,412.0 308.0,411.4 310.3,410.8 312.6,410.6 315.0,411.0 317.3,411.5 319.6,412.3 322.0,413.5 324.3,415.0 326.6,416.5 328.9,417.8 331.3,418.8 333.6,419.3 335.9,418.6 338.3,417.2 340.6,415.5 342.9,413.4 345.2,411.5 347.6,410.3 349.9,409.8 352.2,410.0 354.6,411.5 356.9,413.4 359.2,416.7 361.5,421.8 363.9,427.3 366.2,431.1 368.5,433.1 370.9,432.8 373.2,431.2 375.5,426.1 377.8,420.0 380.2,414.7 382.5,412.9 384.8,412.4 387.2,411.6 389.5,410.8 391.8,410.3 394.2,410.3 396.5,410.0 398.8,408.9 401.1,407.2 403.5,405.7 405.8,404.4 408.1,404.0 410.5,404.6 412.8,406.3 415.1,408.5 417.4,409.7 419.8,409.9 422.1,408.6 424.4,407.4 426.8,407.0 429.1,407.1 431.4,408.3 433.7,410.0 436.1,412.4 438.4,414.5 440.7,416.0"/>
<path d="M93.7,403.0 96.0,404.8 98.4,406.7 100.7,408.7 103.0,410.5 105.3,412.3 107.7,414.3 110.0,416.4 112.3,417.9 114.7,418.5 117.0,418.9 119.3,418.9 121.6,418.5 124.0,418.0 126.3,417.6 128.6,416.1 131.0,412.0 133.3,409.4 135.6,407.6 138.0,405.9 140.3,404.6 142.6,403.5 144.9,402.4 147.3,401.6 149.6,401.0 151.9,400.9 154.3,401.1 156.6,401.5 158.9,402.2 161.2,403.1 163.6,404.3 165.9,405.6 168.2,406.5 170.6,407.8 172.9,408.9 175.2,410.2 177.5,411.6 179.9,412.8 182.2,413.7 184.5,414.4 186.9,414.9 189.2,415.2 191.5,415.1 193.9,414.6 196.2,414.0 198.5,412.8 200.8,411.6 203.2,410.8 205.5,410.1 207.8,407.8 210.2,405.8 212.5,403.7 214.8,401.8 217.1,400.1 219.5,399.0 221.8,399.5 224.1,399.9 226.5,400.6 228.8,403.0 231.1,405.6 233.4,407.7 235.8,409.0 238.1,410.1 240.4,410.6 242.8,410.6 245.1,410.9 247.4,411.3 249.7,412.2 252.1,412.8 254.4,411.3 256.7,409.5 259.1,408.2 261.4,407.4 263.7,407.4 266.1,408.5 268.4,410.2 270.7,412.5 273.0,415.2 275.4,417.7 277.7,419.8 280.0,421.4 282.4,422.5 284.7,423.4 287.0,424.2 289.3,425.3 291.7,426.8 294.0,427.8 296.3,428.8 298.7,429.7 301.0,430.4 303.3,431.2 305.6,431.5 308.0,430.8 310.3,426.6 312.6,422.6 315.0,421.6 317.3,420.9 319.6,420.2 322.0,419.5 324.3,419.7 326.6,420.3 328.9,420.4 331.3,420.3 333.6,420.5 335.9,420.1 338.3,419.6 340.6,418.2 342.9,413.6 345.2,410.0 347.6,409.2 349.9,408.9 352.2,409.0 354.6,410.4 356.9,412.0 359.2,413.0 361.5,413.4 363.9,413.9 366.2,414.0 368.5,413.8 370.9,413.3 373.2,412.6 375.5,411.6 377.8,410.4 380.2,409.6 382.5,408.7 384.8,408.0 387.2,407.1 389.5,406.0 391.8,404.9 394.2,404.2 396.5,403.7 398.8,403.3 401.1,402.5 403.5,402.0 405.8,401.7 408.1,402.2 410.5,403.1 412.8,404.2 415.1,405.2 417.4,406.2 419.8,407.1 422.1,407.4 424.4,407.3 426.8,406.9 429.1,406.6 431.4,406.1 433.7,405.3 436.1,404.5 438.4,403.6 440.7,402.7"/>
<path d="M93.7,418.2 96.0,420.2 98.4,421.9 100.7,423.4 103.0,425.0 105.3,426.7 107.7,428.3 110.0,430.0 112.3,431.6 114.7,432.6 117.0,433.1 119.3,433.4 121.6,432.7 124.0,432.0 126.3,430.5 128.6,428.7 131.0,427.6 133.3,426.4 135.6,424.8 138.0,423.1 140.3,421.5 142.6,419.8 144.9,417.9 147.3,416.6 149.6,415.5 151.9,415.4 154.3,415.7 156.6,416.0 158.9,417.0 161.2,419.3 163.6,421.6 165.9,423.3 168.2,422.9 170.6,420.7 172.9,419.4 175.2,419.1 177.5,419.5 179.9,419.9 182.2,420.3 184.5,420.8 186.9,421.3 189.2,420.9 191.5,419.7 193.9,418.2 196.2,416.9 198.5,415.9 200.8,415.1 203.2,414.8 205.5,414.7 207.8,413.0 210.2,412.1 212.5,411.3 214.8,411.0 217.1,411.0 219.5,411.2 221.8,412.0 224.1,412.9 226.5,414.1 228.8,415.6 231.1,416.9 233.4,417.9 235.8,418.7 238.1,419.5 240.4,421.3 242.8,422.5 245.1,423.9 247.4,425.2 249.7,426.3 252.1,426.9 254.4,427.2 256.7,425.2 259.1,425.1 261.4,425.3 263.7,428.3 266.1,430.6 268.4,432.3 270.7,433.8 273.0,435.2 275.4,436.0 277.7,436.5 280.0,436.5 282.4,436.5 284.7,437.3 287.0,439.2 289.3,442.5 291.7,446.8 294.0,451.7 296.3,456.5 298.7,461.5 301.0,465.2 303.3,468.1 305.6,468.9 308.0,466.5 310.3,452.9 312.6,440.1 315.0,437.5 317.3,436.7 319.6,436.1 322.0,435.8 324.3,437.9 326.6,441.9 328.9,444.8 331.3,447.7 333.6,451.5 335.9,453.4 338.3,454.5 340.6,449.9 342.9,435.4 345.2,423.2 347.6,420.4 349.9,419.4 352.2,419.1 354.6,419.4 356.9,420.4 359.2,423.6 361.5,429.3 363.9,434.4 366.2,437.1 368.5,438.4 370.9,438.1 373.2,437.0 375.5,432.3 377.8,426.9 380.2,422.6 382.5,422.2 384.8,422.8 387.2,423.0 389.5,423.7 391.8,425.3 394.2,428.2 396.5,431.1 398.8,432.1 401.1,431.8 403.5,431.4 405.8,430.1 408.1,428.7 410.5,428.8 412.8,429.8 415.1,431.2 417.4,430.0 419.8,427.2 422.1,422.8 424.4,419.2 426.8,417.0 429.1,416.0 431.4,416.7 433.7,418.2 436.1,420.8 438.4,423.3 440.7,425.7"/>
<path d="M93.7,414.5 96.0,417.9 98.4,421.8 100.7,425.5 103.0,429.1 105.3,433.0 107.7,436.5 110.0,439.9 112.3,442.1 114.7,443.1 117.0,444.0 119.3,444.7 121.6,445.8 124.0,446.3 126.3,445.4 128.6,436.1 131.0,419.2 133.3,415.8 135.6,415.2 138.0,415.5 140.3,414.6 142.6,413.1 144.9,411.1 147.3,411.2 149.6,411.6 151.9,412.5 154.3,413.1 156.6,412.9 158.9,414.1 161.2,418.2 163.6,421.4 165.9,422.2 168.2,419.5 170.6,413.8 172.9,411.2 175.2,411.5 177.5,412.4 179.9,413.4 182.2,414.5 184.5,415.5 186.9,416.4 189.2,417.2 191.5,417.6 193.9,417.5 196.2,417.4 198.5,416.6 200.8,416.1 203.2,416.3 205.5,416.6 207.8,415.7 210.2,415.5 212.5,415.2 214.8,415.0 217.1,414.7 219.5,414.1 221.8,413.6 224.1,413.0 226.5,412.6 228.8,412.8 231.1,413.2 233.4,413.5 235.8,413.6 238.1,413.9 240.4,414.5 242.8,415.0 245.1,416.2 247.4,417.2 249.7,418.3 252.1,419.1 254.4,418.2 256.7,416.9 259.1,416.9 261.4,417.6 263.7,420.7 266.1,424.1 268.4,427.3 270.7,430.4 273.0,433.5 275.4,436.1 277.7,438.3 280.0,439.8 282.4,441.0 284.7,442.4 287.0,444.5 289.3,447.2 291.7,450.0 294.0,452.6 296.3,453.9 298.7,454.9 301.0,454.8 303.3,455.0 305.6,454.4 308.0,453.3 310.3,447.2 312.6,441.2 315.0,440.8 317.3,441.6 319.6,442.1 322.0,442.1 324.3,443.6 326.6,446.0 328.9,447.3 331.3,448.3 333.6,449.8 335.9,449.4 338.3,449.1 340.6,444.7 342.9,431.8 345.2,420.3 347.6,417.7 349.9,416.8 352.2,416.5 354.6,417.0 356.9,417.9 359.2,422.2 361.5,430.2 363.9,437.2 366.2,440.5 368.5,441.6 370.9,440.8 373.2,438.6 375.5,431.9 377.8,424.4 380.2,418.3 382.5,417.5 384.8,418.5 387.2,419.3 389.5,420.3 391.8,422.5 394.2,426.3 396.5,429.7 398.8,430.1 401.1,428.1 403.5,426.1 405.8,423.2 408.1,420.6 410.5,420.5 412.8,422.9 415.1,426.7 417.4,426.6 419.8,423.4 422.1,417.5 424.4,412.4 426.8,409.6 429.1,407.8 431.4,408.6 433.7,410.7 436.1,414.5 438.4,418.3 440.7,422.0"/>
<path d="M93.7,416.5 96.0,421.1 98.4,426.9 100.7,432.4 103.0,437.5 105.3,442.3 107.7,445.7 110.0,448.3 112.3,449.1 114.7,448.4 117.0,447.1 119.3,445.5 121.6,441.8 124.0,437.6 126.3,433.7 128.6,425.3 131.0,411.5 133.3,407.7 135.6,406.4 138.0,406.2 140.3,405.7 142.6,404.8 144.9,403.6 147.3,404.0 149.6,404.4 151.9,405.4 154.3,406.6 156.6,408.0 158.9,409.3 161.2,410.6 163.6,411.9 165.9,413.0 168.2,413.4 170.6,413.8 172.9,413.8 175.2,414.7 177.5,415.8 179.9,416.9 182.2,417.8 184.5,418.7 186.9,419.7 189.2,420.8 191.5,421.1 193.9,420.8 196.2,420.2 198.5,417.6 200.8,415.6 203.2,414.5 205.5,413.9 207.8,412.8 210.2,412.4 212.5,412.3 214.8,412.5 217.1,413.1 219.5,413.8 221.8,414.8 224.1,415.8 226.5,416.6 228.8,417.6 231.1,418.1 233.4,418.3 235.8,418.2 238.1,418.0 240.4,418.5 242.8,418.6 245.1,419.2 247.4,420.4 249.7,421.9 252.1,423.4 254.4,424.4 256.7,423.3 259.1,424.0 261.4,425.3 263.7,428.9 266.1,431.0 268.4,432.4 270.7,433.8 273.0,435.4 275.4,437.2 277.7,439.3 280.0,441.4 282.4,443.8 284.7,447.0 287.0,451.9 289.3,458.6 291.7,466.2 294.0,473.7 296.3,479.0 298.7,483.0 301.0,484.4 303.3,484.7 305.6,482.8 308.0,477.7 310.3,459.9 312.6,444.3 315.0,441.4 317.3,440.7 319.6,439.9 322.0,439.2 324.3,440.7 326.6,443.8 328.9,445.2 331.3,446.5 333.6,448.4 335.9,448.3 338.3,447.6 340.6,443.2 342.9,433.4 345.2,424.6 347.6,422.0 349.9,421.4 352.2,421.6 354.6,422.2 356.9,423.6 359.2,424.3 361.5,424.8 363.9,425.2 366.2,425.4 368.5,424.7 370.9,423.8 373.2,422.8 375.5,421.3 377.8,419.8 380.2,418.5 382.5,417.4 384.8,416.9 387.2,416.4 389.5,416.0 391.8,415.8 394.2,415.9 396.5,416.2 398.8,416.6 401.1,416.8 403.5,417.2 405.8,417.6 408.1,418.0 410.5,418.5 412.8,419.0 415.1,419.6 417.4,420.1 419.8,420.4 422.1,419.8 424.4,419.2 426.8,418.4 429.1,418.2 431.4,417.9 433.7,417.5 436.1,417.0 438.4,416.2 440.7,415.4"/>
<path d="M93.7,419.7 96.0,423.2 98.4,426.7 100.7,429.6 103.0,432.1 105.3,434.2 107.7,435.2 110.0,435.6 112.3,435.4 114.7,434.1 117.0,432.7 119.3,431.4 121.6,430.4 124.0,430.1 126.3,429.9 128.6,427.2 131.0,422.5 133.3,422.3 135.6,423.1 138.0,424.4 140.3,424.8 142.6,423.7 144.9,421.9 147.3,421.5 149.6,421.3 151.9,421.8 154.3,421.9 156.6,421.0 158.9,420.5 161.2,422.8 163.6,423.5 165.9,421.7 168.2,417.1 170.6,411.3 172.9,408.3 175.2,407.4 177.5,407.2 179.9,407.3 182.2,407.8 184.5,408.7 186.9,409.9 189.2,411.2 191.5,412.7 193.9,414.0 196.2,415.5 198.5,416.9 200.8,418.1 203.2,419.3 205.5,420.2 207.8,419.1 210.2,418.9 212.5,418.6 214.8,418.4 217.1,418.3 219.5,418.2 221.8,418.2 224.1,418.3 226.5,418.5 228.8,418.9 231.1,419.2 233.4,419.3 235.8,419.3 238.1,419.2 240.4,420.1 242.8,421.1 245.1,422.4 247.4,423.0 249.7,422.9 252.1,422.5 254.4,419.9 256.7,417.7 259.1,416.9 261.4,416.6 263.7,419.2 266.1,423.1 268.4,426.3 270.7,429.7 273.0,433.5 275.4,436.9 277.7,440.1 280.0,442.6 282.4,445.2 284.7,449.0 287.0,454.3 289.3,459.4 291.7,464.3 294.0,469.0 296.3,472.1 298.7,474.9 301.0,476.3 303.3,477.7 305.6,477.6 308.0,475.1 310.3,460.9 312.6,447.9 315.0,446.3 317.3,446.7 319.6,446.9 322.0,447.0 324.3,449.5 326.6,453.8 328.9,455.1 331.3,456.0 333.6,457.6 335.9,457.5 338.3,457.7 340.6,452.2 342.9,433.6 345.2,418.3 347.6,416.1 349.9,415.5 352.2,415.7 354.6,416.8 356.9,418.6 359.2,420.5 361.5,422.5 363.9,424.3 366.2,425.5 368.5,425.7 370.9,425.4 373.2,424.9 375.5,423.5 377.8,421.7 380.2,419.9 382.5,418.6 384.8,417.9 387.2,417.1 389.5,416.2 391.8,415.4 394.2,415.1 396.5,414.8 398.8,414.0 401.1,412.6 403.5,411.3 405.8,410.0 408.1,409.2 410.5,409.1 412.8,409.5 415.1,410.0 417.4,410.2 419.8,410.2 422.1,409.4 424.4,408.7 426.8,408.3 429.1,408.4 431.4,408.8 433.7,409.5 436.1,410.3 438.4,411.1 440.7,411.8"/>
<path d="M93.7,407.2 96.0,412.0 98.4,417.8 100.7,423.5 103.0,429.1 105.3,435.0 107.7,440.4 110.0,445.8 112.3,449.9 114.7,451.5 117.0,451.3 119.3,451.0 121.6,451.3 124.0,451.1 126.3,449.6 128.6,438.0 131.0,415.2 133.3,409.2 135.6,407.0 138.0,406.2 140.3,403.8 142.6,400.5 144.9,396.8 147.3,396.1 149.6,396.7 151.9,397.0 154.3,396.6 156.6,395.3 158.9,396.3 161.2,401.8 163.6,406.7 165.9,408.5 168.2,406.2 170.6,401.6 172.9,400.9 175.2,403.1 177.5,405.4 179.9,407.5 182.2,409.2 184.5,410.7 186.9,412.3 189.2,413.7 191.5,414.3 193.9,413.5 196.2,412.2 198.5,408.4 200.8,405.5 203.2,404.1 205.5,403.3 207.8,402.3 210.2,401.4 212.5,400.7 214.8,400.2 217.1,399.9 219.5,399.9 221.8,400.8 224.1,401.8 226.5,403.3 228.8,405.6 231.1,407.8 233.4,409.5 235.8,410.5 238.1,411.5 240.4,412.4 242.8,413.6 245.1,415.6 247.4,416.9 249.7,417.6 252.1,417.9 254.4,415.4 256.7,413.6 259.1,412.6 261.4,411.8 263.7,412.5 266.1,414.0 268.4,415.3 270.7,417.1 273.0,419.6 275.4,422.2 277.7,424.8 280.0,427.2 282.4,429.3 284.7,432.1 287.0,435.7 289.3,440.3 291.7,445.0 294.0,449.0 296.3,451.7 298.7,454.3 301.0,455.2 303.3,455.8 305.6,454.9 308.0,450.9 310.3,438.6 312.6,428.5 315.0,427.1 317.3,427.2 319.6,427.6 322.0,428.3 324.3,430.7 326.6,434.2 328.9,436.4 331.3,438.5 333.6,441.4 335.9,443.0 338.3,444.2 340.6,440.9 342.9,429.3 345.2,419.5 347.6,417.3 349.9,416.5 352.2,416.1 354.6,416.4 356.9,417.0 359.2,418.6 361.5,421.8 363.9,424.7 366.2,425.8 368.5,425.8 370.9,424.5 373.2,422.1 375.5,416.7 377.8,410.3 380.2,405.2 382.5,403.7 384.8,403.3 387.2,402.8 389.5,402.7 391.8,404.2 394.2,407.4 396.5,410.5 398.8,411.6 401.1,410.6 403.5,409.7 405.8,408.0 408.1,406.8 410.5,407.2 412.8,409.5 415.1,413.0 417.4,413.7 419.8,412.6 422.1,409.8 424.4,407.0 426.8,405.7 429.1,405.1 431.4,405.5 433.7,406.1 436.1,407.2 438.4,408.2 440.7,409.1"/>
<path d="M93.7,387.8 96.0,388.7 98.4,390.2 100.7,391.9 103.0,393.2 105.3,394.2 107.7,395.6 110.0,397.2 112.3,397.6 114.7,397.0 117.0,397.1 119.3,397.4 121.6,399.0 124.0,401.1 126.3,404.1 128.6,404.7 131.0,400.2 133.3,398.4 135.6,397.6 138.0,396.9 140.3,396.5 142.6,396.2 144.9,395.8 147.3,395.8 149.6,396.0 151.9,396.0 154.3,395.7 156.6,395.0 158.9,395.4 161.2,398.0 163.6,400.4 165.9,401.3 168.2,399.2 170.6,394.9 172.9,393.3 175.2,394.2 177.5,395.4 179.9,396.7 182.2,398.0 184.5,399.2 186.9,400.6 189.2,401.7 191.5,402.4 193.9,402.6 196.2,403.1 198.5,402.1 200.8,401.5 203.2,401.8 205.5,402.3 207.8,401.6 210.2,400.9 212.5,400.2 214.8,399.8 217.1,399.3 219.5,399.0 221.8,399.5 224.1,399.9 226.5,400.6 228.8,402.1 231.1,403.5 233.4,404.4 235.8,404.4 238.1,404.4 240.4,403.5 242.8,403.4 245.1,404.8 247.4,406.2 249.7,408.1 252.1,410.2 254.4,408.9 256.7,408.8 259.1,408.6 261.4,408.5 263.7,408.4 266.1,408.5 268.4,408.6 270.7,409.0 273.0,409.6 275.4,410.2 277.7,410.6 280.0,410.8 282.4,410.9 284.7,410.9 287.0,410.8 289.3,411.0 291.7,411.0 294.0,409.7 296.3,408.8 298.7,408.4 301.0,408.1 303.3,407.9 305.6,408.1 308.0,408.3 310.3,408.6 312.6,409.0 315.0,409.9 317.3,410.6 319.6,411.4 322.0,412.4 324.3,413.7 326.6,415.1 328.9,416.4 331.3,417.6 333.6,418.5 335.9,418.3 338.3,417.2 340.6,415.6 342.9,413.9 345.2,411.9 347.6,410.2 349.9,409.0 352.2,408.2 354.6,408.7 356.9,409.5 359.2,409.6 361.5,409.0 363.9,408.4 366.2,407.7 368.5,407.3 370.9,407.0 373.2,406.7 375.5,406.3 377.8,405.7 380.2,405.6 382.5,405.1 384.8,404.7 387.2,403.8 389.5,402.8 391.8,401.7 394.2,401.0 396.5,400.5 398.8,400.3 401.1,399.9 403.5,399.5 405.8,399.2 408.1,399.3 410.5,399.5 412.8,399.8 415.1,399.5 417.4,399.2 419.8,398.9 422.1,398.2 424.4,397.5 426.8,396.9 429.1,396.6 431.4,396.2 433.7,395.8 436.1,395.5 438.4,395.1 440.7,394.8"/>
<path d="M93.7,410.9 96.0,412.7 98.4,414.4 100.7,416.1 103.0,417.5 105.3,418.5 107.7,419.2 110.0,419.7 112.3,419.5 114.7,418.4 117.0,417.4 119.3,416.6 121.6,416.3 124.0,416.9 126.3,417.8 128.6,417.7 131.0,415.9 133.3,415.5 135.6,415.6 138.0,415.7 140.3,415.8 142.6,415.8 144.9,415.3 147.3,415.1 149.6,414.6 151.9,415.0 154.3,415.6 156.6,416.4 158.9,417.0 161.2,417.7 163.6,418.4 165.9,419.1 168.2,419.4 170.6,419.5 172.9,419.1 175.2,419.6 177.5,420.4 179.9,420.9 182.2,421.1 184.5,421.2 186.9,421.3 189.2,421.4 191.5,420.7 193.9,419.3 196.2,417.7 198.5,413.6 200.8,410.4 203.2,408.5 205.5,407.4 207.8,406.5 210.2,406.3 212.5,406.4 214.8,407.1 217.1,408.1 219.5,409.3 221.8,410.9 224.1,412.3 226.5,413.8 228.8,415.2 231.1,416.3 233.4,416.8 235.8,416.9 238.1,416.9 240.4,417.2 242.8,416.8 245.1,416.9 247.4,417.2 249.7,418.0 252.1,418.7 254.4,418.1 256.7,416.3 259.1,415.6 261.4,415.2 263.7,415.7 266.1,415.6 268.4,415.8 270.7,416.4 273.0,417.4 275.4,418.4 277.7,419.3 280.0,420.1 282.4,420.8 284.7,421.4 287.0,421.7 289.3,422.1 291.7,422.9 294.0,423.5 296.3,424.3 298.7,425.3 301.0,426.2 303.3,427.0 305.6,426.9 308.0,426.5 310.3,425.7 312.6,424.6 315.0,424.0 317.3,423.7 319.6,423.6 322.0,424.0 324.3,425.1 326.6,426.4 328.9,428.2 331.3,430.4 333.6,432.5 335.9,432.2 338.3,430.4 340.6,427.0 342.9,425.9 345.2,424.7 347.6,421.9 349.9,421.0 352.2,420.8 354.6,420.8 356.9,421.3 359.2,422.5 361.5,424.6 363.9,425.5 366.2,424.4 368.5,422.3 370.9,419.7 373.2,417.2 375.5,413.4 377.8,409.6 380.2,407.1 382.5,406.8 384.8,407.3 387.2,407.7 389.5,408.3 391.8,409.3 394.2,411.0 396.5,412.4 398.8,412.9 401.1,412.8 403.5,412.9 405.8,413.0 408.1,413.6 410.5,414.7 412.8,416.4 415.1,418.6 417.4,419.4 419.8,418.8 422.1,416.1 424.4,413.3 426.8,411.5 429.1,410.4 431.4,410.8 433.7,412.1 436.1,414.5 438.4,416.8 440.7,419.0"/>
<path d="M93.7,400.3 96.0,403.1 98.4,406.4 100.7,409.5 103.0,411.9 105.3,413.6 107.7,414.6 110.0,415.0 112.3,413.4 114.7,410.5 117.0,408.1 119.3,408.5 121.6,410.3 124.0,412.5 126.3,415.1 128.6,412.4 131.0,402.0 133.3,399.3 135.6,398.6 138.0,398.3 140.3,397.7 142.6,397.4 144.9,398.2 147.3,399.7 149.6,401.1 151.9,402.4 154.3,403.6 156.6,404.4 158.9,405.4 161.2,407.1 163.6,408.6 165.9,409.5 168.2,409.3 170.6,408.8 172.9,409.1 175.2,409.9 177.5,410.9 179.9,411.5 182.2,411.7 184.5,411.6 186.9,411.2 189.2,410.4 191.5,409.4 193.9,408.4 196.2,407.8 198.5,407.4 200.8,407.3 203.2,407.9 205.5,408.6 207.8,407.6 210.2,407.0 212.5,406.4 214.8,406.1 217.1,405.8 219.5,405.7 221.8,406.0 224.1,406.3 226.5,406.8 228.8,407.7 231.1,408.6 233.4,409.0 235.8,408.7 238.1,408.3 240.4,407.3 242.8,406.1 245.1,406.0 247.4,406.4 249.7,407.7 252.1,408.8 254.4,407.3 256.7,406.5 259.1,405.8 261.4,405.2 263.7,404.5 266.1,405.2 268.4,406.6 270.7,408.5 273.0,410.9 275.4,413.2 277.7,415.2 280.0,416.8 282.4,418.1 284.7,418.8 287.0,419.0 289.3,418.9 291.7,418.8 294.0,417.8 296.3,416.7 298.7,415.9 301.0,415.1 303.3,414.6 305.6,414.2 308.0,414.1 310.3,414.2 312.6,414.6 315.0,415.2 317.3,416.0 319.6,416.8 322.0,417.9 324.3,419.3 326.6,420.5 328.9,421.6 331.3,422.3 333.6,422.5 335.9,421.1 338.3,419.0 340.6,416.7 342.9,414.7 345.2,412.8 347.6,411.1 349.9,410.3 352.2,409.9 354.6,410.7 356.9,411.7 359.2,411.9 361.5,411.5 363.9,411.1 366.2,410.3 368.5,409.3 370.9,408.3 373.2,407.4 375.5,406.6 377.8,406.1 380.2,406.3 382.5,406.6 384.8,407.2 387.2,407.6 389.5,407.9 391.8,408.0 394.2,408.3 396.5,408.4 398.8,408.2 401.1,407.5 403.5,406.6 405.8,405.7 408.1,405.3 410.5,405.0 412.8,405.0 415.1,404.8 417.4,404.7 419.8,404.6 422.1,404.1 424.4,403.5 426.8,403.0 429.1,402.9 431.4,402.9 433.7,403.0 436.1,403.2 438.4,403.3 440.7,403.4"/>
<path d="M93.7,419.4 96.0,421.1 98.4,422.8 100.7,424.6 103.0,426.4 105.3,428.3 107.7,430.2 110.0,431.9 112.3,433.5 114.7,434.5 117.0,435.0 119.3,435.3 121.6,434.6 124.0,433.8 126.3,432.3 128.6,430.0 131.0,427.9 133.3,426.7 135.6,425.7 138.0,425.0 140.3,424.2 142.6,423.3 144.9,421.9 147.3,421.1 149.6,420.1 151.9,420.1 154.3,420.4 156.6,420.7 158.9,420.7 161.2,420.7 163.6,420.7 165.9,420.0 168.2,418.2 170.6,416.5 172.9,414.8 175.2,415.2 177.5,416.4 179.9,418.1 182.2,419.9 184.5,421.9 186.9,424.5 189.2,427.1 191.5,427.7 193.9,427.2 196.2,426.3 198.5,423.0 200.8,421.3 203.2,420.8 205.5,420.8 207.8,420.3 210.2,420.8 212.5,420.8 214.8,420.9 217.1,421.2 219.5,421.6 221.8,422.0 224.1,422.4 226.5,422.8 228.8,423.2 231.1,423.3 233.4,423.3 235.8,423.3 238.1,423.3 240.4,424.5 242.8,424.6 245.1,424.5 247.4,424.2 249.7,423.9 252.1,423.5 254.4,422.4 256.7,419.5 259.1,418.2 261.4,417.5 263.7,417.9 266.1,417.9 268.4,418.4 270.7,419.5 273.0,421.0 275.4,422.6 277.7,424.0 280.0,425.3 282.4,426.3 284.7,426.9 287.0,427.3 289.3,427.6 291.7,428.4 294.0,429.3 296.3,430.3 298.7,431.2 301.0,432.0 303.3,432.7 305.6,432.1 308.0,431.2 310.3,429.9 312.6,428.3 315.0,427.3 317.3,426.6 319.6,426.0 322.0,425.9 324.3,426.4 326.6,427.1 328.9,428.1 331.3,429.5 333.6,430.8 335.9,430.0 338.3,428.0 340.6,424.9 342.9,423.7 345.2,422.6 347.6,420.3 349.9,419.8 352.2,420.1 354.6,420.9 356.9,422.4 359.2,423.0 361.5,423.4 363.9,423.7 366.2,423.9 368.5,423.4 370.9,422.7 373.2,422.1 375.5,421.3 377.8,420.5 380.2,419.8 382.5,419.1 384.8,419.0 387.2,418.9 389.5,418.8 391.8,418.6 394.2,418.6 396.5,418.8 398.8,419.0 401.1,419.3 403.5,419.7 405.8,420.2 408.1,420.7 410.5,421.2 412.8,421.2 415.1,421.1 417.4,421.0 419.8,420.9 422.1,420.0 424.4,419.1 426.8,418.2 429.1,418.0 431.4,417.9 433.7,417.8 436.1,417.4 438.4,417.0 440.7,416.7"/>
<path d="M93.7,399.1 96.0,402.3 98.4,406.6 100.7,410.9 103.0,415.0 105.3,419.5 107.7,424.0 110.0,428.8 112.3,432.2 114.7,434.8 117.0,435.2 119.3,435.0 121.6,436.3 124.0,437.6 126.3,438.5 128.6,429.8 131.0,409.7 133.3,405.7 135.6,405.5 138.0,406.7 140.3,406.5 142.6,405.5 144.9,403.8 147.3,404.7 149.6,406.0 151.9,407.0 154.3,407.3 156.6,406.5 158.9,407.4 161.2,411.4 163.6,413.8 165.9,413.2 168.2,408.8 170.6,403.1 172.9,400.8 175.2,400.9 177.5,401.4 179.9,402.1 182.2,403.0 184.5,404.2 186.9,405.6 189.2,407.1 191.5,408.8 193.9,410.3 196.2,411.9 198.5,412.7 200.8,413.2 203.2,413.9 205.5,414.3 207.8,413.0 210.2,412.1 212.5,410.9 214.8,409.8 217.1,408.7 219.5,407.7 221.8,407.2 224.1,406.9 226.5,407.0 228.8,407.8 231.1,408.8 233.4,409.5 235.8,409.7 238.1,410.1 240.4,410.3 242.8,410.8 245.1,412.4 247.4,414.2 249.7,416.2 252.1,417.9 254.4,417.6 256.7,416.6 259.1,416.6 261.4,416.9 263.7,418.0 266.1,418.2 268.4,418.4 270.7,418.8 273.0,419.5 275.4,420.2 277.7,420.7 280.0,421.2 282.4,421.5 284.7,421.7 287.0,421.5 289.3,421.4 291.7,421.4 294.0,421.1 296.3,420.7 298.7,420.5 301.0,420.2 303.3,420.1 305.6,419.6 308.0,419.1 310.3,418.6 312.6,418.0 315.0,417.7 317.3,417.3 319.6,416.9 322.0,416.7 324.3,416.7 326.6,416.6 328.9,416.6 331.3,416.5 333.6,416.4 335.9,415.6 338.3,414.6 340.6,413.7 342.9,412.3 345.2,410.9 347.6,409.8 349.9,409.2 352.2,408.9 354.6,409.8 356.9,410.8 359.2,411.5 361.5,412.1 363.9,412.7 366.2,412.4 368.5,411.8 370.9,411.0 373.2,410.0 375.5,408.1 377.8,405.9 380.2,404.6 382.5,404.4 384.8,404.4 387.2,404.1 389.5,403.8 391.8,403.8 394.2,404.4 396.5,405.2 398.8,405.3 401.1,404.6 403.5,403.8 405.8,402.8 408.1,402.3 410.5,402.2 412.8,402.6 415.1,402.6 417.4,402.1 419.8,401.3 422.1,399.9 424.4,398.6 426.8,398.1 429.1,398.1 431.4,398.7 433.7,399.6 436.1,400.8 438.4,401.9 440.7,402.9"/>
<path d="M93.7,404.8 96.0,407.1 98.4,410.0 100.7,412.9 103.0,415.6 105.3,418.0 107.7,420.2 110.0,422.0 112.3,422.6 114.7,422.0 117.0,421.6 119.3,421.3 121.6,422.0 124.0,423.2 126.3,424.6 128.6,421.7 131.0,413.9 133.3,412.6 135.6,412.5 138.0,412.6 140.3,411.8 142.6,410.4 144.9,408.4 147.3,407.2 149.6,405.9 151.9,405.2 154.3,405.0 156.6,405.0 158.9,405.3 161.2,406.0 163.6,407.2 165.9,408.7 168.2,410.2 170.6,412.3 172.9,414.6 175.2,417.1 177.5,419.5 179.9,419.9 182.2,420.3 184.5,420.8 186.9,421.3 189.2,421.7 191.5,421.4 193.9,418.9 196.2,416.4 198.5,414.4 200.8,412.8 203.2,412.2 205.5,412.2 207.8,410.8 210.2,410.2 212.5,409.9 214.8,409.9 217.1,410.1 219.5,410.4 221.8,411.1 224.1,411.7 226.5,412.3 228.8,413.1 231.1,413.7 233.4,413.8 235.8,413.3 238.1,412.7 240.4,412.2 242.8,412.0 245.1,413.1 247.4,414.3 249.7,415.7 252.1,417.0 254.4,415.8 256.7,415.3 259.1,415.5 261.4,416.0 263.7,417.5 266.1,418.2 268.4,418.5 270.7,418.8 273.0,419.2 275.4,419.8 277.7,420.4 280.0,421.0 282.4,422.0 284.7,423.3 287.0,424.7 289.3,426.6 291.7,428.9 294.0,431.2 296.3,433.6 298.7,436.0 301.0,437.9 303.3,439.5 305.6,439.5 308.0,438.5 310.3,434.3 312.6,430.0 315.0,428.2 317.3,426.7 319.6,425.2 322.0,423.9 324.3,423.5 326.6,423.7 328.9,424.1 331.3,425.0 333.6,426.5 335.9,427.3 338.3,427.5 340.6,425.8 342.9,422.4 345.2,419.5 347.6,417.8 349.9,417.5 352.2,417.7 354.6,418.7 356.9,420.3 359.2,421.3 361.5,422.2 363.9,422.9 366.2,423.0 368.5,421.9 370.9,420.2 373.2,418.2 375.5,415.6 377.8,413.2 380.2,411.6 382.5,410.9 384.8,411.2 387.2,411.8 389.5,412.6 391.8,413.8 394.2,415.5 396.5,417.1 398.8,418.2 401.1,418.8 403.5,419.2 405.8,419.2 408.1,419.0 410.5,418.6 412.8,418.1 415.1,417.3 417.4,416.2 419.8,414.8 422.1,412.6 424.4,410.6 426.8,408.9 429.1,407.9 431.4,407.3 433.7,406.9 436.1,406.7 438.4,406.6 440.7,406.6"/>
<path d="M93.7,404.9 96.0,405.3 98.4,405.8 100.7,406.2 103.0,406.2 105.3,405.9 107.7,405.8 110.0,405.9 112.3,405.4 114.7,404.4 117.0,404.6 119.3,405.7 121.6,408.1 124.0,411.3 126.3,414.8 128.6,416.4 131.0,415.8 133.3,416.6 135.6,417.5 138.0,418.0 140.3,418.1 142.6,417.7 144.9,416.3 147.3,415.3 149.6,414.1 151.9,413.6 154.3,413.4 156.6,413.0 158.9,413.8 161.2,416.7 163.6,419.5 165.9,421.0 168.2,420.4 170.6,418.3 172.9,417.6 175.2,418.1 177.5,418.9 179.9,419.6 182.2,420.1 184.5,420.6 186.9,421.0 189.2,421.3 191.5,421.4 193.9,421.0 196.2,420.5 198.5,419.9 200.8,419.3 203.2,418.9 205.5,418.7 207.8,417.1 210.2,416.6 212.5,416.4 214.8,416.8 217.1,417.5 219.5,418.4 221.8,419.3 224.1,420.1 226.5,420.6 228.8,420.9 231.1,420.6 233.4,420.0 235.8,419.1 238.1,418.1 240.4,417.8 242.8,417.6 245.1,418.1 247.4,418.6 249.7,419.2 252.1,419.8 254.4,418.6 256.7,417.6 259.1,417.9 261.4,418.7 263.7,421.1 266.1,422.6 268.4,423.8 270.7,425.0 273.0,426.2 275.4,427.3 277.7,428.3 280.0,429.2 282.4,430.1 284.7,431.3 287.0,433.2 289.3,435.2 291.7,437.5 294.0,439.6 296.3,441.1 298.7,442.8 301.0,443.9 303.3,445.0 305.6,445.3 308.0,444.6 310.3,438.7 312.6,433.5 315.0,433.5 317.3,434.5 319.6,435.6 322.0,436.8 324.3,439.2 326.6,442.1 328.9,444.4 331.3,446.4 333.6,447.9 335.9,446.1 338.3,442.7 340.6,436.4 342.9,428.5 345.2,421.8 347.6,418.3 349.9,416.8 352.2,416.2 354.6,416.7 356.9,418.0 359.2,422.0 361.5,429.0 363.9,435.8 366.2,440.5 368.5,443.4 370.9,444.4 373.2,443.7 375.5,438.0 377.8,430.6 380.2,423.7 382.5,421.8 384.8,421.8 387.2,421.9 389.5,422.4 391.8,424.1 394.2,427.3 396.5,430.1 398.8,430.5 401.1,429.2 403.5,428.1 405.8,426.4 408.1,424.8 410.5,424.9 412.8,426.8 415.1,429.6 417.4,429.4 419.8,427.0 422.1,422.5 424.4,418.4 426.8,415.9 429.1,414.4 431.4,414.6 433.7,415.5 436.1,417.3 438.4,418.9 440.7,420.5"/>
</g>
<path d="M93.7,387.76C94.24,387.99 95.61,388.32 96.91,389.11C98.21,389.9 99.96,391.59 101.48,392.49C103,393.39 104.47,393.62 106.05,394.52C107.63,395.42 109.43,397.52 110.99,397.9C112.55,398.28 114,396.89 115.44,396.82C116.88,396.75 118.32,396.92 119.64,397.49C120.95,398.07 122.19,399.11 123.34,400.27C124.49,401.43 125.73,403.5 126.55,404.46C127.37,405.41 127.79,406.51 128.28,406.01C128.77,405.52 128.77,402.72 129.51,401.48C130.26,400.24 131.29,399.35 132.73,398.58C134.17,397.8 136.02,397.29 138.16,396.82C140.3,396.35 143.31,396.01 145.57,395.74C147.83,395.47 149.48,395.4 151.75,395.2C154.01,394.99 156.89,394.7 159.16,394.52C161.42,394.34 163.68,394.41 165.33,394.11C166.98,393.82 167.59,392.88 169.03,392.76C170.48,392.65 172.12,393.03 173.98,393.44C175.83,393.84 177.99,394.63 180.15,395.2C182.31,395.76 184.68,396.44 186.94,396.82C189.21,397.2 191.37,397 193.74,397.49C196.1,397.99 199.19,398.99 201.14,399.79C203.1,400.59 203.62,402.22 205.47,402.29C207.32,402.37 210,400.83 212.26,400.27C214.52,399.7 216.79,398.91 219.05,398.91C221.32,398.91 223.58,399.35 225.85,400.27C228.11,401.18 230.58,403.7 232.64,404.39C234.7,405.08 236.36,404.84 238.19,404.39C240.03,403.94 242.04,401.82 243.63,401.69C245.21,401.55 246.35,402.55 247.7,403.58C249.06,404.6 250.17,407.39 251.78,407.84C253.39,408.29 255.28,406.86 257.34,406.28C259.4,405.71 262.09,404.58 264.13,404.39C266.17,404.2 267.51,404.46 269.56,405.13C271.62,405.81 273.99,407.53 276.48,408.45C278.97,409.36 282.04,410.16 284.51,410.61C286.98,411.06 289.47,411.43 291.3,411.15C293.13,410.87 293.65,409.47 295.5,408.92C297.35,408.37 300.15,407.92 302.42,407.84C304.68,407.76 307.03,408.19 309.08,408.45C311.14,408.7 312.79,409.14 314.76,409.39C316.74,409.64 318.78,409.55 320.94,409.93C323.1,410.32 325.47,411.19 327.73,411.69C330,412.19 332.36,412.82 334.52,412.91C336.69,413 338.74,412.87 340.7,412.23C342.66,411.59 344.4,409.82 346.26,409.05C348.11,408.29 349.86,407.49 351.81,407.63C353.77,407.78 355.93,409.82 357.99,409.93C360.05,410.05 361.9,409.16 364.16,408.31C366.43,407.47 369.31,405.9 371.57,404.86C373.84,403.83 375.49,402.65 377.75,402.09C380.01,401.53 382.69,401.87 385.16,401.48C387.63,401.1 390.31,400 392.57,399.79C394.83,399.59 396.48,400.38 398.75,400.27C401.01,400.15 403.77,399.2 406.15,399.12C408.54,399.04 410.81,399.83 413.07,399.79C415.34,399.76 417.6,399.36 419.74,398.91C421.88,398.46 423.65,397.6 425.91,397.09C428.18,396.58 430.85,396.26 433.32,395.87C435.8,395.49 439.5,394.97 440.74,394.79" fill="none" stroke="#f42828" stroke-width="1.5" stroke-linejoin="round"/>
<path d="M93.7,431.29C94.05,432.24 94.87,434.09 95.8,436.97C96.73,439.86 98.1,444.97 99.26,448.6C100.41,452.23 101.58,455.51 102.72,458.74C103.85,461.97 104.88,465.52 106.05,468C107.22,470.48 108.58,472.27 109.75,473.61C110.93,474.95 111.85,475.59 113.09,476.05C114.32,476.5 115.66,476.27 117.17,476.32C118.67,476.36 120.66,476.56 122.11,476.32C123.55,476.07 124.99,476.07 125.81,474.83C126.63,473.59 126.55,471.79 127.05,468.88C127.54,465.97 128.3,461.94 128.77,457.39C129.25,452.84 129.43,445.92 129.89,441.57C130.34,437.22 130.65,433.39 131.49,431.29C132.33,429.2 133.84,429.12 134.95,429C136.06,428.87 137.01,430.75 138.16,430.55C139.31,430.35 140.84,429.2 141.87,427.78C142.89,426.36 143.18,423.1 144.34,422.03C145.49,420.96 147.26,421.24 148.78,421.36C150.3,421.47 152.16,422.71 153.47,422.71C154.79,422.71 155.74,421.27 156.69,421.36C157.63,421.45 158.33,421.59 159.16,423.25C159.98,424.91 160.8,429.01 161.62,431.29C162.45,433.58 163.33,435.95 164.09,436.97C164.86,438 165.37,438.39 166.19,437.45C167.02,436.5 168.25,433.86 169.03,431.29C169.82,428.73 170.21,424.07 170.89,422.03C171.57,419.99 172.18,419.06 173.11,419.06C174.04,419.06 175.11,420.66 176.44,422.03C177.78,423.41 179.57,425.58 181.14,427.31C182.7,429.03 184.55,430.76 185.83,432.38C187.11,433.99 187.68,435.74 188.8,436.97C189.91,438.2 191.27,439.54 192.5,439.74C193.73,439.95 195.03,439.8 196.2,438.19C197.38,436.58 198.51,432.11 199.54,430.08C200.57,428.05 201.17,427.45 202.38,426.02C203.59,424.59 204.97,422.38 206.83,421.49C208.68,420.6 211,420.6 213.5,420.68C215.99,420.76 219.09,421.53 221.77,421.97C224.45,422.4 226.81,423.09 229.55,423.32C232.29,423.54 236.14,422.87 238.19,423.32C240.25,423.77 240.54,424.89 241.9,426.02C243.26,427.15 244.7,429.49 246.35,430.08C247.99,430.66 249.95,430.44 251.78,429.54C253.61,428.64 255.73,425.26 257.34,424.67C258.94,424.08 259.87,423.99 261.41,426.02C262.96,428.05 264.56,433.22 266.6,436.84C268.64,440.45 271.58,444.87 273.64,447.72C275.7,450.57 277.65,452.71 278.95,453.94C280.25,455.17 280.27,453.86 281.42,455.09C282.57,456.32 284.43,458.02 285.87,461.31C287.31,464.6 288.69,470.09 290.06,474.83C291.44,479.57 292.78,485.48 294.14,489.77C295.5,494.06 296.84,497.87 298.22,500.58C299.6,503.3 301.3,504.92 302.42,506.06C303.53,507.2 304,507.86 304.88,507.41C305.77,506.96 306.9,506.29 307.73,503.36C308.55,500.43 309.35,494.82 309.82,489.84C310.3,484.86 310.22,478.46 310.57,473.48C310.92,468.5 311.22,462.92 311.92,459.96C312.62,456.99 313.67,456.54 314.76,455.7C315.86,454.85 317.09,455.26 318.47,454.89C319.85,454.51 321.89,452.82 323.04,453.47C324.19,454.11 324.6,457.07 325.39,458.74C326.17,460.41 326.95,462.51 327.73,463.47C328.51,464.43 329.15,463.36 330.08,464.49C331.01,465.61 332.14,468.89 333.29,470.23C334.44,471.57 335.97,472.02 337,472.53C338.02,473.04 338.77,475.01 339.46,473.27C340.16,471.54 340.64,466.63 341.19,462.12C341.75,457.61 342.26,451.57 342.8,446.23C343.33,440.89 343.83,433.62 344.4,430.08C344.98,426.54 345.23,426.09 346.26,425.01C347.29,423.93 348.89,423.59 350.58,423.59C352.27,423.59 354.84,423.54 356.38,425.01C357.93,426.47 358.75,428.84 359.84,432.38C360.93,435.91 361.8,442.79 362.93,446.23C364.06,449.68 365.61,451.74 366.63,453.06C367.66,454.38 368.08,454.33 369.1,454.14C370.13,453.95 371.57,454.39 372.81,451.91C374.04,449.43 375.38,443.67 376.51,439.27C377.65,434.88 378.57,428.3 379.6,425.55C380.63,422.8 381.15,422.99 382.69,422.78C384.23,422.56 387.22,423.24 388.87,424.26C390.51,425.29 391.42,426.81 392.57,428.93C393.72,431.05 394.75,435.32 395.78,436.97C396.81,438.63 397.43,438.87 398.75,438.87C400.06,438.87 402.04,438.05 403.68,436.97C405.33,435.89 407.25,432.94 408.62,432.38C410,431.81 411.03,432.44 411.96,433.59C412.89,434.74 413.42,438.07 414.18,439.27C414.94,440.48 415.6,441.21 416.53,440.83C417.46,440.44 418.59,439.06 419.74,436.97C420.89,434.89 422.42,430.33 423.44,428.32C424.47,426.31 424.89,425.8 425.91,424.94C426.94,424.08 428.38,422.93 429.62,423.18C430.86,423.43 432.09,424.91 433.32,426.43C434.56,427.95 435.79,430.53 437.03,432.31C438.26,434.09 440.12,436.31 440.74,437.11" fill="none" stroke="#f42828" stroke-width="1.5" stroke-linejoin="round"/>
<path d="M93.7,408.24C94.65,408.82 97.32,410.34 99.38,411.69C101.44,413.04 103.77,414.74 106.05,416.35C108.33,417.97 110.97,420.29 113.09,421.36C115.21,422.43 116.86,422.84 118.77,422.78C120.68,422.71 122.85,421.83 124.58,420.95C126.3,420.07 127.21,418.57 129.14,417.5C131.08,416.43 133.86,415.41 136.18,414.53C138.51,413.65 140.79,413.14 143.1,412.23C145.41,411.32 147.75,409.44 150.02,409.05C152.28,408.67 153.99,409.79 156.69,409.93C159.38,410.08 163.11,410.2 166.19,409.93C169.28,409.66 172.55,408.39 175.21,408.31C177.87,408.23 179.45,408.95 182.13,409.46C184.8,409.97 188.1,410.98 191.26,411.35C194.43,411.72 197.85,411.5 201.14,411.69C204.44,411.88 206.7,412.37 211.02,412.5C215.35,412.64 222.14,412.29 227.08,412.5C232.02,412.72 236.14,413.11 240.67,413.79C245.19,414.46 249.72,415.87 254.25,416.56C258.78,417.24 263.31,417.46 267.83,417.91C272.36,418.36 277.72,419.14 281.42,419.26C285.12,419.39 287.27,418.2 290.06,418.65C292.86,419.1 295.95,421.05 298.22,421.97C300.48,422.88 301.84,423.91 303.65,424.13C305.46,424.34 307.44,423.71 309.08,423.25C310.73,422.79 311.55,421.56 313.53,421.36C315.51,421.15 318.57,421.27 320.94,422.03C323.31,422.8 325.67,424.52 327.73,425.95C329.79,427.38 331.75,430.3 333.29,430.62C334.83,430.93 335.76,429.65 337,427.85C338.23,426.04 339.16,421.71 340.7,419.8C342.24,417.9 343.79,417.19 346.26,416.42C348.73,415.66 352.12,415.03 355.52,415.21C358.92,415.39 363.55,417.5 366.63,417.5C369.72,417.5 371.37,416.23 374.05,415.21C376.72,414.18 379.6,412.12 382.69,411.35C385.78,410.59 388.66,410.73 392.57,410.61C396.48,410.48 401.63,410.69 406.15,410.61C410.68,410.53 416.24,410.7 419.74,410.14C423.24,409.57 423.65,407.78 427.15,407.23C430.65,406.68 438.47,406.89 440.74,406.82" fill="none" stroke="#8e1f99" stroke-width="1.5" stroke-linejoin="round"/>
<line x1="93.5" y1="381.5" x2="440.5" y2="381.5" stroke="#555" stroke-width="1"/>
<line x1="440.8" y1="381.5" x2="440.8" y2="516.5" stroke="#777" stroke-width="1.4"/>
<line x1="93.5" y1="370" x2="93.5" y2="516.5" stroke="#555" stroke-width="1"/>
<line x1="93.5" y1="516.5" x2="453" y2="516.5" stroke="#555" stroke-width="1"/>
<path d="M93.7,367 l-2.2,6 l4.4,0 Z" fill="#222"/>
<path d="M456.5,516.2 l-6,-2.2 l0,4.4 Z" fill="#222"/>
<path d="M93.7,516.2v2.8M93.7,381v-2.8M96.17,516.2v1.3M96.17,381v-1.3M98.64,516.2v1.3M98.64,381v-1.3M101.11,516.2v1.3M101.11,381v-1.3M103.58,516.2v1.3M103.58,381v-1.3M106.05,516.2v2M106.05,381v-2M108.52,516.2v1.3M108.52,381v-1.3M110.99,516.2v1.3M110.99,381v-1.3M113.46,516.2v1.3M113.46,381v-1.3M115.93,516.2v1.3M115.93,381v-1.3M118.4,516.2v2.8M118.4,381v-2.8M120.87,516.2v1.3M120.87,381v-1.3M123.34,516.2v1.3M123.34,381v-1.3M125.81,516.2v1.3M125.81,381v-1.3M128.28,516.2v1.3M128.28,381v-1.3M130.75,516.2v2M130.75,381v-2M133.22,516.2v1.3M133.22,381v-1.3M135.69,516.2v1.3M135.69,381v-1.3M138.16,516.2v1.3M138.16,381v-1.3M140.63,516.2v1.3M140.63,381v-1.3M143.1,516.2v2.8M143.1,381v-2.8M145.57,516.2v1.3M145.57,381v-1.3M148.04,516.2v1.3M148.04,381v-1.3M150.51,516.2v1.3M150.51,381v-1.3M152.98,516.2v1.3M152.98,381v-1.3M155.45,516.2v2M155.45,381v-2M157.92,516.2v1.3M157.92,381v-1.3M160.39,516.2v1.3M160.39,381v-1.3M162.86,516.2v1.3M162.86,381v-1.3M165.33,516.2v1.3M165.33,381v-1.3M167.8,516.2v2.8M167.8,381v-2.8M170.27,516.2v1.3M170.27,381v-1.3M172.74,516.2v1.3M172.74,381v-1.3M175.21,516.2v1.3M175.21,381v-1.3M177.68,516.2v1.3M177.68,381v-1.3M180.15,516.2v2M180.15,381v-2M182.62,516.2v1.3M182.62,381v-1.3M185.09,516.2v1.3M185.09,381v-1.3M187.56,516.2v1.3M187.56,381v-1.3M190.03,516.2v1.3M190.03,381v-1.3M192.5,516.2v2.8M192.5,381v-2.8M194.97,516.2v1.3M194.97,381v-1.3M197.44,516.2v1.3M197.44,381v-1.3M199.91,516.2v1.3M199.91,381v-1.3M202.38,516.2v1.3M202.38,381v-1.3M204.85,516.2v2M204.85,381v-2M207.32,516.2v1.3M207.32,381v-1.3M209.79,516.2v1.3M209.79,381v-1.3M212.26,516.2v1.3M212.26,381v-1.3M214.73,516.2v1.3M214.73,381v-1.3M217.2,516.2v2.8M217.2,381v-2.8M219.67,516.2v1.3M219.67,381v-1.3M222.14,516.2v1.3M222.14,381v-1.3M224.61,516.2v1.3M224.61,381v-1.3M227.08,516.2v1.3M227.08,381v-1.3M229.55,516.2v2M229.55,381v-2M232.02,516.2v1.3M232.02,381v-1.3M234.49,516.2v1.3M234.49,381v-1.3M236.96,516.2v1.3M236.96,381v-1.3M239.43,516.2v1.3M239.43,381v-1.3M241.9,516.2v2.8M241.9,381v-2.8M244.37,516.2v1.3M244.37,381v-1.3M246.84,516.2v1.3M246.84,381v-1.3M249.31,516.2v1.3M249.31,381v-1.3M251.78,516.2v1.3M251.78,381v-1.3M254.25,516.2v2M254.25,381v-2M256.72,516.2v1.3M256.72,381v-1.3M259.19,516.2v1.3M259.19,381v-1.3M261.66,516.2v1.3M261.66,381v-1.3M264.13,516.2v1.3M264.13,381v-1.3M266.6,516.2v2.8M266.6,381v-2.8M269.07,516.2v1.3M269.07,381v-1.3M271.54,516.2v1.3M271.54,381v-1.3M274.01,516.2v1.3M274.01,381v-1.3M276.48,516.2v1.3M276.48,381v-1.3M278.95,516.2v2M278.95,381v-2M281.42,516.2v1.3M281.42,381v-1.3M283.89,516.2v1.3M283.89,381v-1.3M286.36,516.2v1.3M286.36,381v-1.3M288.83,516.2v1.3M288.83,381v-1.3M291.3,516.2v2.8M291.3,381v-2.8M293.77,516.2v1.3M293.77,381v-1.3M296.24,516.2v1.3M296.24,381v-1.3M298.71,516.2v1.3M298.71,381v-1.3M301.18,516.2v1.3M301.18,381v-1.3M303.65,516.2v2M303.65,381v-2M306.12,516.2v1.3M306.12,381v-1.3M308.59,516.2v1.3M308.59,381v-1.3M311.06,516.2v1.3M311.06,381v-1.3M313.53,516.2v1.3M313.53,381v-1.3M316,516.2v2.8M316,381v-2.8M318.47,516.2v1.3M318.47,381v-1.3M320.94,516.2v1.3M320.94,381v-1.3M323.41,516.2v1.3M323.41,381v-1.3M325.88,516.2v1.3M325.88,381v-1.3M328.35,516.2v2M328.35,381v-2M330.82,516.2v1.3M330.82,381v-1.3M333.29,516.2v1.3M333.29,381v-1.3M335.76,516.2v1.3M335.76,381v-1.3M338.23,516.2v1.3M338.23,381v-1.3M340.7,516.2v2.8M340.7,381v-2.8M343.17,516.2v1.3M343.17,381v-1.3M345.64,516.2v1.3M345.64,381v-1.3M348.11,516.2v1.3M348.11,381v-1.3M350.58,516.2v1.3M350.58,381v-1.3M353.05,516.2v2M353.05,381v-2M355.52,516.2v1.3M355.52,381v-1.3M357.99,516.2v1.3M357.99,381v-1.3M360.46,516.2v1.3M360.46,381v-1.3M362.93,516.2v1.3M362.93,381v-1.3M365.4,516.2v2.8M365.4,381v-2.8M367.87,516.2v1.3M367.87,381v-1.3M370.34,516.2v1.3M370.34,381v-1.3M372.81,516.2v1.3M372.81,381v-1.3M375.28,516.2v1.3M375.28,381v-1.3M377.75,516.2v2M377.75,381v-2M380.22,516.2v1.3M380.22,381v-1.3M382.69,516.2v1.3M382.69,381v-1.3M385.16,516.2v1.3M385.16,381v-1.3M387.63,516.2v1.3M387.63,381v-1.3M390.1,516.2v2.8M390.1,381v-2.8M392.57,516.2v1.3M392.57,381v-1.3M395.04,516.2v1.3M395.04,381v-1.3M397.51,516.2v1.3M397.51,381v-1.3M399.98,516.2v1.3M399.98,381v-1.3M402.45,516.2v2M402.45,381v-2M404.92,516.2v1.3M404.92,381v-1.3M407.39,516.2v1.3M407.39,381v-1.3M409.86,516.2v1.3M409.86,381v-1.3M412.33,516.2v1.3M412.33,381v-1.3M414.8,516.2v2.8M414.8,381v-2.8M417.27,516.2v1.3M417.27,381v-1.3M419.74,516.2v1.3M419.74,381v-1.3M422.21,516.2v1.3M422.21,381v-1.3M424.68,516.2v1.3M424.68,381v-1.3M427.15,516.2v2M427.15,381v-2M429.62,516.2v1.3M429.62,381v-1.3M432.09,516.2v1.3M432.09,381v-1.3M434.56,516.2v1.3M434.56,381v-1.3M437.03,516.2v1.3M437.03,381v-1.3M439.5,516.2v2.8M439.5,381v-2.8M93.7,381h-2.6M93.7,387.76h-1.6M93.7,394.52h-1.6M93.7,401.28h-1.6M93.7,408.04h-1.6M93.7,414.8h-2.6M93.7,421.56h-1.6M93.7,428.32h-1.6M93.7,435.08h-1.6M93.7,441.84h-1.6M93.7,448.6h-2.6M93.7,455.36h-1.6M93.7,462.12h-1.6M93.7,468.88h-1.6M93.7,475.64h-1.6M93.7,482.4h-2.6M93.7,489.16h-1.6M93.7,495.92h-1.6M93.7,502.68h-1.6M93.7,509.44h-1.6M93.7,516.2h-2.6" stroke="#444" stroke-width="0.7" fill="none"/>
<text x="87.7" y="383.3" style="font-family:'Liberation Sans','DejaVu Sans',sans-serif;font-size:6.3px;stroke:#3c3c50;stroke-width:0.22" fill="#3c3c50" text-anchor="end">50</text>
<text x="87.7" y="417.1" style="font-family:'Liberation Sans','DejaVu Sans',sans-serif;font-size:6.3px;stroke:#3c3c50;stroke-width:0.22" fill="#3c3c50" text-anchor="end">0</text>
<text x="87.7" y="450.9" style="font-family:'Liberation Sans','DejaVu Sans',sans-serif;font-size:6.3px;stroke:#3c3c50;stroke-width:0.22" fill="#3c3c50" text-anchor="end">50</text>
<line x1="76.29" y1="448.5" x2="79.49" y2="448.5" stroke="#7a7a88" stroke-width="0.75"/>
<text x="87.7" y="484.7" style="font-family:'Liberation Sans','DejaVu Sans',sans-serif;font-size:6.3px;stroke:#3c3c50;stroke-width:0.22" fill="#3c3c50" text-anchor="end">100</text>
<line x1="72.79" y1="482.5" x2="75.99" y2="482.5" stroke="#7a7a88" stroke-width="0.75"/>
<text x="87.7" y="518.5" style="font-family:'Liberation Sans','DejaVu Sans',sans-serif;font-size:6.3px;stroke:#3c3c50;stroke-width:0.22" fill="#3c3c50" text-anchor="end">150</text>
<line x1="72.79" y1="516.5" x2="75.99" y2="516.5" stroke="#7a7a88" stroke-width="0.75"/>
<text x="87.2" y="375.8" style="font-family:'Liberation Sans','DejaVu Sans',sans-serif;font-size:6.3px;" fill="#3c3c50" text-anchor="end">µm</text>
<text x="93.7" y="525.8" style="font-family:'Liberation Sans','DejaVu Sans',sans-serif;font-size:6.3px;stroke:#3c3c50;stroke-width:0.22" fill="#3c3c50" text-anchor="middle">0.0</text>
<text x="118.4" y="525.8" style="font-family:'Liberation Sans','DejaVu Sans',sans-serif;font-size:6.3px;stroke:#3c3c50;stroke-width:0.22" fill="#3c3c50" text-anchor="middle">0.2</text>
<text x="143.1" y="525.8" style="font-family:'Liberation Sans','DejaVu Sans',sans-serif;font-size:6.3px;stroke:#3c3c50;stroke-width:0.22" fill="#3c3c50" text-anchor="middle">0.4</text>
<text x="167.8" y="525.8" style="font-family:'Liberation Sans','DejaVu Sans',sans-serif;font-size:6.3px;stroke:#3c3c50;stroke-width:0.22" fill="#3c3c50" text-anchor="middle">0.6</text>
<text x="192.5" y="525.8" style="font-family:'Liberation Sans','DejaVu Sans',sans-serif;font-size:6.3px;stroke:#3c3c50;stroke-width:0.22" fill="#3c3c50" text-anchor="middle">0.8</text>
<text x="217.2" y="525.8" style="font-family:'Liberation Sans','DejaVu Sans',sans-serif;font-size:6.3px;stroke:#3c3c50;stroke-width:0.22" fill="#3c3c50" text-anchor="middle">1.0</text>
<text x="241.9" y="525.8" style="font-family:'Liberation Sans','DejaVu Sans',sans-serif;font-size:6.3px;stroke:#3c3c50;stroke-width:0.22" fill="#3c3c50" text-anchor="middle">1.2</text>
<text x="266.6" y="525.8" style="font-family:'Liberation Sans','DejaVu Sans',sans-serif;font-size:6.3px;stroke:#3c3c50;stroke-width:0.22" fill="#3c3c50" text-anchor="middle">1.4</text>
<text x="291.3" y="525.8" style="font-family:'Liberation Sans','DejaVu Sans',sans-serif;font-size:6.3px;stroke:#3c3c50;stroke-width:0.22" fill="#3c3c50" text-anchor="middle">1.6</text>
<text x="316" y="525.8" style="font-family:'Liberation Sans','DejaVu Sans',sans-serif;font-size:6.3px;stroke:#3c3c50;stroke-width:0.22" fill="#3c3c50" text-anchor="middle">1.8</text>
<text x="340.7" y="525.8" style="font-family:'Liberation Sans','DejaVu Sans',sans-serif;font-size:6.3px;stroke:#3c3c50;stroke-width:0.22" fill="#3c3c50" text-anchor="middle">2.0</text>
<text x="365.4" y="525.8" style="font-family:'Liberation Sans','DejaVu Sans',sans-serif;font-size:6.3px;stroke:#3c3c50;stroke-width:0.22" fill="#3c3c50" text-anchor="middle">2.2</text>
<text x="390.1" y="525.8" style="font-family:'Liberation Sans','DejaVu Sans',sans-serif;font-size:6.3px;stroke:#3c3c50;stroke-width:0.22" fill="#3c3c50" text-anchor="middle">2.4</text>
<text x="414.8" y="525.8" style="font-family:'Liberation Sans','DejaVu Sans',sans-serif;font-size:6.3px;stroke:#3c3c50;stroke-width:0.22" fill="#3c3c50" text-anchor="middle">2.6</text>
<text x="439.5" y="525.8" style="font-family:'Liberation Sans','DejaVu Sans',sans-serif;font-size:6.3px;stroke:#3c3c50;stroke-width:0.22" fill="#3c3c50" text-anchor="middle">2.8</text>
<text x="446.1" y="525.8" style="font-family:'Liberation Sans','DejaVu Sans',sans-serif;font-size:6.3px;stroke:#3c3c50;stroke-width:0.22" fill="#3c3c50" text-anchor="start">mm</text>
<rect x="159.6" y="340.4" width="215.9" height="34.2" fill="#fff" stroke="#555" stroke-width="0.9"/>
<line x1="162.5" y1="346.7" x2="176.5" y2="346.7" stroke="#8e1f99" stroke-width="1.5"/>
<line x1="162.5" y1="353.9" x2="176.5" y2="353.9" stroke="#f42828" stroke-width="1.5"/>
<line x1="162.5" y1="361.2" x2="176.5" y2="361.2" stroke="#f42828" stroke-width="1.5"/>
<line x1="162.5" y1="368.3" x2="176.5" y2="368.3" stroke="#d8d8d8" stroke-width="0.8"/>
<text x="185.7" y="348.4" style="font-family:'Liberation Sans','DejaVu Sans',sans-serif;font-size:6px;stroke:#3c3c50;stroke-width:0.15" fill="#3c3c50" text-anchor="start">Average curve</text>
<text x="185.7" y="356.6" style="font-family:'Liberation Sans','DejaVu Sans',sans-serif;font-size:6px;stroke:#3c3c50;stroke-width:0.15" fill="#3c3c50" text-anchor="start">Lower boundary</text>
<text x="185.7" y="364.8" style="font-family:'Liberation Sans','DejaVu Sans',sans-serif;font-size:6px;stroke:#3c3c50;stroke-width:0.15" fill="#3c3c50" text-anchor="start">Top boundary</text>
<text x="185.7" y="373.1" style="font-family:'Liberation Sans','DejaVu Sans',sans-serif;font-size:6px;stroke:#3c3c50;stroke-width:0.15" fill="#3c3c50" text-anchor="start">All curves</text>
<defs><filter id="bl3" x="-20%" y="-20%" width="140%" height="140%"><feGaussianBlur stdDeviation="2.5"/></filter><filter id="bl1" x="-20%" y="-20%" width="140%" height="140%"><feGaussianBlur stdDeviation="1.2"/></filter></defs>
<defs><filter id="fa" x="29.5" y="40.5" width="148" height="102" filterUnits="userSpaceOnUse" color-interpolation-filters="sRGB"><feGaussianBlur in="SourceGraphic" stdDeviation="1.5" result="h"/><feTurbulence type="fractalNoise" baseFrequency="0.07" numOctaves="2" seed="5" result="t"/><feColorMatrix in="t" type="matrix" values="1 0 0 0 0 1 0 0 0 0 1 0 0 0 0 0 0 0 0 1" result="tg"/><feComposite in="h" in2="tg" operator="arithmetic" k1="0" k2="1" k3="0.1" k4="-0.05" result="hn"/><feComponentTransfer in="hn"><feFuncR type="table" tableValues="0.000 0.000 0.000 0.000 0.000 0.000 0.000 0.000 0.000 0.000 0.000 0.000 0.000 0.000 0.000 0.000 0.000 0.000 0.000 0.000 0.000 0.000 0.000 0.000 0.000 0.000 0.000 0.000 0.000 0.000 0.000 0.000 0.000 0.000 0.000 0.000 0.000 0.000 0.000 0.000 0.000 0.000 0.000 0.000 0.000 0.000 0.000 0.000 0.000 0.000 0.009 0.030 0.052 0.073 0.175 0.303 0.431 0.558 0.686 0.771 0.820 0.869 0.918 0.967 1.000 1.000 1.000 1.000 1.000 1.000 1.000 1.000 1.000 1.000 1.000 1.000 1.000 1.000 1.000 1.000 1.000 1.000 1.000 1.000 1.000 1.000 1.000 1.000 1.000 1.000 1.000 1.000 1.000 1.000 1.000 1.000"/><feFuncG type="table" tableValues="0.000 0.000 0.000 0.000 0.000 0.000 0.000 0.000 0.000 0.000 0.000 0.000 0.000 0.000 0.000 0.000 0.000 0.000 0.000 0.000 0.000 0.000 0.000 0.000 0.000 0.000 0.000 0.000 0.016 0.035 0.054 0.072 0.124 0.192 0.260 0.327 0.395 0.463 0.530 0.598 0.665 0.733 0.792 0.825 0.858 0.891 0.921 0.916 0.910 0.905 0.895 0.879 0.863 0.847 0.857 0.876 0.895 0.914 0.933 0.939 0.935 0.932 0.928 0.924 0.902 0.841 0.780 0.719 0.660 0.613 0.566 0.519 0.472 0.430 0.387 0.345 0.303 0.279 0.260 0.242 0.293 0.381 0.468 0.540 0.596 0.652 0.709 0.765 0.811 0.833 0.855 0.877 0.899 0.921 0.943 0.965"/><feFuncB type="table" tableValues="0.000 0.000 0.000 0.000 0.000 0.000 0.000 0.000 0.000 0.000 0.000 0.000 0.000 0.000 0.000 0.000 0.000 0.000 0.000 0.000 0.000 0.000 0.000 0.000 0.000 0.136 0.274 0.412 0.548 0.684 0.820 0.957 1.000 1.000 1.000 1.000 1.000 1.000 1.000 1.000 1.000 1.000 0.995 0.977 0.958 0.939 0.915 0.813 0.711 0.609 0.496 0.367 0.238 0.110 0.067 0.052 0.037 0.022 0.007 0.000 0.000 0.000 0.000 0.000 0.000 0.000 0.000 0.000 0.001 0.011 0.020 0.030 0.039 0.048 0.058 0.067 0.076 0.088 0.101 0.113 0.192 0.305 0.417 0.502 0.562 0.622 0.683 0.743 0.792 0.817 0.841 0.866 0.891 0.915 0.940 0.965"/></feComponentTransfer></filter><clipPath id="ca"><rect x="29.5" y="40.5" width="148" height="102"/></clipPath></defs>
<g clip-path="url(#ca)"><g filter="url(#fa)">
<rect x="20" y="30" width="170" height="120" fill="#c3c3c3"/>
<g filter="url(#bl3)">
<polygon points="20,30 150,30 150,58 20,58.5" fill="#bcbcbc"/>
<ellipse cx="45" cy="50" rx="14" ry="7" fill="#c6c6c6"/>
<ellipse cx="110" cy="48" rx="10" ry="6" fill="#c4c4c4"/>
<polygon points="138,30 150,30 156,100 168,145 150,145 145,100" fill="#cecece"/>
<polygon points="20,58 45,58 50,95 20,95" fill="#cbcbcb"/>
<ellipse cx="90" cy="85" rx="8" ry="7" fill="#cbcbcb"/>
<ellipse cx="60" cy="96" rx="14" ry="5" fill="#cdcdcd"/>
<ellipse cx="140" cy="100" rx="10" ry="5" fill="#cdcdcd"/>
<polygon points="150,30 185,30 185,110 168,108 160,100 155,80 152,60" fill="#e3e3e3"/>
<polygon points="44,99 56,96 66,101 76,101 82,112 87,128 91,145 42,145" fill="#e7e7e7"/>
<polygon points="78,97 87,97 101,145 92,145" fill="#cfcfcf"/>
<polygon points="88,97 100,97 112,145 102,145" fill="#bababa"/>
</g>
<g filter="url(#bl1)">
<polygon points="93,96 99,96 111,145 105,145" fill="#b9b9b9"/>
<polygon points="106,96 112,96 124,145 118,145" fill="#b9b9b9"/>
<polygon points="119,96 125,96 137,145 131,145" fill="#b9b9b9"/>
<polygon points="132,96 138,96 150,145 144,145" fill="#b9b9b9"/>
<polygon points="145,96 151,96 163,145 157,145" fill="#b9b9b9"/>
<polygon points="99.5,96 104.5,96 116.5,145 111.5,145" fill="#cbcbcb"/>
<polygon points="112.5,96 117.5,96 129.5,145 124.5,145" fill="#cbcbcb"/>
<polygon points="125.5,96 130.5,96 142.5,145 137.5,145" fill="#cbcbcb"/>
<polygon points="138.5,96 143.5,96 155.5,145 150.5,145" fill="#cbcbcb"/>
<polygon points="62,61 66,61 70,94 66,94" fill="#bfbfbf"/>
<polygon points="75,61 79,61 83,94 79,94" fill="#bfbfbf"/>
<polygon points="88,61 92,61 96,94 92,94" fill="#bfbfbf"/>
<polygon points="101,61 105,61 109,94 105,94" fill="#bfbfbf"/>
<ellipse cx="35.75" cy="45.91" rx="4.88" ry="1.56" fill="#b6b6b6"/>
<ellipse cx="35.99" cy="46.14" rx="4.66" ry="2.42" fill="#bcbcbc"/>
<ellipse cx="38.21" cy="55.75" rx="2.53" ry="2.03" fill="#bababa"/>
<ellipse cx="131.92" cy="53.9" rx="5.88" ry="3.78" fill="#b9b9b9"/>
<ellipse cx="78.23" cy="53.13" rx="3.08" ry="4.06" fill="#c0c0c0"/>
<ellipse cx="119.77" cy="49.78" rx="2.67" ry="2.4" fill="#b7b7b7"/>
<ellipse cx="68.61" cy="48.82" rx="4.18" ry="2.15" fill="#bfbfbf"/>
<ellipse cx="115.75" cy="55.44" rx="3.07" ry="3.34" fill="#bcbcbc"/>
<ellipse cx="75.64" cy="47.98" rx="5.24" ry="3.3" fill="#c0c0c0"/>
<ellipse cx="87.82" cy="55.08" rx="5.44" ry="3.87" fill="#c0c0c0"/>
<ellipse cx="112.47" cy="48.72" rx="3.22" ry="3.96" fill="#b5b5b5"/>
<ellipse cx="77.35" cy="44.93" rx="4.36" ry="4.16" fill="#b8b8b8"/>
<ellipse cx="124.94" cy="54.56" rx="4.66" ry="2.23" fill="#bfbfbf"/>
<ellipse cx="85.18" cy="53.56" rx="3.84" ry="4.09" fill="#bdbdbd"/>
<ellipse cx="49.82" cy="44.05" rx="5.4" ry="2.6" fill="#b9b9b9"/>
<ellipse cx="34.86" cy="51.78" rx="5.22" ry="4.19" fill="#b6b6b6"/>
<ellipse cx="131.17" cy="44" rx="3.49" ry="2.65" fill="#bbbbbb"/>
<ellipse cx="90.31" cy="49.99" rx="4.09" ry="4.3" fill="#b7b7b7"/>
<ellipse cx="54.58" cy="54.87" rx="3.22" ry="3.53" fill="#c0c0c0"/>
<ellipse cx="38.26" cy="54.29" rx="2.14" ry="3.03" fill="#b9b9b9"/>
<ellipse cx="111.48" cy="54.25" rx="2.19" ry="1.72" fill="#bcbcbc"/>
<ellipse cx="114.06" cy="43.56" rx="4.46" ry="1.95" fill="#bababa"/>
<ellipse cx="145.67" cy="55.34" rx="4.77" ry="2.89" fill="#c0c0c0"/>
<ellipse cx="116.44" cy="41.04" rx="4.69" ry="3.24" fill="#bababa"/>
<ellipse cx="81.46" cy="47.18" rx="3.14" ry="3.82" fill="#bdbdbd"/>
<ellipse cx="49.21" cy="53.93" rx="5.14" ry="3.72" fill="#b7b7b7"/>
<ellipse cx="56.42" cy="70.84" rx="4.64" ry="4.28" fill="#c7c7c7"/>
<ellipse cx="41.14" cy="66.4" rx="2.78" ry="1.85" fill="#c4c4c4"/>
<ellipse cx="50.75" cy="65.54" rx="2.16" ry="2.47" fill="#c8c8c8"/>
<ellipse cx="54.96" cy="78.77" rx="2.67" ry="1.77" fill="#bbbbbb"/>
<ellipse cx="50.18" cy="68.98" rx="1.72" ry="3.83" fill="#c4c4c4"/>
<ellipse cx="51.94" cy="87.91" rx="2.68" ry="2.09" fill="#c1c1c1"/>
<ellipse cx="83.82" cy="71.06" rx="2.43" ry="4.14" fill="#c5c5c5"/>
<ellipse cx="89.5" cy="90.73" rx="2.46" ry="3.1" fill="#bcbcbc"/>
<ellipse cx="106.95" cy="88" rx="3.78" ry="2.11" fill="#cfcfcf"/>
<ellipse cx="32.84" cy="75.54" rx="4.81" ry="2.46" fill="#cacaca"/>
<ellipse cx="108.01" cy="84.46" rx="2.56" ry="4.41" fill="#c2c2c2"/>
<ellipse cx="106.1" cy="66.14" rx="4.78" ry="3.77" fill="#bababa"/>
<ellipse cx="83.03" cy="69.25" rx="3.32" ry="3.03" fill="#bbbbbb"/>
<ellipse cx="95.21" cy="92.8" rx="3.56" ry="2.71" fill="#c8c8c8"/>
<ellipse cx="61.66" cy="81.05" rx="3.01" ry="1.96" fill="#cccccc"/>
<ellipse cx="58.75" cy="65.27" rx="1.63" ry="2.87" fill="#bcbcbc"/>
<ellipse cx="86.3" cy="64.03" rx="1.51" ry="1.77" fill="#cbcbcb"/>
<ellipse cx="86.1" cy="89.52" rx="4.31" ry="2.19" fill="#c4c4c4"/>
<ellipse cx="73.25" cy="71.4" rx="2.79" ry="2.31" fill="#bbbbbb"/>
<ellipse cx="90.25" cy="85.38" rx="1.51" ry="2.22" fill="#bfbfbf"/>
<ellipse cx="93.33" cy="78.24" rx="3.13" ry="2.29" fill="#c6c6c6"/>
<ellipse cx="100.09" cy="93.79" rx="1.59" ry="3.07" fill="#bababa"/>
</g>
<ellipse cx="166" cy="50" rx="8" ry="9" fill="#e4e4e4"/>
<ellipse cx="171" cy="80" rx="5" ry="14" fill="#e3e3e3"/>
<ellipse cx="158" cy="70" rx="3" ry="8" fill="#e2e2e2"/>
<ellipse cx="170" cy="41.5" rx="3" ry="2" fill="#c7c7c7"/>
<ellipse cx="60" cy="130" rx="11" ry="11" fill="#f0f0f0"/>
<ellipse cx="66" cy="137" rx="9" ry="7" fill="#eeeeee"/>
<ellipse cx="52" cy="118" rx="6" ry="8" fill="#ebebeb"/>
<ellipse cx="88" cy="126" rx="5" ry="7" fill="#dcdcdc"/>
<ellipse cx="96" cy="133" rx="4" ry="6" fill="#dcdcdc"/>
<ellipse cx="101" cy="134" rx="5" ry="6" fill="#dbdbdb"/>
<ellipse cx="34.5" cy="85" rx="2.5" ry="7" fill="#dcdcdc"/>
<ellipse cx="56" cy="80" rx="3.5" ry="13" fill="#d9d9d9"/>
<ellipse cx="47" cy="76" rx="4" ry="10" fill="#d5d5d5"/>
<ellipse cx="72" cy="82" rx="4" ry="9" fill="#d2d2d2"/>
<ellipse cx="70" cy="86" rx="2.5" ry="4" fill="#d6d6d6"/>
<ellipse cx="32" cy="108" rx="3.5" ry="9" fill="#acacac"/>
<ellipse cx="44" cy="108" rx="13" ry="8.5" fill="#aeaeae"/>
<ellipse cx="59" cy="110" rx="3.5" ry="5.5" fill="#a0a0a0"/>
<ellipse cx="42.6" cy="102.3" rx="2" ry="1.6" fill="#a3a3a3"/>
<ellipse cx="38.5" cy="109.8" rx="3.2" ry="4.6" fill="#e7e7e7"/>
<ellipse cx="54" cy="132.5" rx="7" ry="3" fill="#aeaeae"/>
<ellipse cx="40" cy="130" rx="10.5" ry="10.5" fill="#aaaaaa"/>
<ellipse cx="38.2" cy="126.8" rx="7.4" ry="6.4" fill="#767676" transform="rotate(35 38.2 126.8)"/>
<ellipse cx="38" cy="126.6" rx="5.8" ry="5" fill="#5c5c5c" transform="rotate(35 38 126.6)"/>
<ellipse cx="37.6" cy="126.3" rx="4.2" ry="3.4" fill="#4c4c4c" transform="rotate(35 37.6 126.3)"/>
<ellipse cx="31" cy="48" rx="2.6" ry="7" fill="#aeaeae"/>
<ellipse cx="84" cy="51" rx="5" ry="4" fill="#afafaf"/>
<ellipse cx="70" cy="41" rx="2.5" ry="1.5" fill="#9a9a9a"/>
<ellipse cx="37.5" cy="68" rx="2.5" ry="3" fill="#b2b2b2"/>
<ellipse cx="36.8" cy="82.6" rx="3.5" ry="3.5" fill="#a5a5a5"/>
<ellipse cx="36.8" cy="82.6" rx="1.8" ry="1.8" fill="#878787"/>
<ellipse cx="97" cy="64" rx="4" ry="2.5" fill="#b2b2b2"/>
<ellipse cx="101" cy="64" rx="1.5" ry="2" fill="#b1b1b1"/>
<ellipse cx="103.5" cy="114" rx="1.5" ry="4" fill="#aeaeae"/>
<ellipse cx="130" cy="51" rx="5" ry="2.4" fill="#959595" transform="rotate(55 130 51)"/>
<ellipse cx="130" cy="51" rx="3.4" ry="1.4" fill="#787878" transform="rotate(55 130 51)"/>
<ellipse cx="146" cy="72" rx="4.2" ry="4.2" fill="#9a9a9a"/>
<ellipse cx="146" cy="72" rx="2.8" ry="2.8" fill="#787878"/>
<polygon points="115,85 121,76 127,68 131,63.5 134.5,66 133.5,74 136.5,82 135.5,91 130,92 124,86 118,88" fill="#9a9a9a"/>
<ellipse cx="131" cy="69" rx="3" ry="5" fill="#6d6d6d" transform="rotate(20 131 69)"/>
<ellipse cx="131" cy="69" rx="1.5" ry="3" fill="#575757" transform="rotate(20 131 69)"/>
<ellipse cx="122" cy="76.5" rx="7.5" ry="3.6" fill="#7b7b7b" transform="rotate(-28 122 76.5)"/>
<ellipse cx="116.5" cy="80" rx="3" ry="2.5" fill="#818181"/>
<ellipse cx="132.5" cy="86.5" rx="2.8" ry="5.5" fill="#686868"/>
<ellipse cx="132.5" cy="87" rx="1.4" ry="3.5" fill="#515151"/>
<ellipse cx="125" cy="84" rx="2" ry="2" fill="#c1c1c1"/>
<ellipse cx="119" cy="82" rx="3" ry="2" fill="#8c8c8c"/>
<ellipse cx="125" cy="87" rx="8" ry="5.5" fill="#979797" transform="rotate(-20 125 87)"/>
<ellipse cx="128.5" cy="90" rx="2.2" ry="2" fill="#c0c0c0"/>
<ellipse cx="125.5" cy="80.5" rx="2" ry="2" fill="#bcbcbc"/>
<ellipse cx="132.5" cy="86.5" rx="2.6" ry="5" fill="#656565"/>
<ellipse cx="132.5" cy="87" rx="1.3" ry="3.3" fill="#515151"/>
<ellipse cx="113" cy="98.5" rx="5.5" ry="3" fill="#626262" transform="rotate(-25 113 98.5)"/>
<ellipse cx="117.2" cy="96" rx="5.6" ry="3.9" fill="#3b3b3b" transform="rotate(-18 117.2 96)"/>
<ellipse cx="118.2" cy="95.4" rx="4" ry="3" fill="#111111" transform="rotate(-18 118.2 95.4)"/>
<polygon points="104,104 110,98 113,99 108,104" fill="#a0a0a0"/>
<ellipse cx="124" cy="104.5" rx="12" ry="1.5" fill="#b1b1b1"/>
<ellipse cx="106" cy="121.5" rx="5" ry="8.5" fill="#9e9e9e"/>
<ellipse cx="106.3" cy="122" rx="3.6" ry="6.5" fill="#898989"/>
<ellipse cx="107.3" cy="125.5" rx="2.3" ry="3" fill="#767676"/>
<ellipse cx="158.8" cy="116.2" rx="4.2" ry="3.2" fill="#979797" transform="rotate(35 158.8 116.2)"/>
<ellipse cx="167" cy="107.7" rx="2.2" ry="1.9" fill="#959595"/>
<ellipse cx="163.8" cy="123.2" rx="2.8" ry="3" fill="#9a9a9a"/>
<ellipse cx="169.2" cy="132" rx="2.8" ry="2" fill="#9d9d9d"/>
<ellipse cx="176" cy="60" rx="1.5" ry="2" fill="#d2d2d2"/>
</g></g>
<line x1="29.5" y1="60.5" x2="177.5" y2="60.5" stroke="#000" stroke-width="1.2"/>
<line x1="29.5" y1="95.5" x2="177.5" y2="95.5" stroke="#000" stroke-width="1.2"/>
<line x1="29.5" y1="38" x2="29.5" y2="145" stroke="#222" stroke-width="1"/>
<line x1="27" y1="142.5" x2="180" y2="142.5" stroke="#222" stroke-width="1"/>
<line x1="29" y1="40.5" x2="178" y2="40.5" stroke="#222" stroke-width="1"/>
<line x1="177.5" y1="40.5" x2="177.5" y2="142.5" stroke="#222" stroke-width="1"/>
<path d="M29.5,142.5v3M29.5,40.5v-3M34.76,142.5v2M34.76,40.5v-2M40.02,142.5v2M40.02,40.5v-2M45.28,142.5v2M45.28,40.5v-2M50.54,142.5v2M50.54,40.5v-2M55.8,142.5v2M55.8,40.5v-2M61.06,142.5v2M61.06,40.5v-2M66.32,142.5v2M66.32,40.5v-2M71.58,142.5v2M71.58,40.5v-2M76.84,142.5v2M76.84,40.5v-2M82.1,142.5v3M82.1,40.5v-3M87.36,142.5v2M87.36,40.5v-2M92.62,142.5v2M92.62,40.5v-2M97.88,142.5v2M97.88,40.5v-2M103.14,142.5v2M103.14,40.5v-2M108.4,142.5v2M108.4,40.5v-2M113.66,142.5v2M113.66,40.5v-2M118.92,142.5v2M118.92,40.5v-2M124.18,142.5v2M124.18,40.5v-2M129.44,142.5v2M129.44,40.5v-2M134.7,142.5v3M134.7,40.5v-3M139.96,142.5v2M139.96,40.5v-2M145.22,142.5v2M145.22,40.5v-2M150.48,142.5v2M150.48,40.5v-2M155.74,142.5v2M155.74,40.5v-2M161,142.5v2M161,40.5v-2M166.26,142.5v2M166.26,40.5v-2M171.52,142.5v2M171.52,40.5v-2M176.78,142.5v2M176.78,40.5v-2M29.5,142.5h-3M177.5,142.5h3M29.5,137.2h-2M177.5,137.2h2M29.5,131.9h-2M177.5,131.9h2M29.5,126.6h-2M177.5,126.6h2M29.5,121.3h-2M177.5,121.3h2M29.5,116h-3M177.5,116h3M29.5,110.7h-2M177.5,110.7h2M29.5,105.4h-2M177.5,105.4h2M29.5,100.1h-2M177.5,100.1h2M29.5,94.8h-2M177.5,94.8h2M29.5,89.5h-3M177.5,89.5h3M29.5,84.2h-2M177.5,84.2h2M29.5,78.9h-2M177.5,78.9h2M29.5,73.6h-2M177.5,73.6h2M29.5,68.3h-2M177.5,68.3h2M29.5,63h-3M177.5,63h3M29.5,57.7h-2M177.5,57.7h2M29.5,52.4h-2M177.5,52.4h2M29.5,47.1h-2M177.5,47.1h2M29.5,41.8h-2M177.5,41.8h2" stroke="#222" stroke-width="0.7" fill="none"/>
<g clip-path="url(#ca)">
<circle cx="30" cy="60.5" r="2.8" fill="#f3a2a6" stroke="#d46a78" stroke-width="0.5"/>
<circle cx="177.2" cy="60.5" r="2.8" fill="#3cc060" stroke="#1e8a40" stroke-width="0.5"/>
<circle cx="30" cy="95.5" r="2.8" fill="#f3a2a6" stroke="#d46a78" stroke-width="0.5"/>
<circle cx="177.2" cy="95.5" r="2.8" fill="#3cc060" stroke="#1e8a40" stroke-width="0.5"/>
</g>
<text x="19.5" y="33.2" style="font-family:'DejaVu Sans','Liberation Sans',sans-serif;font-size:7.4px;" fill="#222" text-anchor="end">mm</text>
<text x="22.4" y="65.7" style="font-family:'DejaVu Sans','Liberation Sans',sans-serif;font-size:7.6px;" fill="#222" text-anchor="end">1.5</text>
<text x="22.4" y="92.2" style="font-family:'DejaVu Sans','Liberation Sans',sans-serif;font-size:7.6px;" fill="#222" text-anchor="end">1.0</text>
<text x="22.4" y="118.7" style="font-family:'DejaVu Sans','Liberation Sans',sans-serif;font-size:7.6px;" fill="#222" text-anchor="end">0.5</text>
<text x="22.4" y="145.2" style="font-family:'DejaVu Sans','Liberation Sans',sans-serif;font-size:7.6px;" fill="#222" text-anchor="end">0.0</text>
<text x="29.2" y="155.6" style="font-family:'DejaVu Sans','Liberation Sans',sans-serif;font-size:7.6px;" fill="#222" text-anchor="middle">0</text>
<text x="81.6" y="155.6" style="font-family:'DejaVu Sans','Liberation Sans',sans-serif;font-size:7.6px;" fill="#222" text-anchor="middle">1</text>
<text x="131.6" y="155.6" style="font-family:'DejaVu Sans','Liberation Sans',sans-serif;font-size:7.6px;" fill="#222" text-anchor="start">2 mm</text>
<text x="186.8" y="66" style="font-family:'Liberation Serif','DejaVu Serif',serif;font-size:11.2px;font-weight:bold" fill="#111" text-anchor="start">B</text>
<text x="186" y="99" style="font-family:'Liberation Serif','DejaVu Serif',serif;font-size:10.5px;" fill="#333" text-anchor="start">A</text>
<defs><linearGradient id="cba" x1="0" y1="1" x2="0" y2="0">
<stop offset="0.0000" stop-color="rgb(0,0,0)"/>
<stop offset="0.2527" stop-color="rgb(0,0,0)"/>
<stop offset="0.2857" stop-color="rgb(0,0,110)"/>
<stop offset="0.3297" stop-color="rgb(0,20,255)"/>
<stop offset="0.3846" stop-color="rgb(0,110,255)"/>
<stop offset="0.4396" stop-color="rgb(0,200,255)"/>
<stop offset="0.4835" stop-color="rgb(0,235,235)"/>
<stop offset="0.5220" stop-color="rgb(0,230,140)"/>
<stop offset="0.5604" stop-color="rgb(20,215,20)"/>
<stop offset="0.6154" stop-color="rgb(190,240,0)"/>
<stop offset="0.6703" stop-color="rgb(255,235,0)"/>
<stop offset="0.7143" stop-color="rgb(255,170,0)"/>
<stop offset="0.7582" stop-color="rgb(255,120,10)"/>
<stop offset="0.8022" stop-color="rgb(255,75,20)"/>
<stop offset="0.8352" stop-color="rgb(255,60,30)"/>
<stop offset="0.8681" stop-color="rgb(255,130,120)"/>
<stop offset="0.9231" stop-color="rgb(255,205,200)"/>
<stop offset="1.0000" stop-color="rgb(255,246,246)"/>
</linearGradient></defs>
<rect x="208.3" y="24" width="9.4" height="149.2" fill="url(#cba)" stroke="#555" stroke-width="0.8"/>
<path d="M217.7,173h2.5M217.7,164.8h1.6M217.7,156.6h1.6M217.7,148.4h1.6M217.7,140.2h1.6M217.7,132h2.5M217.7,123.8h1.6M217.7,115.6h1.6M217.7,107.4h1.6M217.7,99.2h1.6M217.7,91h2.5M217.7,82.8h1.6M217.7,74.6h1.6M217.7,66.4h1.6M217.7,58.2h1.6M217.7,50h2.5M217.7,41.8h1.6M217.7,33.6h1.6M217.7,25.4h1.6" stroke="#333" stroke-width="0.7" fill="none"/>
<text x="223.6" y="175.6" style="font-family:'Liberation Sans','DejaVu Sans',sans-serif;font-size:7.3px;stroke:#2a2a3a;stroke-width:0.15" fill="#2a2a3a" textLength="3.35" lengthAdjust="spacingAndGlyphs">0</text>
<text x="223.6" y="134.6" style="font-family:'Liberation Sans','DejaVu Sans',sans-serif;font-size:7.3px;stroke:#2a2a3a;stroke-width:0.15" fill="#2a2a3a" textLength="6.7" lengthAdjust="spacingAndGlyphs">50</text>
<text x="223.6" y="93.6" style="font-family:'Liberation Sans','DejaVu Sans',sans-serif;font-size:7.3px;stroke:#2a2a3a;stroke-width:0.15" fill="#2a2a3a" textLength="10.05" lengthAdjust="spacingAndGlyphs">100</text>
<text x="223.6" y="52.6" style="font-family:'Liberation Sans','DejaVu Sans',sans-serif;font-size:7.3px;stroke:#2a2a3a;stroke-width:0.15" fill="#2a2a3a" textLength="10.05" lengthAdjust="spacingAndGlyphs">150</text>
<text x="223.5" y="16.5" style="font-family:'Liberation Sans','DejaVu Sans',sans-serif;font-size:6.6px;" fill="#444" text-anchor="start">µm</text>
<polygon points="283.4,25 285.6,33 271.8,127 268.6,129" fill="#d8d8d8" stroke="#a0a0a0" stroke-width="0.5"/>
<polygon points="268.6,126.8 423.2,142.2 425.6,143.5 425.6,147 268.6,131.5" fill="#dadada" stroke="#a8a8a8" stroke-width="0.5"/>
<polygon points="431.3,40 433,40.5 425.5,145 423,142.2" fill="#cfcfcf" stroke="#9a9a9a" stroke-width="0.5"/>
<polygon points="424.8,95.5 431,94 426,143.5 423,142.6" fill="#d8d8d8" stroke="#a0a0a0" stroke-width="0.5"/>
<text x="263.5" y="50" style="font-family:'Liberation Serif','DejaVu Serif',serif;font-size:10.5px;font-weight:bold" fill="#111" text-anchor="start">B</text>
<text x="261.5" y="83.5" style="font-family:'Liberation Serif','DejaVu Serif',serif;font-size:10.5px;font-weight:bold" fill="#222" text-anchor="start">A</text>
<line x1="278" y1="45.6" x2="282.5" y2="46.1" stroke="#333" stroke-width="0.9"/>
<path d="M429.2,59 l3.2,-1.6 l0,3.4 Z" fill="#222"/>
<path d="M426.4,94.2 l3.2,-1.6 l0,3.4 Z" fill="#222"/>
<line x1="274" y1="78.6" x2="278.5" y2="79.2" stroke="#333" stroke-width="0.9"/>
<path d="M283.5,24.4v-3M286.14,24.64v-1.5M288.79,24.88v-1.5M291.43,25.12v-1.5M294.08,25.36v-1.5M296.72,25.6v-2.2M299.37,25.84v-1.5M302.01,26.07v-1.5M304.66,26.31v-1.5M307.3,26.55v-1.5M309.95,26.79v-3M312.59,27.03v-1.5M315.24,27.27v-1.5M317.88,27.51v-1.5M320.52,27.75v-1.5M323.17,27.99v-2.2M325.81,28.23v-1.5M328.46,28.47v-1.5M331.1,28.71v-1.5M333.75,28.95v-1.5M336.39,29.19v-3M339.04,29.42v-1.5M341.68,29.66v-1.5M344.33,29.9v-1.5M346.97,30.14v-1.5M349.62,30.38v-2.2M352.26,30.62v-1.5M354.91,30.86v-1.5M357.55,31.1v-1.5M360.19,31.34v-1.5M362.84,31.58v-3M365.48,31.82v-1.5M368.13,32.06v-1.5M370.77,32.3v-1.5M373.42,32.54v-1.5M376.06,32.77v-2.2M378.71,33.01v-1.5M381.35,33.25v-1.5M384,33.49v-1.5M386.64,33.73v-1.5M389.29,33.97v-3M391.93,34.21v-1.5M394.58,34.45v-1.5M397.22,34.69v-1.5M399.86,34.93v-1.5M402.51,35.17v-2.2M405.15,35.41v-1.5M407.8,35.65v-1.5M410.44,35.89v-1.5M413.09,36.12v-1.5M415.73,36.36v-3M418.38,36.6v-1.5M421.02,36.84v-1.5M423.67,37.08v-1.5M426.31,37.32v-1.5M428.96,37.56v-2.2M431.6,37.8v-1.5" stroke="#666" stroke-width="0.6" fill="none"/>
<line x1="283.5" y1="24.4" x2="431.6" y2="37.8" stroke="#888" stroke-width="0.6"/>
<text x="284" y="17.9" style="font-family:'Liberation Serif','DejaVu Serif',serif;font-size:7.4px;stroke:#222;stroke-width:0.25" fill="#222" text-anchor="middle">0.0</text>
<text x="310.45" y="20.29" style="font-family:'Liberation Serif','DejaVu Serif',serif;font-size:7.4px;stroke:#222;stroke-width:0.25" fill="#222" text-anchor="middle">0.5</text>
<text x="336.89" y="22.69" style="font-family:'Liberation Serif','DejaVu Serif',serif;font-size:7.4px;stroke:#222;stroke-width:0.25" fill="#222" text-anchor="middle">1.0</text>
<text x="363.34" y="25.08" style="font-family:'Liberation Serif','DejaVu Serif',serif;font-size:7.4px;stroke:#222;stroke-width:0.25" fill="#222" text-anchor="middle">1.5</text>
<text x="389.79" y="27.47" style="font-family:'Liberation Serif','DejaVu Serif',serif;font-size:7.4px;stroke:#222;stroke-width:0.25" fill="#222" text-anchor="middle">2.0</text>
<text x="416.23" y="29.86" style="font-family:'Liberation Serif','DejaVu Serif',serif;font-size:7.4px;stroke:#222;stroke-width:0.25" fill="#222" text-anchor="middle">2.5</text>
<text x="358.5" y="11.8" style="font-family:'DejaVu Sans','Liberation Sans',sans-serif;font-size:6.4px;" fill="#222" text-anchor="middle">mm</text>
<path d="M423.7,142h2.8M424.14,136.65h1.6M424.57,131.3h1.6M425.01,125.95h1.6M425.45,120.6h1.6M425.88,115.25h2.8M426.32,109.9h1.6M426.76,104.55h1.6M427.19,99.2h1.6M427.63,93.85h1.6M428.07,88.5h2.8M428.51,83.15h1.6M428.94,77.8h1.6M429.38,72.45h1.6M429.82,67.1h1.6M430.25,61.75h2.8M430.69,56.4h1.6M431.13,51.05h1.6M431.56,45.7h1.6M432,40.35h1.6" stroke="#555" stroke-width="0.6" fill="none"/>
<line x1="431.6" y1="39" x2="423.5" y2="142.5" stroke="#888" stroke-width="0.5"/>
<text x="436.05" y="64.35" style="font-family:'Liberation Serif','DejaVu Serif',serif;font-size:7.4px;stroke:#222;stroke-width:0.25" fill="#222" text-anchor="start">1.5</text>
<text x="433.87" y="91.1" style="font-family:'Liberation Serif','DejaVu Serif',serif;font-size:7.4px;stroke:#222;stroke-width:0.25" fill="#222" text-anchor="start">1.0</text>
<text x="431.68" y="117.85" style="font-family:'Liberation Serif','DejaVu Serif',serif;font-size:7.4px;stroke:#222;stroke-width:0.25" fill="#222" text-anchor="start">0.5</text>
<text x="429.5" y="144.6" style="font-family:'Liberation Serif','DejaVu Serif',serif;font-size:7.4px;stroke:#222;stroke-width:0.25" fill="#222" text-anchor="start">0.0</text>
<text x="446.2" y="91.6" style="font-family:'DejaVu Sans','Liberation Sans',sans-serif;font-size:6.4px;" fill="#222" text-anchor="start">mm</text>
<path d="M421,143.5v3.5" stroke="#777" stroke-width="0.6"/>
<text x="418.5" y="155" style="font-family:'Liberation Serif','DejaVu Serif',serif;font-size:7.2px;stroke:#222;stroke-width:0.25" fill="#222" text-anchor="middle">0</text>
<text x="422" y="158.5" style="font-family:'Liberation Serif','DejaVu Serif',serif;font-size:7.2px;stroke:#222;stroke-width:0.25" fill="#222" text-anchor="start">181.7</text>
<text x="431.5" y="174.5" style="font-family:'DejaVu Sans','Liberation Sans',sans-serif;font-size:6.4px;" fill="#222" text-anchor="middle">µm</text>
<defs><linearGradient id="cbb" x1="0" y1="1" x2="0" y2="0">
<stop offset="0.0000" stop-color="rgb(0,0,0)"/>
<stop offset="0.0275" stop-color="rgb(0,0,64)"/>
<stop offset="0.0826" stop-color="rgb(0,0,192)"/>
<stop offset="0.1376" stop-color="rgb(0,32,255)"/>
<stop offset="0.1926" stop-color="rgb(0,96,255)"/>
<stop offset="0.2477" stop-color="rgb(0,160,255)"/>
<stop offset="0.3027" stop-color="rgb(0,232,255)"/>
<stop offset="0.3577" stop-color="rgb(0,232,192)"/>
<stop offset="0.4128" stop-color="rgb(0,224,96)"/>
<stop offset="0.4733" stop-color="rgb(48,224,0)"/>
<stop offset="0.5283" stop-color="rgb(176,255,0)"/>
<stop offset="0.5834" stop-color="rgb(255,240,0)"/>
<stop offset="0.6494" stop-color="rgb(255,176,0)"/>
<stop offset="0.7045" stop-color="rgb(255,128,0)"/>
<stop offset="0.7705" stop-color="rgb(255,80,0)"/>
<stop offset="0.8035" stop-color="rgb(248,64,16)"/>
<stop offset="0.8476" stop-color="rgb(248,96,80)"/>
<stop offset="0.8916" stop-color="rgb(251,184,184)"/>
<stop offset="0.9356" stop-color="rgb(253,232,236)"/>
<stop offset="1.0000" stop-color="rgb(255,255,255)"/>
</linearGradient></defs>
<rect x="487.6" y="12.8" width="9" height="185.2" fill="url(#cbb)" stroke="#555" stroke-width="0.7"/>
<path d="M496.6,198h2.4M496.6,192.9h1.4M496.6,187.81h2.4M496.6,182.71h1.4M496.6,177.61h2.4M496.6,172.51h1.4M496.6,167.41h2.4M496.6,162.32h1.4M496.6,157.22h2.4M496.6,152.12h1.4M496.6,147.03h2.4M496.6,141.93h1.4M496.6,136.83h2.4M496.6,131.73h1.4M496.6,126.63h2.4M496.6,121.54h1.4M496.6,116.44h2.4M496.6,111.34h1.4M496.6,106.24h2.4M496.6,101.15h1.4M496.6,96.05h2.4M496.6,90.95h1.4M496.6,85.85h2.4M496.6,80.76h1.4M496.6,75.66h2.4M496.6,70.56h1.4M496.6,65.47h2.4M496.6,60.37h1.4M496.6,55.27h2.4M496.6,50.17h1.4M496.6,45.07h2.4M496.6,39.98h1.4M496.6,34.88h2.4M496.6,29.78h1.4M496.6,24.68h2.4M496.6,19.59h1.4M496.6,14.49h2.4" stroke="#444" stroke-width="0.6" fill="none"/>
<text x="503.5" y="200.1" style="font-family:'Liberation Sans','DejaVu Sans',sans-serif;font-size:5.8px;stroke:#2a2a3a;stroke-width:0.18" fill="#2a2a3a" text-anchor="start">0</text>
<text x="503.5" y="189.91" style="font-family:'Liberation Sans','DejaVu Sans',sans-serif;font-size:5.8px;stroke:#2a2a3a;stroke-width:0.18" fill="#2a2a3a" text-anchor="start">10</text>
<text x="503.5" y="179.71" style="font-family:'Liberation Sans','DejaVu Sans',sans-serif;font-size:5.8px;stroke:#2a2a3a;stroke-width:0.18" fill="#2a2a3a" text-anchor="start">20</text>
<text x="503.5" y="169.51" style="font-family:'Liberation Sans','DejaVu Sans',sans-serif;font-size:5.8px;stroke:#2a2a3a;stroke-width:0.18" fill="#2a2a3a" text-anchor="start">30</text>
<text x="503.5" y="159.32" style="font-family:'Liberation Sans','DejaVu Sans',sans-serif;font-size:5.8px;stroke:#2a2a3a;stroke-width:0.18" fill="#2a2a3a" text-anchor="start">40</text>
<text x="503.5" y="149.12" style="font-family:'Liberation Sans','DejaVu Sans',sans-serif;font-size:5.8px;stroke:#2a2a3a;stroke-width:0.18" fill="#2a2a3a" text-anchor="start">50</text>
<text x="503.5" y="138.93" style="font-family:'Liberation Sans','DejaVu Sans',sans-serif;font-size:5.8px;stroke:#2a2a3a;stroke-width:0.18" fill="#2a2a3a" text-anchor="start">60</text>
<text x="503.5" y="128.73" style="font-family:'Liberation Sans','DejaVu Sans',sans-serif;font-size:5.8px;stroke:#2a2a3a;stroke-width:0.18" fill="#2a2a3a" text-anchor="start">70</text>
<text x="503.5" y="118.54" style="font-family:'Liberation Sans','DejaVu Sans',sans-serif;font-size:5.8px;stroke:#2a2a3a;stroke-width:0.18" fill="#2a2a3a" text-anchor="start">80</text>
<text x="503.5" y="108.34" style="font-family:'Liberation Sans','DejaVu Sans',sans-serif;font-size:5.8px;stroke:#2a2a3a;stroke-width:0.18" fill="#2a2a3a" text-anchor="start">90</text>
<text x="503.5" y="98.15" style="font-family:'Liberation Sans','DejaVu Sans',sans-serif;font-size:5.8px;stroke:#2a2a3a;stroke-width:0.18" fill="#2a2a3a" text-anchor="start">100</text>
<text x="503.5" y="87.95" style="font-family:'Liberation Sans','DejaVu Sans',sans-serif;font-size:5.8px;stroke:#2a2a3a;stroke-width:0.18" fill="#2a2a3a" text-anchor="start">110</text>
<text x="503.5" y="77.76" style="font-family:'Liberation Sans','DejaVu Sans',sans-serif;font-size:5.8px;stroke:#2a2a3a;stroke-width:0.18" fill="#2a2a3a" text-anchor="start">120</text>
<text x="503.5" y="67.56" style="font-family:'Liberation Sans','DejaVu Sans',sans-serif;font-size:5.8px;stroke:#2a2a3a;stroke-width:0.18" fill="#2a2a3a" text-anchor="start">130</text>
<text x="503.5" y="57.37" style="font-family:'Liberation Sans','DejaVu Sans',sans-serif;font-size:5.8px;stroke:#2a2a3a;stroke-width:0.18" fill="#2a2a3a" text-anchor="start">140</text>
<text x="503.5" y="47.17" style="font-family:'Liberation Sans','DejaVu Sans',sans-serif;font-size:5.8px;stroke:#2a2a3a;stroke-width:0.18" fill="#2a2a3a" text-anchor="start">150</text>
<text x="503.5" y="36.98" style="font-family:'Liberation Sans','DejaVu Sans',sans-serif;font-size:5.8px;stroke:#2a2a3a;stroke-width:0.18" fill="#2a2a3a" text-anchor="start">160</text>
<text x="503.5" y="26.78" style="font-family:'Liberation Sans','DejaVu Sans',sans-serif;font-size:5.8px;stroke:#2a2a3a;stroke-width:0.18" fill="#2a2a3a" text-anchor="start">170</text>
<text x="503.5" y="16.59" style="font-family:'Liberation Sans','DejaVu Sans',sans-serif;font-size:5.8px;stroke:#2a2a3a;stroke-width:0.18" fill="#2a2a3a" text-anchor="start">180</text>
<text x="503.5" y="8.8" style="font-family:'Liberation Sans','DejaVu Sans',sans-serif;font-size:5.6px;" fill="#333" text-anchor="start">µm</text>
<text x="124.7" y="207.2" style="font-family:'Liberation Serif','DejaVu Serif',serif;font-size:12.5px;font-weight:bold" fill="#111" text-anchor="middle">(a)</text>
<text x="393.4" y="207.2" style="font-family:'Liberation Serif','DejaVu Serif',serif;font-size:12.5px;font-weight:bold" fill="#111" text-anchor="middle">(b)</text>
<text x="135.2" y="333.6" style="font-family:'Liberation Serif','DejaVu Serif',serif;font-size:12.5px;font-weight:bold" fill="#111" text-anchor="middle">(c)</text>
<text x="376" y="333.8" style="font-family:'Liberation Serif','DejaVu Serif',serif;font-size:12.5px;font-weight:bold" fill="#111" text-anchor="middle">(d)</text>
<text x="261.3" y="546" style="font-family:'Liberation Serif','DejaVu Serif',serif;font-size:12.5px;font-weight:bold" fill="#111" text-anchor="middle">(e)</text>
</svg>
<div style="position:absolute;left:0;top:0;width:148px;height:101.8px;transform-origin:0 0;transform:matrix3d(0.904959,0.071330,0,-0.00022375,-0.229894,0.930785,0,-0.00033894,0,0,1,0,283.9667,27.5698,0,1)"><svg width="148" height="101.8" viewBox="29.5 40.5 148 101.8" style="display:block;overflow:hidden"><defs><filter id="fb" x="29.5" y="40.5" width="148" height="101.8" filterUnits="userSpaceOnUse" color-interpolation-filters="sRGB"><feGaussianBlur in="SourceGraphic" stdDeviation="1.5" result="h"/><feTurbulence type="fractalNoise" baseFrequency="0.07" numOctaves="2" seed="5" result="t"/><feColorMatrix in="t" type="matrix" values="1 0 0 0 0 1 0 0 0 0 1 0 0 0 0 0 0 0 0 1" result="tg"/><feComposite in="h" in2="tg" operator="arithmetic" k1="0" k2="1" k3="0.1" k4="-0.05" result="hn"/><feComponentTransfer in="hn" result="col"><feFuncR type="table" tableValues="0.000 0.000 0.000 0.000 0.000 0.000 0.000 0.000 0.000 0.000 0.000 0.000 0.000 0.000 0.000 0.000 0.000 0.000 0.000 0.000 0.000 0.000 0.000 0.000 0.000 0.000 0.000 0.000 0.000 0.000 0.000 0.000 0.000 0.000 0.000 0.000 0.000 0.000 0.000 0.000 0.026 0.058 0.091 0.124 0.157 0.192 0.288 0.384 0.480 0.576 0.672 0.738 0.797 0.857 0.916 0.975 1.000 1.000 1.000 1.000 1.000 1.000 1.000 1.000 1.000 0.999 0.994 0.988 0.983 0.978 0.974 0.970 0.966 0.962 0.957 0.952 0.948 0.943 0.936 0.927 0.919 0.910 0.906 0.901 0.897 0.894 0.894 0.894 0.894 0.895 0.901 0.908 0.914 0.921 0.927 0.933"/><feFuncG type="table" tableValues="0.000 0.000 0.000 0.000 0.000 0.000 0.000 0.000 0.004 0.028 0.052 0.076 0.100 0.124 0.170 0.218 0.266 0.314 0.362 0.410 0.458 0.506 0.554 0.602 0.653 0.707 0.761 0.815 0.869 0.910 0.910 0.910 0.910 0.910 0.910 0.904 0.898 0.892 0.886 0.880 0.878 0.878 0.878 0.878 0.878 0.879 0.903 0.926 0.949 0.972 0.996 0.991 0.980 0.968 0.957 0.946 0.924 0.894 0.864 0.834 0.804 0.765 0.708 0.652 0.596 0.538 0.474 0.410 0.345 0.306 0.291 0.276 0.261 0.246 0.255 0.270 0.285 0.300 0.334 0.379 0.424 0.469 0.510 0.550 0.591 0.628 0.656 0.684 0.712 0.739 0.757 0.774 0.791 0.809 0.826 0.843"/><feFuncB type="table" tableValues="0.000 0.096 0.192 0.288 0.384 0.480 0.576 0.672 0.760 0.808 0.855 0.902 0.949 0.997 1.000 1.000 1.000 1.000 1.000 1.000 1.000 1.000 1.000 1.000 1.000 1.000 1.000 1.000 1.000 0.988 0.941 0.894 0.847 0.799 0.752 0.680 0.608 0.536 0.464 0.392 0.325 0.259 0.194 0.129 0.063 0.000 0.000 0.000 0.000 0.000 0.000 0.000 0.000 0.000 0.000 0.000 0.000 0.000 0.000 0.000 0.000 0.000 0.000 0.000 0.000 0.001 0.006 0.012 0.017 0.022 0.026 0.030 0.034 0.038 0.058 0.081 0.105 0.128 0.180 0.250 0.320 0.389 0.442 0.493 0.544 0.591 0.624 0.658 0.692 0.724 0.744 0.764 0.784 0.803 0.823 0.843"/></feComponentTransfer><feTurbulence type="fractalNoise" baseFrequency="0.055" numOctaves="3" seed="11" result="t2"/><feColorMatrix in="t2" type="matrix" values="1 0 0 0 0 1 0 0 0 0 1 0 0 0 0 0 0 0 0 1" result="t2g"/><feComposite in="hn" in2="t2g" operator="arithmetic" k1="0" k2="1" k3="0.4" k4="-0.2" result="bump"/><feColorMatrix in="bump" type="matrix" values="0 0 0 0 0 0 0 0 0 0 0 0 0 0 0 1 0 0 0 0" result="ba"/><feDiffuseLighting in="ba" surfaceScale="9.5" diffuseConstant="1.4" lighting-color="#ffffff" result="light"><feDistantLight azimuth="235" elevation="48"/></feDiffuseLighting><feSpecularLighting in="ba" surfaceScale="9.5" specularConstant="0.18" specularExponent="16" lighting-color="#ffffff" result="spec"><feDistantLight azimuth="235" elevation="48"/></feSpecularLighting><feComposite in="col" in2="light" operator="arithmetic" k1="1.0" k2="0" k3="0" k4="0" result="lit"/><feComposite in="spec" in2="lit" operator="arithmetic" k1="0" k2="1" k3="1" k4="0"/></filter></defs>
<g filter="url(#fb)">
<rect x="20" y="30" width="170" height="120" fill="#c3c3c3"/>
<g filter="url(#bl3)">
<polygon points="20,30 150,30 150,58 20,58.5" fill="#bcbcbc"/>
<ellipse cx="45" cy="50" rx="14" ry="7" fill="#c6c6c6"/>
<ellipse cx="110" cy="48" rx="10" ry="6" fill="#c4c4c4"/>
<polygon points="138,30 150,30 156,100 168,145 150,145 145,100" fill="#cecece"/>
<polygon points="20,58 45,58 50,95 20,95" fill="#cbcbcb"/>
<ellipse cx="90" cy="85" rx="8" ry="7" fill="#cbcbcb"/>
<ellipse cx="60" cy="96" rx="14" ry="5" fill="#cdcdcd"/>
<ellipse cx="140" cy="100" rx="10" ry="5" fill="#cdcdcd"/>
<polygon points="150,30 185,30 185,110 168,108 160,100 155,80 152,60" fill="#e3e3e3"/>
<polygon points="44,99 56,96 66,101 76,101 82,112 87,128 91,145 42,145" fill="#e7e7e7"/>
<polygon points="78,97 87,97 101,145 92,145" fill="#cfcfcf"/>
<polygon points="88,97 100,97 112,145 102,145" fill="#bababa"/>
</g>
<g filter="url(#bl1)">
<polygon points="84,97 89.5,97 113.5,145 108,145" fill="#b3b3b3"/>
<polygon points="97,97 102.5,97 126.5,145 121,145" fill="#b3b3b3"/>
<polygon points="110,97 115.5,97 139.5,145 134,145" fill="#b3b3b3"/>
<polygon points="123,97 128.5,97 152.5,145 147,145" fill="#b3b3b3"/>
<polygon points="136,97 141.5,97 165.5,145 160,145" fill="#b3b3b3"/>
<polygon points="149,97 154.5,97 178.5,145 173,145" fill="#b3b3b3"/>
<polygon points="90.5,97 95,97 119,145 114.5,145" fill="#cecece"/>
<polygon points="103.5,97 108,97 132,145 127.5,145" fill="#cecece"/>
<polygon points="116.5,97 121,97 145,145 140.5,145" fill="#cecece"/>
<polygon points="129.5,97 134,97 158,145 153.5,145" fill="#cecece"/>
<polygon points="142.5,97 147,97 171,145 166.5,145" fill="#cecece"/>
<polygon points="62,61 66,61 70,94 66,94" fill="#bfbfbf"/>
<polygon points="75,61 79,61 83,94 79,94" fill="#bfbfbf"/>
<polygon points="88,61 92,61 96,94 92,94" fill="#bfbfbf"/>
<polygon points="101,61 105,61 109,94 105,94" fill="#bfbfbf"/>
<ellipse cx="35.75" cy="45.91" rx="4.88" ry="1.56" fill="#b6b6b6"/>
<ellipse cx="35.99" cy="46.14" rx="4.66" ry="2.42" fill="#bcbcbc"/>
<ellipse cx="38.21" cy="55.75" rx="2.53" ry="2.03" fill="#bababa"/>
<ellipse cx="131.92" cy="53.9" rx="5.88" ry="3.78" fill="#b9b9b9"/>
<ellipse cx="78.23" cy="53.13" rx="3.08" ry="4.06" fill="#c0c0c0"/>
<ellipse cx="119.77" cy="49.78" rx="2.67" ry="2.4" fill="#b7b7b7"/>
<ellipse cx="68.61" cy="48.82" rx="4.18" ry="2.15" fill="#bfbfbf"/>
<ellipse cx="115.75" cy="55.44" rx="3.07" ry="3.34" fill="#bcbcbc"/>
<ellipse cx="75.64" cy="47.98" rx="5.24" ry="3.3" fill="#c0c0c0"/>
<ellipse cx="87.82" cy="55.08" rx="5.44" ry="3.87" fill="#c0c0c0"/>
<ellipse cx="112.47" cy="48.72" rx="3.22" ry="3.96" fill="#b5b5b5"/>
<ellipse cx="77.35" cy="44.93" rx="4.36" ry="4.16" fill="#b8b8b8"/>
<ellipse cx="124.94" cy="54.56" rx="4.66" ry="2.23" fill="#bfbfbf"/>
<ellipse cx="85.18" cy="53.56" rx="3.84" ry="4.09" fill="#bdbdbd"/>
<ellipse cx="49.82" cy="44.05" rx="5.4" ry="2.6" fill="#b9b9b9"/>
<ellipse cx="34.86" cy="51.78" rx="5.22" ry="4.19" fill="#b6b6b6"/>
<ellipse cx="131.17" cy="44" rx="3.49" ry="2.65" fill="#bbbbbb"/>
<ellipse cx="90.31" cy="49.99" rx="4.09" ry="4.3" fill="#b7b7b7"/>
<ellipse cx="54.58" cy="54.87" rx="3.22" ry="3.53" fill="#c0c0c0"/>
<ellipse cx="38.26" cy="54.29" rx="2.14" ry="3.03" fill="#b9b9b9"/>
<ellipse cx="111.48" cy="54.25" rx="2.19" ry="1.72" fill="#bcbcbc"/>
<ellipse cx="114.06" cy="43.56" rx="4.46" ry="1.95" fill="#bababa"/>
<ellipse cx="145.67" cy="55.34" rx="4.77" ry="2.89" fill="#c0c0c0"/>
<ellipse cx="116.44" cy="41.04" rx="4.69" ry="3.24" fill="#bababa"/>
<ellipse cx="81.46" cy="47.18" rx="3.14" ry="3.82" fill="#bdbdbd"/>
<ellipse cx="49.21" cy="53.93" rx="5.14" ry="3.72" fill="#b7b7b7"/>
<ellipse cx="56.42" cy="70.84" rx="4.64" ry="4.28" fill="#c7c7c7"/>
<ellipse cx="41.14" cy="66.4" rx="2.78" ry="1.85" fill="#c4c4c4"/>
<ellipse cx="50.75" cy="65.54" rx="2.16" ry="2.47" fill="#c8c8c8"/>
<ellipse cx="54.96" cy="78.77" rx="2.67" ry="1.77" fill="#bbbbbb"/>
<ellipse cx="50.18" cy="68.98" rx="1.72" ry="3.83" fill="#c4c4c4"/>
<ellipse cx="51.94" cy="87.91" rx="2.68" ry="2.09" fill="#c1c1c1"/>
<ellipse cx="83.82" cy="71.06" rx="2.43" ry="4.14" fill="#c5c5c5"/>
<ellipse cx="89.5" cy="90.73" rx="2.46" ry="3.1" fill="#bcbcbc"/>
<ellipse cx="106.95" cy="88" rx="3.78" ry="2.11" fill="#cfcfcf"/>
<ellipse cx="32.84" cy="75.54" rx="4.81" ry="2.46" fill="#cacaca"/>
<ellipse cx="108.01" cy="84.46" rx="2.56" ry="4.41" fill="#c2c2c2"/>
<ellipse cx="106.1" cy="66.14" rx="4.78" ry="3.77" fill="#bababa"/>
<ellipse cx="83.03" cy="69.25" rx="3.32" ry="3.03" fill="#bbbbbb"/>
<ellipse cx="95.21" cy="92.8" rx="3.56" ry="2.71" fill="#c8c8c8"/>
<ellipse cx="61.66" cy="81.05" rx="3.01" ry="1.96" fill="#cccccc"/>
<ellipse cx="58.75" cy="65.27" rx="1.63" ry="2.87" fill="#bcbcbc"/>
<ellipse cx="86.3" cy="64.03" rx="1.51" ry="1.77" fill="#cbcbcb"/>
<ellipse cx="86.1" cy="89.52" rx="4.31" ry="2.19" fill="#c4c4c4"/>
<ellipse cx="73.25" cy="71.4" rx="2.79" ry="2.31" fill="#bbbbbb"/>
<ellipse cx="90.25" cy="85.38" rx="1.51" ry="2.22" fill="#bfbfbf"/>
<ellipse cx="93.33" cy="78.24" rx="3.13" ry="2.29" fill="#c6c6c6"/>
<ellipse cx="100.09" cy="93.79" rx="1.59" ry="3.07" fill="#bababa"/>
</g>
<ellipse cx="166" cy="50" rx="8" ry="9" fill="#e4e4e4"/>
<ellipse cx="171" cy="80" rx="5" ry="14" fill="#e3e3e3"/>
<ellipse cx="158" cy="70" rx="3" ry="8" fill="#e2e2e2"/>
<ellipse cx="170" cy="41.5" rx="3" ry="2" fill="#c7c7c7"/>
<ellipse cx="60" cy="130" rx="11" ry="11" fill="#f0f0f0"/>
<ellipse cx="66" cy="137" rx="9" ry="7" fill="#eeeeee"/>
<ellipse cx="52" cy="118" rx="6" ry="8" fill="#ebebeb"/>
<ellipse cx="88" cy="126" rx="5" ry="7" fill="#dcdcdc"/>
<ellipse cx="96" cy="133" rx="4" ry="6" fill="#dcdcdc"/>
<ellipse cx="101" cy="134" rx="5" ry="6" fill="#dbdbdb"/>
<ellipse cx="34.5" cy="85" rx="2.5" ry="7" fill="#dcdcdc"/>
<ellipse cx="56" cy="80" rx="3.5" ry="13" fill="#d9d9d9"/>
<ellipse cx="47" cy="76" rx="4" ry="10" fill="#d5d5d5"/>
<ellipse cx="72" cy="82" rx="4" ry="9" fill="#d2d2d2"/>
<ellipse cx="70" cy="86" rx="2.5" ry="4" fill="#d6d6d6"/>
<ellipse cx="32" cy="108" rx="3.5" ry="9" fill="#acacac"/>
<ellipse cx="44" cy="108" rx="13" ry="8.5" fill="#aeaeae"/>
<ellipse cx="59" cy="110" rx="3.5" ry="5.5" fill="#a0a0a0"/>
<ellipse cx="42.6" cy="102.3" rx="2" ry="1.6" fill="#a3a3a3"/>
<ellipse cx="38.5" cy="109.8" rx="3.2" ry="4.6" fill="#e7e7e7"/>
<ellipse cx="54" cy="132.5" rx="7" ry="3" fill="#aeaeae"/>
<ellipse cx="40" cy="130" rx="10.5" ry="10.5" fill="#aaaaaa"/>
<ellipse cx="38.2" cy="126.8" rx="7.4" ry="6.4" fill="#767676" transform="rotate(35 38.2 126.8)"/>
<ellipse cx="38" cy="126.6" rx="5.8" ry="5" fill="#5c5c5c" transform="rotate(35 38 126.6)"/>
<ellipse cx="37.6" cy="126.3" rx="4.2" ry="3.4" fill="#4c4c4c" transform="rotate(35 37.6 126.3)"/>
<ellipse cx="31" cy="48" rx="2.6" ry="7" fill="#aeaeae"/>
<ellipse cx="84" cy="51" rx="5" ry="4" fill="#afafaf"/>
<ellipse cx="70" cy="41" rx="2.5" ry="1.5" fill="#9a9a9a"/>
<ellipse cx="37.5" cy="68" rx="2.5" ry="3" fill="#b2b2b2"/>
<ellipse cx="36.8" cy="82.6" rx="3.5" ry="3.5" fill="#a5a5a5"/>
<ellipse cx="36.8" cy="82.6" rx="1.8" ry="1.8" fill="#878787"/>
<ellipse cx="97" cy="64" rx="4" ry="2.5" fill="#b2b2b2"/>
<ellipse cx="101" cy="64" rx="1.5" ry="2" fill="#b1b1b1"/>
<ellipse cx="103.5" cy="114" rx="1.5" ry="4" fill="#aeaeae"/>
<ellipse cx="130" cy="51" rx="5" ry="2.4" fill="#959595" transform="rotate(55 130 51)"/>
<ellipse cx="130" cy="51" rx="3.4" ry="1.4" fill="#787878" transform="rotate(55 130 51)"/>
<ellipse cx="146" cy="72" rx="4.2" ry="4.2" fill="#9a9a9a"/>
<ellipse cx="146" cy="72" rx="2.8" ry="2.8" fill="#787878"/>
<polygon points="115,85 121,76 127,68 131,63.5 134.5,66 133.5,74 136.5,82 135.5,91 130,92 124,86 118,88" fill="#9a9a9a"/>
<ellipse cx="131" cy="69" rx="3" ry="5" fill="#6d6d6d" transform="rotate(20 131 69)"/>
<ellipse cx="131" cy="69" rx="1.5" ry="3" fill="#575757" transform="rotate(20 131 69)"/>
<ellipse cx="122" cy="76.5" rx="7.5" ry="3.6" fill="#7b7b7b" transform="rotate(-28 122 76.5)"/>
<ellipse cx="116.5" cy="80" rx="3" ry="2.5" fill="#818181"/>
<ellipse cx="132.5" cy="86.5" rx="2.8" ry="5.5" fill="#686868"/>
<ellipse cx="132.5" cy="87" rx="1.4" ry="3.5" fill="#515151"/>
<ellipse cx="125" cy="84" rx="2" ry="2" fill="#c1c1c1"/>
<ellipse cx="119" cy="82" rx="3" ry="2" fill="#8c8c8c"/>
<ellipse cx="125" cy="87" rx="8" ry="5.5" fill="#979797" transform="rotate(-20 125 87)"/>
<ellipse cx="128.5" cy="90" rx="2.2" ry="2" fill="#c0c0c0"/>
<ellipse cx="125.5" cy="80.5" rx="2" ry="2" fill="#bcbcbc"/>
<ellipse cx="132.5" cy="86.5" rx="2.6" ry="5" fill="#656565"/>
<ellipse cx="132.5" cy="87" rx="1.3" ry="3.3" fill="#515151"/>
<ellipse cx="113" cy="98.5" rx="5.5" ry="3" fill="#626262" transform="rotate(-25 113 98.5)"/>
<ellipse cx="117.2" cy="96" rx="5.6" ry="3.9" fill="#3b3b3b" transform="rotate(-18 117.2 96)"/>
<ellipse cx="118.2" cy="95.4" rx="4" ry="3" fill="#111111" transform="rotate(-18 118.2 95.4)"/>
<polygon points="104,104 110,98 113,99 108,104" fill="#a0a0a0"/>
<ellipse cx="124" cy="104.5" rx="12" ry="1.5" fill="#b1b1b1"/>
<ellipse cx="106" cy="121.5" rx="5" ry="8.5" fill="#9e9e9e"/>
<ellipse cx="106.3" cy="122" rx="3.6" ry="6.5" fill="#898989"/>
<ellipse cx="107.3" cy="125.5" rx="2.3" ry="3" fill="#767676"/>
<ellipse cx="158.8" cy="116.2" rx="4.2" ry="3.2" fill="#979797" transform="rotate(35 158.8 116.2)"/>
<ellipse cx="167" cy="107.7" rx="2.2" ry="1.9" fill="#959595"/>
<ellipse cx="163.8" cy="123.2" rx="2.8" ry="3" fill="#9a9a9a"/>
<ellipse cx="169.2" cy="132" rx="2.8" ry="2" fill="#9d9d9d"/>
<ellipse cx="176" cy="60" rx="1.5" ry="2" fill="#d2d2d2"/>
</g>
<defs><filter id="bl4" x="-30%" y="-30%" width="160%" height="160%"><feGaussianBlur stdDeviation="3"/></filter></defs>
<g filter="url(#bl4)" opacity="0.45"><polygon points="29.5,62 72,62 80,93 29.5,93" fill="#e8a898"/></g>
<defs><filter id="bl1b" x="-30%" y="-30%" width="160%" height="160%"><feGaussianBlur stdDeviation="1"/></filter></defs>
<g filter="url(#bl1b)" fill="#183810" opacity="0.5">
<ellipse cx="131" cy="68" rx="3.5" ry="5.5" transform="rotate(20 131 68)"/>
<ellipse cx="123" cy="77" rx="5.5" ry="2.8" transform="rotate(-28 123 77)"/>
<ellipse cx="132.5" cy="86" rx="2.6" ry="5" transform="rotate(0 132.5 86)"/>
<ellipse cx="146" cy="72" rx="3.6" ry="3.6" transform="rotate(0 146 72)"/>
<ellipse cx="130" cy="51" rx="4" ry="2.2" transform="rotate(55 130 51)"/>
<ellipse cx="106" cy="121" rx="3.5" ry="6" transform="rotate(0 106 121)"/>
</g>
<g filter="url(#bl4)"><polygon points="152,36 182,36 182,104 160,104 156,80" fill="#a06050" opacity="0.35"/><polygon points="150,100 182,100 182,146 152,146" fill="#801000" opacity="0.28"/></g>
<ellipse cx="121" cy="98" rx="7.5" ry="4.5" fill="#90a8b8" opacity="0.85" filter="url(#bl1b)"/>
<g filter="url(#bl1b)">
<ellipse cx="41.6" cy="69.3" rx="4.8" ry="4.8" fill="#3a0c00" opacity="0.72"/>
<ellipse cx="43.2" cy="71.3" rx="2.0" ry="1.6" fill="#e8c800" opacity="0.7"/>
<ellipse cx="40" cy="84.2" rx="5.3999999999999995" ry="5.3999999999999995" fill="#3a0c00" opacity="0.72"/>
<ellipse cx="41.8" cy="86.45" rx="2.25" ry="1.8" fill="#e8c800" opacity="0.7"/>
<ellipse cx="55.9" cy="83.2" rx="3.5999999999999996" ry="4.8" fill="#3a0c00" opacity="0.72"/>
<ellipse cx="57.1" cy="85.2" rx="1.5" ry="1.6" fill="#e8c800" opacity="0.7"/>
<ellipse cx="33.9" cy="50" rx="3.5999999999999996" ry="3.5999999999999996" fill="#3a0c00" opacity="0.72"/>
<ellipse cx="35.1" cy="51.5" rx="1.5" ry="1.2000000000000002" fill="#e8c800" opacity="0.7"/>
<ellipse cx="59.2" cy="49.7" rx="4.8" ry="3.0" fill="#3a0c00" opacity="0.72"/>
<ellipse cx="60.800000000000004" cy="50.95" rx="2.0" ry="1.0" fill="#e8c800" opacity="0.7"/>
<ellipse cx="70" cy="74" rx="3.5999999999999996" ry="3.5999999999999996" fill="#3a0c00" opacity="0.72"/>
<ellipse cx="71.2" cy="75.5" rx="1.5" ry="1.2000000000000002" fill="#e8c800" opacity="0.7"/>
<ellipse cx="91" cy="85" rx="3.5999999999999996" ry="3.5999999999999996" fill="#3a0c00" opacity="0.72"/>
<ellipse cx="92.2" cy="86.5" rx="1.5" ry="1.2000000000000002" fill="#e8c800" opacity="0.7"/>
<ellipse cx="80" cy="62" rx="3.0" ry="3.0" fill="#3a0c00" opacity="0.72"/>
<ellipse cx="81.0" cy="63.25" rx="1.25" ry="1.0" fill="#e8c800" opacity="0.7"/>
<ellipse cx="100" cy="52" rx="3.5999999999999996" ry="3.0" fill="#3a0c00" opacity="0.72"/>
<ellipse cx="101.2" cy="53.25" rx="1.5" ry="1.0" fill="#e8c800" opacity="0.7"/>
<ellipse cx="140" cy="57" rx="3.5999999999999996" ry="3.5999999999999996" fill="#3a0c00" opacity="0.72"/>
<ellipse cx="141.2" cy="58.5" rx="1.5" ry="1.2000000000000002" fill="#e8c800" opacity="0.7"/>
</g>
<g filter="url(#bl1b)">
<polygon points="84.0,99.0 89.0,99.0 113.0,145.0 108.0,145.0" fill="#ff9030" opacity="0.6"/>
<polygon points="91.0,99.0 94.5,99.0 118.5,145.0 115.0,145.0" fill="#8a1800" opacity="0.45"/>
<polygon points="97.0,99.0 102.0,99.0 126.0,145.0 121.0,145.0" fill="#ff9030" opacity="0.6"/>
<polygon points="104.0,99.0 107.5,99.0 131.5,145.0 128.0,145.0" fill="#8a1800" opacity="0.45"/>
<polygon points="110.0,99.0 115.0,99.0 139.0,145.0 134.0,145.0" fill="#ff9030" opacity="0.6"/>
<polygon points="117.0,99.0 120.5,99.0 144.5,145.0 141.0,145.0" fill="#8a1800" opacity="0.45"/>
<polygon points="123.0,99.0 128.0,99.0 152.0,145.0 147.0,145.0" fill="#ff9030" opacity="0.6"/>
<polygon points="130.0,99.0 133.5,99.0 157.5,145.0 154.0,145.0" fill="#8a1800" opacity="0.45"/>
<polygon points="136.0,99.0 141.0,99.0 165.0,145.0 160.0,145.0" fill="#ff9030" opacity="0.6"/>
<polygon points="143.0,99.0 146.5,99.0 170.5,145.0 167.0,145.0" fill="#8a1800" opacity="0.45"/>
<polygon points="149.0,99.0 154.0,99.0 178.0,145.0 173.0,145.0" fill="#ff9030" opacity="0.6"/>
<polygon points="156.0,99.0 159.5,99.0 183.5,145.0 180.0,145.0" fill="#8a1800" opacity="0.45"/>
</g>
<line x1="29.5" y1="60.5" x2="177.5" y2="60.5" stroke="#c8c8c8" stroke-opacity="0.85" stroke-width="1.6"/>
<line x1="29.5" y1="95" x2="177.5" y2="95" stroke="#c8c8c8" stroke-opacity="0.85" stroke-width="1.6"/></svg></div>
<svg width="520" height="550" viewBox="0 0 520 550" style="position:absolute;left:0;top:0"><defs><linearGradient id="wallg" x1="0" y1="0" x2="0" y2="1"><stop offset="0" stop-color="#d2d2d2"/><stop offset="1" stop-color="#9c9c9c"/></linearGradient></defs><polygon points="283.6,24.6 287.4,25.0 291.2,25.3 295.0,25.6 298.8,26.0 302.6,26.3 306.4,26.7 310.2,27.0 314.0,27.3 317.8,27.7 321.5,28.0 325.3,28.4 329.1,28.7 332.9,29.0 336.7,29.4 340.5,29.7 344.3,30.1 348.1,30.4 351.9,30.7 355.7,31.1 359.5,31.4 363.3,31.8 367.1,32.1 370.9,32.5 374.7,32.8 378.5,33.1 382.3,33.5 386.1,33.8 389.9,34.2 393.7,34.5 397.4,34.8 401.2,35.2 405.0,35.5 408.8,35.9 412.6,36.2 416.4,36.5 420.2,36.9 424.0,37.2 427.8,37.6 431.6,37.9 431.6,39.7 427.8,38.7 424.0,38.6 420.2,39.3 416.4,39.6 412.6,40.3 408.8,40.2 405.0,39.0 401.2,37.6 397.4,37.5 393.7,37.9 389.9,38.3 386.1,38.6 382.3,38.3 378.5,37.5 374.7,36.0 370.9,35.1 367.1,35.7 363.3,36.8 359.5,36.9 355.7,36.7 351.9,35.4 348.1,34.4 344.3,33.2 340.5,34.0 336.7,35.0 332.9,35.3 329.1,35.6 325.3,34.4 321.5,32.7 317.8,32.4 314.0,32.3 310.2,33.4 306.4,34.1 302.6,34.8 298.8,33.9 295.0,32.3 291.2,31.3 287.4,31.9 283.6,32.7" fill="url(#wallg)"/><polygon points="283.4,24.8 285.6,27 272.2,127.8 269.2,129" fill="#dedede" stroke="#a6a6a6" stroke-width="0.5"/></svg>
</body></html>
